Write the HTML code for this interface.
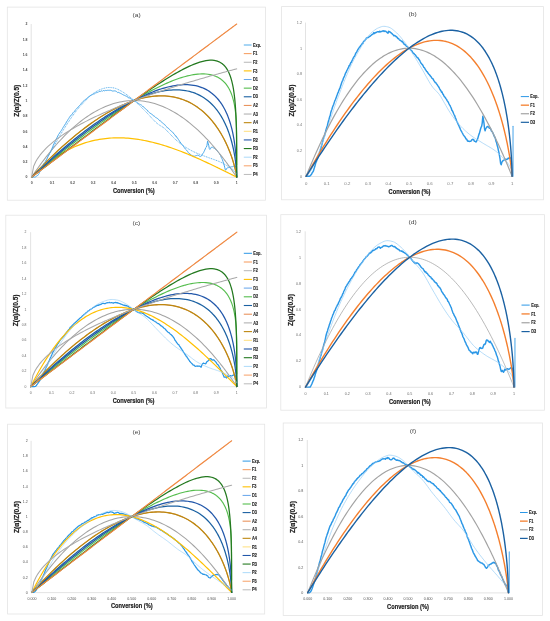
<!DOCTYPE html>
<html lang="en"><head><meta charset="utf-8"><title>Master plots Z(α)/Z(0.5)</title>
<style>html,body{margin:0;padding:0;background:#fff;}svg{display:block;filter:blur(0.3px);font-family:'Liberation Sans', 'DejaVu Sans', sans-serif;}</style>
</head><body>
<svg width="550" height="621" viewBox="0 0 550 621">
<rect width="550" height="621" fill="#fff"/>
<g>
<rect x="7.3" y="7.1" width="258.2" height="193.1" fill="#fff" stroke="#e4e4e4" stroke-width="0.8"/>
<path d="M31.20 24.00V177.30H236.70" fill="none" stroke="#d4d4d4" stroke-width="0.65"/>
<text transform="translate(27.50 178.43) scale(0.950 1)" font-size="3.70" fill="#4d4d4d" text-anchor="end" font-weight="bold">0</text>
<text transform="translate(27.50 163.12) scale(0.950 1)" font-size="3.70" fill="#4d4d4d" text-anchor="end" font-weight="bold">0.2</text>
<text transform="translate(27.50 147.81) scale(0.950 1)" font-size="3.70" fill="#4d4d4d" text-anchor="end" font-weight="bold">0.4</text>
<text transform="translate(27.50 132.50) scale(0.950 1)" font-size="3.70" fill="#4d4d4d" text-anchor="end" font-weight="bold">0.6</text>
<text transform="translate(27.50 117.19) scale(0.950 1)" font-size="3.70" fill="#4d4d4d" text-anchor="end" font-weight="bold">0.8</text>
<text transform="translate(27.50 101.88) scale(0.950 1)" font-size="3.70" fill="#4d4d4d" text-anchor="end" font-weight="bold">1</text>
<text transform="translate(27.50 86.57) scale(0.950 1)" font-size="3.70" fill="#4d4d4d" text-anchor="end" font-weight="bold">1.2</text>
<text transform="translate(27.50 71.26) scale(0.950 1)" font-size="3.70" fill="#4d4d4d" text-anchor="end" font-weight="bold">1.4</text>
<text transform="translate(27.50 55.95) scale(0.950 1)" font-size="3.70" fill="#4d4d4d" text-anchor="end" font-weight="bold">1.6</text>
<text transform="translate(27.50 40.64) scale(0.950 1)" font-size="3.70" fill="#4d4d4d" text-anchor="end" font-weight="bold">1.8</text>
<text transform="translate(27.50 25.33) scale(0.950 1)" font-size="3.70" fill="#4d4d4d" text-anchor="end" font-weight="bold">2</text>
<text transform="translate(31.60 184.23) scale(0.950 1)" font-size="3.70" fill="#4d4d4d" text-anchor="middle" font-weight="bold">0</text>
<text transform="translate(52.11 184.23) scale(0.950 1)" font-size="3.70" fill="#4d4d4d" text-anchor="middle" font-weight="bold">0.1</text>
<text transform="translate(72.62 184.23) scale(0.950 1)" font-size="3.70" fill="#4d4d4d" text-anchor="middle" font-weight="bold">0.2</text>
<text transform="translate(93.13 184.23) scale(0.950 1)" font-size="3.70" fill="#4d4d4d" text-anchor="middle" font-weight="bold">0.3</text>
<text transform="translate(113.64 184.23) scale(0.950 1)" font-size="3.70" fill="#4d4d4d" text-anchor="middle" font-weight="bold">0.4</text>
<text transform="translate(134.15 184.23) scale(0.950 1)" font-size="3.70" fill="#4d4d4d" text-anchor="middle" font-weight="bold">0.5</text>
<text transform="translate(154.66 184.23) scale(0.950 1)" font-size="3.70" fill="#4d4d4d" text-anchor="middle" font-weight="bold">0.6</text>
<text transform="translate(175.17 184.23) scale(0.950 1)" font-size="3.70" fill="#4d4d4d" text-anchor="middle" font-weight="bold">0.7</text>
<text transform="translate(195.68 184.23) scale(0.950 1)" font-size="3.70" fill="#4d4d4d" text-anchor="middle" font-weight="bold">0.8</text>
<text transform="translate(216.19 184.23) scale(0.950 1)" font-size="3.70" fill="#4d4d4d" text-anchor="middle" font-weight="bold">0.9</text>
<text transform="translate(236.70 184.23) scale(0.950 1)" font-size="3.70" fill="#4d4d4d" text-anchor="middle" font-weight="bold">1</text>
<text transform="translate(136.60 16.60) scale(1.080 1)" font-size="6.20" fill="#444444" text-anchor="middle" font-weight="normal">(a)</text>
<text transform="translate(133.80 192.60) scale(0.905 1)" font-size="6.30" fill="#1a1a1a" stroke="#1a1a1a" stroke-width="0.18" text-anchor="middle" font-weight="bold">Conversion (%)</text>
<text transform="translate(19.20 100.70) rotate(-90) scale(1.050 1)" font-size="6.30" fill="#1a1a1a" stroke="#1a1a1a" stroke-width="0.18" text-anchor="middle" font-weight="bold">Z(α)/Z(0.5)</text>
<g fill="none" stroke-linejoin="round" stroke-linecap="round">
<path d="M31.60 177.10L32.17 177.10L32.74 177.10L33.31 177.10L33.89 177.10L34.46 177.10L35.03 177.09L35.60 176.85L36.17 176.44L36.74 176.03L37.31 175.60L37.88 175.44L38.46 174.50L39.03 173.63L39.60 172.32L40.17 171.55L40.74 170.24L41.31 169.29L41.88 168.18L42.45 167.20L43.03 166.61L43.60 165.35L44.17 164.46L44.74 163.52L45.31 162.32L45.88 161.34L46.45 159.95L47.03 158.77L47.60 157.36L48.17 156.01L48.74 155.05L49.31 153.87L49.88 152.80L50.45 151.70L51.02 150.51L51.60 149.20L52.17 148.14L52.74 146.65L53.31 145.13L53.88 144.02L54.45 142.94L55.02 141.84L55.59 140.61L56.17 139.00L56.74 138.12L57.31 137.11L57.88 135.92L58.45 134.60L59.02 133.98L59.59 132.98L60.17 132.13L60.74 131.35L61.31 130.58L61.88 129.55L62.45 128.65L63.02 127.65L63.59 126.73L64.16 125.82L64.74 125.02L65.31 123.97L65.88 123.29L66.45 121.98L67.02 121.14L67.59 120.33L68.16 119.30L68.74 118.53L69.31 117.52L69.88 116.66L70.45 115.78L71.02 115.64L71.59 114.91L72.16 114.04L72.73 113.22L73.31 112.41L73.88 111.81L74.45 111.52L75.02 110.57L75.59 109.72L76.16 109.18L76.73 108.45L77.30 107.99L77.88 107.36L78.45 106.67L79.02 106.01L79.59 105.42L80.16 104.80L80.73 104.28L81.30 103.46L81.88 102.86L82.45 102.06L83.02 101.44L83.59 101.04L84.16 100.61L84.73 100.15L85.30 99.50L85.87 99.11L86.45 98.73L87.02 98.21L87.59 97.86L88.16 97.17L88.73 96.90L89.30 96.17L89.87 95.89L90.44 95.49L91.02 95.44L91.59 94.91L92.16 94.53L92.73 94.54L93.30 94.16L93.87 93.85L94.44 93.83L95.02 93.30L95.59 92.95L96.16 92.98L96.73 92.51L97.30 92.53L97.87 92.08L98.44 92.12L99.01 91.48L99.59 91.45L100.16 91.39L100.73 91.39L101.30 90.93L101.87 90.70L102.44 91.25L103.01 90.65L103.58 90.50L104.16 90.65L104.73 90.84L105.30 90.42L105.87 90.53L106.44 90.54L107.01 90.59L107.58 90.25L108.16 90.17L108.73 90.40L109.30 90.21L109.87 90.53L110.44 90.27L111.01 90.48L111.58 90.63L112.15 90.92L112.73 91.06L113.30 91.02L113.87 90.91L114.44 90.88L115.01 90.96L115.58 91.07L116.15 91.42L116.73 91.66L117.30 92.13L117.87 92.74L118.44 92.38L119.01 92.41L119.58 92.92L120.15 93.23L120.72 93.48L121.30 93.73L121.87 93.97L122.44 94.45L123.01 94.64L123.58 95.02L124.15 95.12L124.72 95.52L125.29 95.70L125.87 96.13L126.44 96.26L127.01 96.72L127.58 96.72L128.15 97.74L128.72 97.86L129.29 97.91L129.87 97.95L130.44 98.71L131.01 98.94L131.58 99.26L132.15 99.28L132.72 99.83L133.29 99.96L133.86 100.44L134.44 100.93L135.01 101.02L135.58 101.36L136.15 101.61L136.72 102.24L137.29 102.73L137.86 102.93L138.43 103.39L139.01 103.78L139.58 104.22L140.15 104.39L140.72 104.89L141.29 105.00L141.86 105.52L142.43 106.01L143.01 106.85L143.58 106.95L144.15 107.48L144.72 107.93L145.29 108.43L145.86 109.21L146.43 109.55L147.00 110.32L147.58 110.43L148.15 111.51L148.72 112.08L149.29 112.55L149.86 112.90L150.43 113.40L151.00 113.35L151.57 114.20L152.15 114.82L152.72 114.86L153.29 115.60L153.86 116.16L154.43 116.26L155.00 116.75L155.57 117.39L156.15 117.53L156.72 118.19L157.29 118.38L157.86 119.01L158.43 119.28L159.00 119.96L159.57 120.63L160.14 120.47L160.72 121.43L161.29 121.84L161.86 122.40L162.43 122.81L163.00 123.24L163.57 123.75L164.14 124.20L164.72 124.53L165.29 125.39L165.86 126.11L166.43 126.65L167.00 127.11L167.57 127.82L168.14 127.95L168.71 128.72L169.29 129.23L169.86 129.72L170.43 130.49L171.00 130.94L171.57 131.23L172.14 131.80L172.71 132.55L173.28 132.77L173.86 133.90L174.43 134.37L175.00 135.02L175.57 136.16L176.14 136.10L176.71 137.13L177.28 138.15L177.86 138.43L178.43 139.49L179.00 140.33L179.57 141.31L180.14 141.99L180.71 143.05L181.28 143.43L181.85 144.39L182.43 145.08L183.00 145.67L183.57 146.59L184.14 147.35L184.71 148.09L185.28 148.98L185.85 149.41L186.42 149.96L187.00 150.76L187.57 151.40L188.14 152.33L188.71 152.94L189.28 153.61L189.85 153.68L190.42 154.41L191.00 154.59L191.57 155.38L192.14 155.67L192.71 155.84L193.28 155.92L193.85 156.23L194.42 156.23L194.99 156.09L195.57 155.83L196.14 155.83L196.71 155.38L197.28 155.22L197.85 155.15L198.42 155.37L198.99 156.00L199.56 156.16L200.14 156.41L200.71 156.35L201.28 155.94L201.85 155.57L202.42 154.55L202.99 153.27L203.56 152.66L204.14 151.40L204.71 150.21L205.28 148.93L205.85 147.51L206.42 146.96L206.99 145.32L207.56 141.19L208.13 143.14L208.71 145.20L209.28 148.53L209.85 149.41L210.42 148.83L210.99 147.52L211.56 147.33L212.13 147.14L212.71 147.38L213.28 147.77L213.85 148.14L214.42 148.36L214.99 148.87L215.56 149.15L216.13 149.86L216.70 150.20L217.28 150.82L217.85 151.83L218.42 152.25L218.99 153.23L219.56 153.78L220.13 154.78L220.70 155.72L221.27 157.34L221.85 158.54L222.42 159.66L222.99 161.48L223.56 163.32L224.13 165.11L224.70 167.20L225.27 169.77L225.85 170.21L226.42 168.65L226.99 168.38L227.56 167.89L228.13 167.72L228.70 167.51L229.27 167.39L229.84 167.26L230.42 167.05L230.99 167.23L231.56 166.75L232.13 166.63L232.70 166.65L233.27 166.33L233.84 166.45L234.41 166.28L234.99 166.04L235.56 166.03L236.13 169.27L236.70 177.10" stroke="#47a7ea" stroke-width="1.00" />
<path d="M237.62 177.10L237.62 177.10" stroke="#4fabea" stroke-width="0.70" />
<path d="M31.60 177.10L33.65 174.90L35.70 172.73L37.75 170.57L39.80 168.44L41.86 166.34L43.91 164.25L45.96 162.19L48.01 160.16L50.06 158.14L52.11 156.16L54.16 154.19L56.21 152.25L58.26 150.34L60.31 148.45L62.36 146.59L64.42 144.75L66.47 142.94L68.52 141.16L70.57 139.40L72.62 137.67L74.67 135.97L76.72 134.29L78.77 132.65L80.82 131.03L82.88 129.44L84.93 127.88L86.98 126.36L89.03 124.86L91.08 123.39L93.13 121.95L95.18 120.55L97.23 119.18L99.28 117.83L101.33 116.53L103.39 115.25L105.44 114.01L107.49 112.81L109.54 111.64L111.59 110.50L113.64 109.40L115.69 108.34L117.74 107.32L119.79 106.33L121.84 105.38L123.90 104.47L125.95 103.61L128.00 102.78L130.05 101.99L132.10 101.25L134.15 100.55L136.20 99.89L138.25 99.28L140.30 98.72L142.35 98.20L144.41 97.73L146.46 97.31L148.51 96.94L150.56 96.62L152.61 96.36L154.66 96.15L156.71 95.99L158.76 95.89L160.81 95.85L162.86 95.86L164.91 95.94L166.97 96.08L169.02 96.29L171.07 96.56L173.12 96.91L175.17 97.32L177.22 97.81L179.27 98.37L181.32 99.02L183.37 99.74L185.42 100.55L187.48 101.45L189.53 102.44L191.58 103.52L193.63 104.71L195.68 106.00L197.73 107.40L199.78 108.92L201.83 110.56L203.88 112.34L205.93 114.25L207.99 116.30L210.04 118.52L212.09 120.90L214.14 123.47L216.19 126.24L216.60 126.82L217.01 127.41L217.42 128.01L217.83 128.62L218.24 129.23L218.65 129.86L219.06 130.50L219.47 131.14L219.88 131.80L220.29 132.47L220.70 133.15L221.11 133.84L221.52 134.54L221.93 135.26L222.34 135.98L222.75 136.72L223.16 137.48L223.57 138.24L223.98 139.02L224.39 139.82L224.80 140.62L225.21 141.45L225.62 142.29L226.03 143.14L226.44 144.02L226.86 144.91L227.27 145.82L227.68 146.74L228.09 147.69L228.50 148.66L228.91 149.65L229.32 150.67L229.73 151.71L230.14 152.77L230.55 153.86L230.96 154.99L231.37 156.14L231.78 157.33L232.19 158.55L232.60 159.82L233.01 161.13L233.42 162.49L233.83 163.90L234.24 165.38L234.65 166.93L234.70 167.13L234.75 167.33L234.80 167.53L234.85 167.74L234.91 167.94L234.96 168.15L235.01 168.36L235.06 168.57L235.11 168.78L235.16 168.99L235.21 169.21L235.26 169.43L235.32 169.65L235.37 169.87L235.42 170.09L235.47 170.32L235.52 170.55L235.57 170.78L235.62 171.01L235.67 171.25L235.73 171.49L235.78 171.73L235.83 171.97L235.88 172.22L235.93 172.47L235.98 172.73L236.03 172.99L236.08 173.25L236.14 173.52L236.19 173.79L236.24 174.07L236.29 174.35L236.34 174.65L236.39 174.95L236.44 175.25L236.49 175.57L236.55 175.91L236.60 176.26L236.65 176.64L236.70 177.10" stroke="#f47f2e" stroke-width="0.33" />
<path d="M31.60 177.10L33.65 174.07L35.70 171.10L37.75 168.19L39.80 165.34L41.86 162.56L43.91 159.83L45.96 157.17L48.01 154.56L50.06 152.02L52.11 149.54L54.16 147.12L56.21 144.77L58.26 142.47L60.31 140.23L62.36 138.06L64.42 135.95L66.47 133.90L68.52 131.90L70.57 129.98L72.62 128.11L74.67 126.30L76.72 124.56L78.77 122.87L80.82 121.25L82.88 119.69L84.93 118.19L86.98 116.75L89.03 115.37L91.08 114.05L93.13 112.80L95.18 111.60L97.23 110.47L99.28 109.40L101.33 108.39L103.39 107.44L105.44 106.55L107.49 105.72L109.54 104.96L111.59 104.26L113.64 103.61L115.69 103.03L117.74 102.51L119.79 102.05L121.84 101.65L123.90 101.32L125.95 101.04L128.00 100.83L130.05 100.67L132.10 100.58L134.15 100.55L136.20 100.58L138.25 100.67L140.30 100.83L142.35 101.04L144.41 101.32L146.46 101.65L148.51 102.05L150.56 102.51L152.61 103.03L154.66 103.61L156.71 104.26L158.76 104.96L160.81 105.72L162.86 106.55L164.91 107.44L166.97 108.39L169.02 109.40L171.07 110.47L173.12 111.60L175.17 112.80L177.22 114.05L179.27 115.37L181.32 116.75L183.37 118.19L185.42 119.69L187.48 121.25L189.53 122.87L191.58 124.56L193.63 126.30L195.68 128.11L197.73 129.98L199.78 131.90L201.83 133.90L203.88 135.95L205.93 138.06L207.99 140.23L210.04 142.47L212.09 144.77L214.14 147.12L216.19 149.54L216.60 150.03L217.01 150.53L217.42 151.02L217.83 151.52L218.24 152.02L218.65 152.53L219.06 153.03L219.47 153.54L219.88 154.05L220.29 154.56L220.70 155.08L221.11 155.60L221.52 156.12L221.93 156.64L222.34 157.17L222.75 157.69L223.16 158.22L223.57 158.76L223.98 159.29L224.39 159.83L224.80 160.37L225.21 160.91L225.62 161.46L226.03 162.01L226.44 162.56L226.86 163.11L227.27 163.66L227.68 164.22L228.09 164.78L228.50 165.34L228.91 165.91L229.32 166.47L229.73 167.04L230.14 167.62L230.55 168.19L230.96 168.77L231.37 169.35L231.78 169.93L232.19 170.51L232.60 171.10L233.01 171.69L233.42 172.28L233.83 172.87L234.24 173.47L234.65 174.07L234.70 174.14L234.75 174.22L234.80 174.29L234.85 174.37L234.91 174.44L234.96 174.52L235.01 174.59L235.06 174.67L235.11 174.75L235.16 174.82L235.21 174.90L235.26 174.97L235.32 175.05L235.37 175.12L235.42 175.20L235.47 175.27L235.52 175.35L235.57 175.43L235.62 175.50L235.67 175.58L235.73 175.65L235.78 175.73L235.83 175.80L235.88 175.88L235.93 175.96L235.98 176.03L236.03 176.11L236.08 176.18L236.14 176.26L236.19 176.34L236.24 176.41L236.29 176.49L236.34 176.57L236.39 176.64L236.44 176.72L236.49 176.79L236.55 176.87L236.60 176.95L236.65 177.02L236.70 177.10" stroke="#a3a3a3" stroke-width="1.05" />
<path d="M31.60 177.10L33.65 175.09L35.70 173.14L37.75 171.25L39.80 169.42L41.86 167.65L43.91 165.93L45.96 164.28L48.01 162.68L50.06 161.13L52.11 159.65L54.16 158.21L56.21 156.84L58.26 155.51L60.31 154.24L62.36 153.03L64.42 151.86L66.47 150.75L68.52 149.68L70.57 148.67L72.62 147.70L74.67 146.79L76.72 145.92L78.77 145.11L80.82 144.33L82.88 143.61L84.93 142.93L86.98 142.30L89.03 141.71L91.08 141.16L93.13 140.66L95.18 140.20L97.23 139.79L99.28 139.41L101.33 139.08L103.39 138.79L105.44 138.53L107.49 138.32L109.54 138.14L111.59 138.01L113.64 137.91L115.69 137.84L117.74 137.82L119.79 137.82L121.84 137.87L123.90 137.94L125.95 138.06L128.00 138.20L130.05 138.38L132.10 138.59L134.15 138.82L136.20 139.10L138.25 139.40L140.30 139.73L142.35 140.08L144.41 140.47L146.46 140.89L148.51 141.33L150.56 141.79L152.61 142.29L154.66 142.81L156.71 143.35L158.76 143.92L160.81 144.51L162.86 145.12L164.91 145.75L166.97 146.41L169.02 147.09L171.07 147.78L173.12 148.50L175.17 149.24L177.22 149.99L179.27 150.76L181.32 151.55L183.37 152.36L185.42 153.18L187.48 154.01L189.53 154.87L191.58 155.73L193.63 156.61L195.68 157.50L197.73 158.41L199.78 159.32L201.83 160.25L203.88 161.19L205.93 162.13L207.99 163.09L210.04 164.06L212.09 165.03L214.14 166.01L216.19 167.00L216.60 167.19L217.01 167.39L217.42 167.59L217.83 167.79L218.24 167.99L218.65 168.19L219.06 168.39L219.47 168.59L219.88 168.79L220.29 168.99L220.70 169.19L221.11 169.39L221.52 169.59L221.93 169.79L222.34 169.99L222.75 170.19L223.16 170.39L223.57 170.59L223.98 170.80L224.39 171.00L224.80 171.20L225.21 171.40L225.62 171.60L226.03 171.81L226.44 172.01L226.86 172.21L227.27 172.41L227.68 172.62L228.09 172.82L228.50 173.02L228.91 173.23L229.32 173.43L229.73 173.63L230.14 173.84L230.55 174.04L230.96 174.24L231.37 174.45L231.78 174.65L232.19 174.86L232.60 175.06L233.01 175.26L233.42 175.47L233.83 175.67L234.24 175.88L234.65 176.08L234.70 176.10L234.75 176.13L234.80 176.16L234.85 176.18L234.91 176.21L234.96 176.23L235.01 176.26L235.06 176.28L235.11 176.31L235.16 176.33L235.21 176.36L235.26 176.39L235.32 176.41L235.37 176.44L235.42 176.46L235.47 176.49L235.52 176.51L235.57 176.54L235.62 176.56L235.67 176.59L235.73 176.62L235.78 176.64L235.83 176.67L235.88 176.69L235.93 176.72L235.98 176.74L236.03 176.77L236.08 176.79L236.14 176.82L236.19 176.84L236.24 176.87L236.29 176.90L236.34 176.92L236.39 176.95L236.44 176.97L236.49 177.00L236.55 177.02L236.60 177.05L236.65 177.07L236.70 177.10" stroke="#ffc000" stroke-width="1.20" />
<path d="M31.60 177.10L33.65 175.57L35.70 174.04L37.75 172.51L39.80 170.98L41.86 169.44L43.91 167.91L45.96 166.38L48.01 164.85L50.06 163.32L52.11 161.79L54.16 160.26L56.21 158.73L58.26 157.20L60.31 155.67L62.36 154.13L64.42 152.60L66.47 151.07L68.52 149.54L70.57 148.01L72.62 146.48L74.67 144.95L76.72 143.42L78.77 141.89L80.82 140.36L82.88 138.82L84.93 137.29L86.98 135.76L89.03 134.23L91.08 132.70L93.13 131.17L95.18 129.64L97.23 128.11L99.28 126.58L101.33 125.05L103.39 123.51L105.44 121.98L107.49 120.45L109.54 118.92L111.59 117.39L113.64 115.86L115.69 114.33L117.74 112.80L119.79 111.27L121.84 109.74L123.90 108.20L125.95 106.67L128.00 105.14L130.05 103.61L132.10 102.08L134.15 100.55L136.20 99.02L138.25 97.49L140.30 95.96L142.35 94.43L144.41 92.89L146.46 91.36L148.51 89.83L150.56 88.30L152.61 86.77L154.66 85.24L156.71 83.71L158.76 82.18L160.81 80.65L162.86 79.12L164.91 77.58L166.97 76.05L169.02 74.52L171.07 72.99L173.12 71.46L175.17 69.93L177.22 68.40L179.27 66.87L181.32 65.34L183.37 63.81L185.42 62.28L187.48 60.74L189.53 59.21L191.58 57.68L193.63 56.15L195.68 54.62L197.73 53.09L199.78 51.56L201.83 50.03L203.88 48.50L205.93 46.97L207.99 45.43L210.04 43.90L212.09 42.37L214.14 40.84L216.19 39.31L216.60 39.00L217.01 38.70L217.42 38.39L217.83 38.09L218.24 37.78L218.65 37.47L219.06 37.17L219.47 36.86L219.88 36.55L220.29 36.25L220.70 35.94L221.11 35.64L221.52 35.33L221.93 35.02L222.34 34.72L222.75 34.41L223.16 34.10L223.57 33.80L223.98 33.49L224.39 33.19L224.80 32.88L225.21 32.57L225.62 32.27L226.03 31.96L226.44 31.66L226.86 31.35L227.27 31.04L227.68 30.74L228.09 30.43L228.50 30.12L228.91 29.82L229.32 29.51L229.73 29.21L230.14 28.90L230.55 28.59L230.96 28.29L231.37 27.98L231.78 27.67L232.19 27.37L232.60 27.06L233.01 26.76L233.42 26.45L233.83 26.14L234.24 25.84L234.65 25.53L234.70 25.49L234.75 25.45L234.80 25.42L234.85 25.38L234.91 25.34L234.96 25.30L235.01 25.26L235.06 25.22L235.11 25.19L235.16 25.15L235.21 25.11L235.26 25.07L235.32 25.03L235.37 25.00L235.42 24.96L235.47 24.92L235.52 24.88L235.57 24.84L235.62 24.80L235.67 24.77L235.73 24.73L235.78 24.69L235.83 24.65L235.88 24.61L235.93 24.57L235.98 24.54L236.03 24.50L236.08 24.46L236.14 24.42L236.19 24.38L236.24 24.34L236.29 24.31L236.34 24.27L236.39 24.23L236.44 24.19L236.49 24.15L236.55 24.11L236.60 24.08L236.65 24.04L236.70 24.00" stroke="#3d8ee6" stroke-width="0.33" />
<path d="M31.60 177.10L33.65 175.37L35.70 173.65L37.75 171.94L39.80 170.23L41.86 168.53L43.91 166.83L45.96 165.14L48.01 163.46L50.06 161.78L52.11 160.11L54.16 158.45L56.21 156.79L58.26 155.14L60.31 153.50L62.36 151.86L64.42 150.24L66.47 148.62L68.52 147.00L70.57 145.40L72.62 143.80L74.67 142.21L76.72 140.63L78.77 139.06L80.82 137.50L82.88 135.94L84.93 134.39L86.98 132.86L89.03 131.33L91.08 129.81L93.13 128.30L95.18 126.80L97.23 125.31L99.28 123.84L101.33 122.37L103.39 120.91L105.44 119.46L107.49 118.03L109.54 116.61L111.59 115.20L113.64 113.80L115.69 112.41L117.74 111.04L119.79 109.68L121.84 108.33L123.90 106.99L125.95 105.68L128.00 104.37L130.05 103.08L132.10 101.81L134.15 100.55L136.20 99.31L138.25 98.09L140.30 96.88L142.35 95.69L144.41 94.52L146.46 93.37L148.51 92.24L150.56 91.13L152.61 90.04L154.66 88.98L156.71 87.93L158.76 86.92L160.81 85.92L162.86 84.96L164.91 84.02L166.97 83.11L169.02 82.23L171.07 81.38L173.12 80.56L175.17 79.78L177.22 79.03L179.27 78.33L181.32 77.66L183.37 77.04L185.42 76.46L187.48 75.93L189.53 75.45L191.58 75.03L193.63 74.66L195.68 74.36L197.73 74.13L199.78 73.98L201.83 73.90L203.88 73.91L205.93 74.03L207.99 74.25L210.04 74.59L212.09 75.06L214.14 75.70L216.19 76.51L216.60 76.70L217.01 76.89L217.42 77.09L217.83 77.31L218.24 77.53L218.65 77.76L219.06 78.00L219.47 78.26L219.88 78.52L220.29 78.80L220.70 79.08L221.11 79.38L221.52 79.70L221.93 80.02L222.34 80.36L222.75 80.72L223.16 81.09L223.57 81.48L223.98 81.88L224.39 82.30L224.80 82.74L225.21 83.20L225.62 83.69L226.03 84.19L226.44 84.72L226.86 85.28L227.27 85.86L227.68 86.47L228.09 87.11L228.50 87.79L228.91 88.51L229.32 89.26L229.73 90.06L230.14 90.91L230.55 91.81L230.96 92.77L231.37 93.80L231.78 94.90L232.19 96.09L232.60 97.38L233.01 98.79L233.42 100.34L233.83 102.06L234.24 104.00L234.65 106.21L234.70 106.51L234.75 106.82L234.80 107.14L234.85 107.46L234.91 107.78L234.96 108.12L235.01 108.46L235.06 108.81L235.11 109.17L235.16 109.54L235.21 109.92L235.26 110.31L235.32 110.71L235.37 111.12L235.42 111.55L235.47 111.98L235.52 112.43L235.57 112.90L235.62 113.38L235.67 113.88L235.73 114.40L235.78 114.94L235.83 115.51L235.88 116.10L235.93 116.72L235.98 117.37L236.03 118.06L236.08 118.78L236.14 119.56L236.19 120.39L236.24 121.28L236.29 122.25L236.34 123.32L236.39 124.51L236.44 125.86L236.49 127.43L236.55 129.33L236.60 131.80L236.65 135.50L236.70 164.58" stroke="#55bd4e" stroke-width="1.15" />
<path d="M31.60 177.10L33.65 175.14L35.70 173.20L37.75 171.27L39.80 169.35L41.86 167.45L43.91 165.56L45.96 163.69L48.01 161.83L50.06 159.98L52.11 158.15L54.16 156.34L56.21 154.54L58.26 152.75L60.31 150.98L62.36 149.23L64.42 147.49L66.47 145.77L68.52 144.07L70.57 142.38L72.62 140.71L74.67 139.06L76.72 137.43L78.77 135.81L80.82 134.22L82.88 132.64L84.93 131.08L86.98 129.54L89.03 128.02L91.08 126.52L93.13 125.05L95.18 123.59L97.23 122.15L99.28 120.74L101.33 119.35L103.39 117.98L105.44 116.63L107.49 115.31L109.54 114.02L111.59 112.74L113.64 111.50L115.69 110.27L117.74 109.08L119.79 107.91L121.84 106.77L123.90 105.66L125.95 104.58L128.00 103.52L130.05 102.50L132.10 101.51L134.15 100.55L136.20 99.62L138.25 98.73L140.30 97.87L142.35 97.05L144.41 96.27L146.46 95.52L148.51 94.81L150.56 94.15L152.61 93.52L154.66 92.94L156.71 92.40L158.76 91.91L160.81 91.46L162.86 91.07L164.91 90.72L166.97 90.43L169.02 90.20L171.07 90.02L173.12 89.90L175.17 89.84L177.22 89.85L179.27 89.93L181.32 90.08L183.37 90.30L185.42 90.60L187.48 90.99L189.53 91.46L191.58 92.03L193.63 92.69L195.68 93.46L197.73 94.34L199.78 95.34L201.83 96.48L203.88 97.75L205.93 99.17L207.99 100.75L210.04 102.52L212.09 104.48L214.14 106.67L216.19 109.10L216.60 109.62L217.01 110.15L217.42 110.69L217.83 111.25L218.24 111.82L218.65 112.40L219.06 112.99L219.47 113.60L219.88 114.22L220.29 114.86L220.70 115.51L221.11 116.18L221.52 116.87L221.93 117.57L222.34 118.29L222.75 119.02L223.16 119.78L223.57 120.55L223.98 121.35L224.39 122.17L224.80 123.01L225.21 123.87L225.62 124.76L226.03 125.67L226.44 126.61L226.86 127.58L227.27 128.57L227.68 129.60L228.09 130.67L228.50 131.77L228.91 132.91L229.32 134.09L229.73 135.31L230.14 136.58L230.55 137.90L230.96 139.28L231.37 140.72L231.78 142.23L232.19 143.81L232.60 145.48L233.01 147.25L233.42 149.12L233.83 151.13L234.24 153.29L234.65 155.65L234.70 155.96L234.75 156.27L234.80 156.59L234.85 156.92L234.91 157.24L234.96 157.57L235.01 157.91L235.06 158.25L235.11 158.60L235.16 158.95L235.21 159.31L235.26 159.67L235.32 160.04L235.37 160.41L235.42 160.80L235.47 161.18L235.52 161.58L235.57 161.99L235.62 162.40L235.67 162.82L235.73 163.25L235.78 163.70L235.83 164.15L235.88 164.61L235.93 165.09L235.98 165.58L236.03 166.09L236.08 166.61L236.14 167.16L236.19 167.72L236.24 168.31L236.29 168.93L236.34 169.58L236.39 170.27L236.44 171.00L236.49 171.80L236.55 172.68L236.60 173.68L236.65 174.91L236.70 177.10" stroke="#1b61a2" stroke-width="1.25" />
<path d="M31.60 177.10L33.65 174.90L35.70 172.73L37.75 170.57L39.80 168.44L41.86 166.34L43.91 164.25L45.96 162.19L48.01 160.16L50.06 158.14L52.11 156.16L54.16 154.19L56.21 152.25L58.26 150.34L60.31 148.45L62.36 146.59L64.42 144.75L66.47 142.94L68.52 141.16L70.57 139.40L72.62 137.67L74.67 135.97L76.72 134.29L78.77 132.65L80.82 131.03L82.88 129.44L84.93 127.88L86.98 126.36L89.03 124.86L91.08 123.39L93.13 121.95L95.18 120.55L97.23 119.18L99.28 117.83L101.33 116.53L103.39 115.25L105.44 114.01L107.49 112.81L109.54 111.64L111.59 110.50L113.64 109.40L115.69 108.34L117.74 107.32L119.79 106.33L121.84 105.38L123.90 104.47L125.95 103.61L128.00 102.78L130.05 101.99L132.10 101.25L134.15 100.55L136.20 99.89L138.25 99.28L140.30 98.72L142.35 98.20L144.41 97.73L146.46 97.31L148.51 96.94L150.56 96.62L152.61 96.36L154.66 96.15L156.71 95.99L158.76 95.89L160.81 95.85L162.86 95.86L164.91 95.94L166.97 96.08L169.02 96.29L171.07 96.56L173.12 96.91L175.17 97.32L177.22 97.81L179.27 98.37L181.32 99.02L183.37 99.74L185.42 100.55L187.48 101.45L189.53 102.44L191.58 103.52L193.63 104.71L195.68 106.00L197.73 107.40L199.78 108.92L201.83 110.56L203.88 112.34L205.93 114.25L207.99 116.30L210.04 118.52L212.09 120.90L214.14 123.47L216.19 126.24L216.60 126.82L217.01 127.41L217.42 128.01L217.83 128.62L218.24 129.23L218.65 129.86L219.06 130.50L219.47 131.14L219.88 131.80L220.29 132.47L220.70 133.15L221.11 133.84L221.52 134.54L221.93 135.26L222.34 135.98L222.75 136.72L223.16 137.48L223.57 138.24L223.98 139.02L224.39 139.82L224.80 140.62L225.21 141.45L225.62 142.29L226.03 143.14L226.44 144.02L226.86 144.91L227.27 145.82L227.68 146.74L228.09 147.69L228.50 148.66L228.91 149.65L229.32 150.67L229.73 151.71L230.14 152.77L230.55 153.86L230.96 154.99L231.37 156.14L231.78 157.33L232.19 158.55L232.60 159.82L233.01 161.13L233.42 162.49L233.83 163.90L234.24 165.38L234.65 166.93L234.70 167.13L234.75 167.33L234.80 167.53L234.85 167.74L234.91 167.94L234.96 168.15L235.01 168.36L235.06 168.57L235.11 168.78L235.16 168.99L235.21 169.21L235.26 169.43L235.32 169.65L235.37 169.87L235.42 170.09L235.47 170.32L235.52 170.55L235.57 170.78L235.62 171.01L235.67 171.25L235.73 171.49L235.78 171.73L235.83 171.97L235.88 172.22L235.93 172.47L235.98 172.73L236.03 172.99L236.08 173.25L236.14 173.52L236.19 173.79L236.24 174.07L236.29 174.35L236.34 174.65L236.39 174.95L236.44 175.25L236.49 175.57L236.55 175.91L236.60 176.26L236.65 176.64L236.70 177.10" stroke="#e47c3a" stroke-width="0.33" />
<path d="M31.60 177.10L33.65 174.90L35.70 172.73L37.75 170.57L39.80 168.44L41.86 166.34L43.91 164.25L45.96 162.19L48.01 160.16L50.06 158.14L52.11 156.16L54.16 154.19L56.21 152.25L58.26 150.34L60.31 148.45L62.36 146.59L64.42 144.75L66.47 142.94L68.52 141.16L70.57 139.40L72.62 137.67L74.67 135.97L76.72 134.29L78.77 132.65L80.82 131.03L82.88 129.44L84.93 127.88L86.98 126.36L89.03 124.86L91.08 123.39L93.13 121.95L95.18 120.55L97.23 119.18L99.28 117.83L101.33 116.53L103.39 115.25L105.44 114.01L107.49 112.81L109.54 111.64L111.59 110.50L113.64 109.40L115.69 108.34L117.74 107.32L119.79 106.33L121.84 105.38L123.90 104.47L125.95 103.61L128.00 102.78L130.05 101.99L132.10 101.25L134.15 100.55L136.20 99.89L138.25 99.28L140.30 98.72L142.35 98.20L144.41 97.73L146.46 97.31L148.51 96.94L150.56 96.62L152.61 96.36L154.66 96.15L156.71 95.99L158.76 95.89L160.81 95.85L162.86 95.86L164.91 95.94L166.97 96.08L169.02 96.29L171.07 96.56L173.12 96.91L175.17 97.32L177.22 97.81L179.27 98.37L181.32 99.02L183.37 99.74L185.42 100.55L187.48 101.45L189.53 102.44L191.58 103.52L193.63 104.71L195.68 106.00L197.73 107.40L199.78 108.92L201.83 110.56L203.88 112.34L205.93 114.25L207.99 116.30L210.04 118.52L212.09 120.90L214.14 123.47L216.19 126.24L216.60 126.82L217.01 127.41L217.42 128.01L217.83 128.62L218.24 129.23L218.65 129.86L219.06 130.50L219.47 131.14L219.88 131.80L220.29 132.47L220.70 133.15L221.11 133.84L221.52 134.54L221.93 135.26L222.34 135.98L222.75 136.72L223.16 137.48L223.57 138.24L223.98 139.02L224.39 139.82L224.80 140.62L225.21 141.45L225.62 142.29L226.03 143.14L226.44 144.02L226.86 144.91L227.27 145.82L227.68 146.74L228.09 147.69L228.50 148.66L228.91 149.65L229.32 150.67L229.73 151.71L230.14 152.77L230.55 153.86L230.96 154.99L231.37 156.14L231.78 157.33L232.19 158.55L232.60 159.82L233.01 161.13L233.42 162.49L233.83 163.90L234.24 165.38L234.65 166.93L234.70 167.13L234.75 167.33L234.80 167.53L234.85 167.74L234.91 167.94L234.96 168.15L235.01 168.36L235.06 168.57L235.11 168.78L235.16 168.99L235.21 169.21L235.26 169.43L235.32 169.65L235.37 169.87L235.42 170.09L235.47 170.32L235.52 170.55L235.57 170.78L235.62 171.01L235.67 171.25L235.73 171.49L235.78 171.73L235.83 171.97L235.88 172.22L235.93 172.47L235.98 172.73L236.03 172.99L236.08 173.25L236.14 173.52L236.19 173.79L236.24 174.07L236.29 174.35L236.34 174.65L236.39 174.95L236.44 175.25L236.49 175.57L236.55 175.91L236.60 176.26L236.65 176.64L236.70 177.10" stroke="#a0a0a0" stroke-width="0.33" />
<path d="M31.60 177.10L33.65 174.90L35.70 172.73L37.75 170.57L39.80 168.44L41.86 166.34L43.91 164.25L45.96 162.19L48.01 160.16L50.06 158.14L52.11 156.16L54.16 154.19L56.21 152.25L58.26 150.34L60.31 148.45L62.36 146.59L64.42 144.75L66.47 142.94L68.52 141.16L70.57 139.40L72.62 137.67L74.67 135.97L76.72 134.29L78.77 132.65L80.82 131.03L82.88 129.44L84.93 127.88L86.98 126.36L89.03 124.86L91.08 123.39L93.13 121.95L95.18 120.55L97.23 119.18L99.28 117.83L101.33 116.53L103.39 115.25L105.44 114.01L107.49 112.81L109.54 111.64L111.59 110.50L113.64 109.40L115.69 108.34L117.74 107.32L119.79 106.33L121.84 105.38L123.90 104.47L125.95 103.61L128.00 102.78L130.05 101.99L132.10 101.25L134.15 100.55L136.20 99.89L138.25 99.28L140.30 98.72L142.35 98.20L144.41 97.73L146.46 97.31L148.51 96.94L150.56 96.62L152.61 96.36L154.66 96.15L156.71 95.99L158.76 95.89L160.81 95.85L162.86 95.86L164.91 95.94L166.97 96.08L169.02 96.29L171.07 96.56L173.12 96.91L175.17 97.32L177.22 97.81L179.27 98.37L181.32 99.02L183.37 99.74L185.42 100.55L187.48 101.45L189.53 102.44L191.58 103.52L193.63 104.71L195.68 106.00L197.73 107.40L199.78 108.92L201.83 110.56L203.88 112.34L205.93 114.25L207.99 116.30L210.04 118.52L212.09 120.90L214.14 123.47L216.19 126.24L216.60 126.82L217.01 127.41L217.42 128.01L217.83 128.62L218.24 129.23L218.65 129.86L219.06 130.50L219.47 131.14L219.88 131.80L220.29 132.47L220.70 133.15L221.11 133.84L221.52 134.54L221.93 135.26L222.34 135.98L222.75 136.72L223.16 137.48L223.57 138.24L223.98 139.02L224.39 139.82L224.80 140.62L225.21 141.45L225.62 142.29L226.03 143.14L226.44 144.02L226.86 144.91L227.27 145.82L227.68 146.74L228.09 147.69L228.50 148.66L228.91 149.65L229.32 150.67L229.73 151.71L230.14 152.77L230.55 153.86L230.96 154.99L231.37 156.14L231.78 157.33L232.19 158.55L232.60 159.82L233.01 161.13L233.42 162.49L233.83 163.90L234.24 165.38L234.65 166.93L234.70 167.13L234.75 167.33L234.80 167.53L234.85 167.74L234.91 167.94L234.96 168.15L235.01 168.36L235.06 168.57L235.11 168.78L235.16 168.99L235.21 169.21L235.26 169.43L235.32 169.65L235.37 169.87L235.42 170.09L235.47 170.32L235.52 170.55L235.57 170.78L235.62 171.01L235.67 171.25L235.73 171.49L235.78 171.73L235.83 171.97L235.88 172.22L235.93 172.47L235.98 172.73L236.03 172.99L236.08 173.25L236.14 173.52L236.19 173.79L236.24 174.07L236.29 174.35L236.34 174.65L236.39 174.95L236.44 175.25L236.49 175.57L236.55 175.91L236.60 176.26L236.65 176.64L236.70 177.10" stroke="#be870f" stroke-width="1.30" />
<path d="M31.60 177.10L33.65 175.57L35.70 174.04L37.75 172.51L39.80 170.98L41.86 169.44L43.91 167.91L45.96 166.38L48.01 164.85L50.06 163.32L52.11 161.79L54.16 160.26L56.21 158.73L58.26 157.20L60.31 155.67L62.36 154.13L64.42 152.60L66.47 151.07L68.52 149.54L70.57 148.01L72.62 146.48L74.67 144.95L76.72 143.42L78.77 141.89L80.82 140.36L82.88 138.82L84.93 137.29L86.98 135.76L89.03 134.23L91.08 132.70L93.13 131.17L95.18 129.64L97.23 128.11L99.28 126.58L101.33 125.05L103.39 123.51L105.44 121.98L107.49 120.45L109.54 118.92L111.59 117.39L113.64 115.86L115.69 114.33L117.74 112.80L119.79 111.27L121.84 109.74L123.90 108.20L125.95 106.67L128.00 105.14L130.05 103.61L132.10 102.08L134.15 100.55L136.20 99.02L138.25 97.49L140.30 95.96L142.35 94.43L144.41 92.89L146.46 91.36L148.51 89.83L150.56 88.30L152.61 86.77L154.66 85.24L156.71 83.71L158.76 82.18L160.81 80.65L162.86 79.12L164.91 77.58L166.97 76.05L169.02 74.52L171.07 72.99L173.12 71.46L175.17 69.93L177.22 68.40L179.27 66.87L181.32 65.34L183.37 63.81L185.42 62.28L187.48 60.74L189.53 59.21L191.58 57.68L193.63 56.15L195.68 54.62L197.73 53.09L199.78 51.56L201.83 50.03L203.88 48.50L205.93 46.97L207.99 45.43L210.04 43.90L212.09 42.37L214.14 40.84L216.19 39.31L216.60 39.00L217.01 38.70L217.42 38.39L217.83 38.09L218.24 37.78L218.65 37.47L219.06 37.17L219.47 36.86L219.88 36.55L220.29 36.25L220.70 35.94L221.11 35.64L221.52 35.33L221.93 35.02L222.34 34.72L222.75 34.41L223.16 34.10L223.57 33.80L223.98 33.49L224.39 33.19L224.80 32.88L225.21 32.57L225.62 32.27L226.03 31.96L226.44 31.66L226.86 31.35L227.27 31.04L227.68 30.74L228.09 30.43L228.50 30.12L228.91 29.82L229.32 29.51L229.73 29.21L230.14 28.90L230.55 28.59L230.96 28.29L231.37 27.98L231.78 27.67L232.19 27.37L232.60 27.06L233.01 26.76L233.42 26.45L233.83 26.14L234.24 25.84L234.65 25.53L234.70 25.49L234.75 25.45L234.80 25.42L234.85 25.38L234.91 25.34L234.96 25.30L235.01 25.26L235.06 25.22L235.11 25.19L235.16 25.15L235.21 25.11L235.26 25.07L235.32 25.03L235.37 25.00L235.42 24.96L235.47 24.92L235.52 24.88L235.57 24.84L235.62 24.80L235.67 24.77L235.73 24.73L235.78 24.69L235.83 24.65L235.88 24.61L235.93 24.57L235.98 24.54L236.03 24.50L236.08 24.46L236.14 24.42L236.19 24.38L236.24 24.34L236.29 24.31L236.34 24.27L236.39 24.23L236.44 24.19L236.49 24.15L236.55 24.11L236.60 24.08L236.65 24.04L236.70 24.00" stroke="#ffd75a" stroke-width="0.33" />
<path d="M31.60 177.10L33.65 175.26L35.70 173.42L37.75 171.60L39.80 169.78L41.86 167.98L43.91 166.18L45.96 164.40L48.01 162.62L50.06 160.86L52.11 159.11L54.16 157.36L56.21 155.63L58.26 153.91L60.31 152.20L62.36 150.50L64.42 148.82L66.47 147.15L68.52 145.48L70.57 143.83L72.62 142.20L74.67 140.57L76.72 138.96L78.77 137.37L80.82 135.78L82.88 134.22L84.93 132.66L86.98 131.12L89.03 129.59L91.08 128.08L93.13 126.59L95.18 125.11L97.23 123.65L99.28 122.20L101.33 120.77L103.39 119.36L105.44 117.96L107.49 116.58L109.54 115.23L111.59 113.89L113.64 112.57L115.69 111.27L117.74 109.99L119.79 108.73L121.84 107.49L123.90 106.27L125.95 105.08L128.00 103.91L130.05 102.77L132.10 101.65L134.15 100.55L136.20 99.48L138.25 98.44L140.30 97.42L142.35 96.44L144.41 95.48L146.46 94.56L148.51 93.66L150.56 92.80L152.61 91.97L154.66 91.18L156.71 90.43L158.76 89.71L160.81 89.03L162.86 88.39L164.91 87.80L166.97 87.25L169.02 86.75L171.07 86.29L173.12 85.89L175.17 85.54L177.22 85.24L179.27 85.01L181.32 84.84L183.37 84.73L185.42 84.70L187.48 84.73L189.53 84.85L191.58 85.05L193.63 85.34L195.68 85.73L197.73 86.22L199.78 86.82L201.83 87.54L203.88 88.39L205.93 89.39L207.99 90.55L210.04 91.88L212.09 93.42L214.14 95.17L216.19 97.18L216.60 97.61L217.01 98.06L217.42 98.52L217.83 98.99L218.24 99.48L218.65 99.98L219.06 100.49L219.47 101.02L219.88 101.57L220.29 102.13L220.70 102.70L221.11 103.29L221.52 103.91L221.93 104.53L222.34 105.18L222.75 105.85L223.16 106.54L223.57 107.25L223.98 107.98L224.39 108.74L224.80 109.52L225.21 110.33L225.62 111.17L226.03 112.03L226.44 112.93L226.86 113.86L227.27 114.83L227.68 115.83L228.09 116.88L228.50 117.96L228.91 119.09L229.32 120.28L229.73 121.51L230.14 122.81L230.55 124.17L230.96 125.60L231.37 127.11L231.78 128.71L232.19 130.41L232.60 132.22L233.01 134.16L233.42 136.26L233.83 138.54L234.24 141.05L234.65 143.83L234.70 144.21L234.75 144.59L234.80 144.97L234.85 145.36L234.91 145.76L234.96 146.16L235.01 146.58L235.06 147.00L235.11 147.43L235.16 147.86L235.21 148.31L235.26 148.76L235.32 149.23L235.37 149.70L235.42 150.19L235.47 150.69L235.52 151.20L235.57 151.72L235.62 152.26L235.67 152.81L235.73 153.38L235.78 153.97L235.83 154.57L235.88 155.20L235.93 155.85L235.98 156.53L236.03 157.23L236.08 157.96L236.14 158.73L236.19 159.54L236.24 160.40L236.29 161.31L236.34 162.28L236.39 163.34L236.44 164.49L236.49 165.78L236.55 167.25L236.60 169.02L236.65 171.35L236.70 177.10" stroke="#2257aa" stroke-width="1.25" />
<path d="M31.60 177.10L33.65 175.54L35.70 173.98L37.75 172.43L39.80 170.87L41.86 169.31L43.91 167.75L45.96 166.19L48.01 164.64L50.06 163.08L52.11 161.52L54.16 159.97L56.21 158.41L58.26 156.86L60.31 155.30L62.36 153.75L64.42 152.19L66.47 150.64L68.52 149.09L70.57 147.54L72.62 145.99L74.67 144.44L76.72 142.89L78.77 141.35L80.82 139.80L82.88 138.26L84.93 136.72L86.98 135.18L89.03 133.64L91.08 132.10L93.13 130.57L95.18 129.04L97.23 127.51L99.28 125.98L101.33 124.45L103.39 122.93L105.44 121.41L107.49 119.89L109.54 118.38L111.59 116.87L113.64 115.36L115.69 113.86L117.74 112.36L119.79 110.87L121.84 109.38L123.90 107.89L125.95 106.41L128.00 104.94L130.05 103.47L132.10 102.01L134.15 100.55L136.20 99.10L138.25 97.66L140.30 96.22L142.35 94.80L144.41 93.38L146.46 91.97L148.51 90.57L150.56 89.18L152.61 87.80L154.66 86.44L156.71 85.09L158.76 83.75L160.81 82.42L162.86 81.11L164.91 79.82L166.97 78.54L169.02 77.29L171.07 76.05L173.12 74.83L175.17 73.64L177.22 72.48L179.27 71.34L181.32 70.23L183.37 69.16L185.42 68.12L187.48 67.12L189.53 66.16L191.58 65.25L193.63 64.39L195.68 63.58L197.73 62.84L199.78 62.17L201.83 61.58L203.88 61.08L205.93 60.68L207.99 60.40L210.04 60.24L212.09 60.24L214.14 60.43L216.19 60.82L216.60 60.93L217.01 61.05L217.42 61.18L217.83 61.33L218.24 61.48L218.65 61.65L219.06 61.83L219.47 62.02L219.88 62.23L220.29 62.46L220.70 62.70L221.11 62.95L221.52 63.23L221.93 63.52L222.34 63.83L222.75 64.17L223.16 64.52L223.57 64.90L223.98 65.30L224.39 65.73L224.80 66.18L225.21 66.67L225.62 67.18L226.03 67.73L226.44 68.32L226.86 68.94L227.27 69.61L227.68 70.32L228.09 71.08L228.50 71.89L228.91 72.77L229.32 73.70L229.73 74.71L230.14 75.80L230.55 76.97L230.96 78.25L231.37 79.63L231.78 81.15L232.19 82.81L232.60 84.64L233.01 86.69L233.42 88.98L233.83 91.58L234.24 94.57L234.65 98.08L234.70 98.56L234.75 99.06L234.80 99.56L234.85 100.08L234.91 100.61L234.96 101.16L235.01 101.72L235.06 102.30L235.11 102.89L235.16 103.50L235.21 104.13L235.26 104.78L235.32 105.44L235.37 106.13L235.42 106.85L235.47 107.58L235.52 108.35L235.57 109.14L235.62 109.97L235.67 110.83L235.73 111.72L235.78 112.66L235.83 113.64L235.88 114.67L235.93 115.75L235.98 116.90L236.03 118.11L236.08 119.40L236.14 120.78L236.19 122.26L236.24 123.87L236.29 125.62L236.34 127.55L236.39 129.71L236.44 132.16L236.49 135.02L236.55 138.48L236.60 142.94L236.65 149.50L236.70 177.10" stroke="#23791f" stroke-width="1.25" />
<path d="M31.60 177.10L32.89 176.48L34.18 175.63L35.47 174.62L36.76 173.38L38.05 171.80L39.34 170.07L40.63 168.30L41.92 166.39L43.21 164.40L44.50 162.41L45.79 160.40L47.08 158.34L48.37 156.20L49.66 153.95L50.95 151.62L52.24 149.31L53.53 147.03L54.82 144.74L56.11 142.45L57.40 140.15L58.69 137.83L59.98 135.57L61.27 133.39L62.56 131.26L63.85 129.17L65.14 127.12L66.43 125.11L67.72 123.11L69.01 121.14L70.30 119.20L71.59 117.32L72.88 115.50L74.17 113.72L75.46 111.98L76.75 110.30L78.04 108.70L79.33 107.18L80.62 105.76L81.91 104.40L83.20 103.08L84.49 101.76L85.78 100.43L87.07 99.07L88.36 97.72L89.65 96.45L90.94 95.31L92.23 94.28L93.52 93.31L94.81 92.41L96.10 91.61L97.39 90.90L98.68 90.26L99.97 89.66L101.26 89.13L102.55 88.69L103.84 88.34L105.13 88.02L106.42 87.73L107.71 87.53L109.00 87.46L110.29 87.51L111.58 87.63L112.87 87.80L114.16 88.01L115.45 88.36L116.74 88.85L118.03 89.44L119.32 90.09L120.61 90.77L121.90 91.45L123.19 92.23L124.48 93.08L125.77 93.98L127.06 94.93L128.35 95.90L129.64 96.87L130.93 97.87L132.22 98.91L133.51 99.99L134.79 101.12L136.08 102.28L137.37 103.48L138.66 104.71L139.95 105.96L141.24 107.21L142.53 108.48L143.82 109.78L145.11 111.08L146.40 112.39L147.69 113.71L148.98 115.09L150.27 116.49L151.56 117.90L152.85 119.29L154.14 120.63L155.43 121.90L156.72 123.07L158.01 124.12L159.30 125.01L160.59 125.81L161.88 126.59L163.17 127.42L164.46 128.37L165.75 129.53L167.04 130.88L168.33 132.25L169.62 133.58L170.91 134.95L172.20 136.30L173.49 137.62L174.78 138.86L176.07 140.01L177.36 141.12L178.65 142.20L179.94 143.24L181.23 144.24L182.52 145.18L183.81 146.07L185.10 146.91L186.39 147.72L187.68 148.50L188.97 149.25L190.26 149.97L191.55 150.66L192.84 151.32L194.13 151.96L195.42 152.56L196.71 153.14L198.00 153.68L199.29 154.20L200.58 154.69L201.87 155.17L203.16 155.65L204.45 156.12L205.74 156.59L207.03 157.07L208.32 157.55L209.61 158.01L210.90 158.47L212.19 158.91L213.48 159.36L214.77 159.82L216.06 160.29L217.35 160.78L218.64 161.30L219.93 161.86L221.22 162.45L222.51 163.10L223.80 163.79L225.09 164.52L226.38 165.29L227.67 166.07L228.96 166.87L230.25 167.68L231.54 168.54L232.83 169.52L234.12 170.70L235.41 172.25L236.70 174.04" stroke="#47a7ea" stroke-width="0.90" stroke-dasharray="1 0.8" stroke-linecap="butt"/>
<path d="M31.60 177.10L33.65 175.57L35.70 174.04L37.75 172.51L39.80 170.98L41.86 169.44L43.91 167.91L45.96 166.38L48.01 164.85L50.06 163.32L52.11 161.79L54.16 160.26L56.21 158.73L58.26 157.20L60.31 155.67L62.36 154.13L64.42 152.60L66.47 151.07L68.52 149.54L70.57 148.01L72.62 146.48L74.67 144.95L76.72 143.42L78.77 141.89L80.82 140.36L82.88 138.82L84.93 137.29L86.98 135.76L89.03 134.23L91.08 132.70L93.13 131.17L95.18 129.64L97.23 128.11L99.28 126.58L101.33 125.05L103.39 123.51L105.44 121.98L107.49 120.45L109.54 118.92L111.59 117.39L113.64 115.86L115.69 114.33L117.74 112.80L119.79 111.27L121.84 109.74L123.90 108.20L125.95 106.67L128.00 105.14L130.05 103.61L132.10 102.08L134.15 100.55L136.20 99.02L138.25 97.49L140.30 95.96L142.35 94.43L144.41 92.89L146.46 91.36L148.51 89.83L150.56 88.30L152.61 86.77L154.66 85.24L156.71 83.71L158.76 82.18L160.81 80.65L162.86 79.12L164.91 77.58L166.97 76.05L169.02 74.52L171.07 72.99L173.12 71.46L175.17 69.93L177.22 68.40L179.27 66.87L181.32 65.34L183.37 63.81L185.42 62.28L187.48 60.74L189.53 59.21L191.58 57.68L193.63 56.15L195.68 54.62L197.73 53.09L199.78 51.56L201.83 50.03L203.88 48.50L205.93 46.97L207.99 45.43L210.04 43.90L212.09 42.37L214.14 40.84L216.19 39.31L216.60 39.00L217.01 38.70L217.42 38.39L217.83 38.09L218.24 37.78L218.65 37.47L219.06 37.17L219.47 36.86L219.88 36.55L220.29 36.25L220.70 35.94L221.11 35.64L221.52 35.33L221.93 35.02L222.34 34.72L222.75 34.41L223.16 34.10L223.57 33.80L223.98 33.49L224.39 33.19L224.80 32.88L225.21 32.57L225.62 32.27L226.03 31.96L226.44 31.66L226.86 31.35L227.27 31.04L227.68 30.74L228.09 30.43L228.50 30.12L228.91 29.82L229.32 29.51L229.73 29.21L230.14 28.90L230.55 28.59L230.96 28.29L231.37 27.98L231.78 27.67L232.19 27.37L232.60 27.06L233.01 26.76L233.42 26.45L233.83 26.14L234.24 25.84L234.65 25.53L234.70 25.49L234.75 25.45L234.80 25.42L234.85 25.38L234.91 25.34L234.96 25.30L235.01 25.26L235.06 25.22L235.11 25.19L235.16 25.15L235.21 25.11L235.26 25.07L235.32 25.03L235.37 25.00L235.42 24.96L235.47 24.92L235.52 24.88L235.57 24.84L235.62 24.80L235.67 24.77L235.73 24.73L235.78 24.69L235.83 24.65L235.88 24.61L235.93 24.57L235.98 24.54L236.03 24.50L236.08 24.46L236.14 24.42L236.19 24.38L236.24 24.34L236.29 24.31L236.34 24.27L236.39 24.23L236.44 24.19L236.49 24.15L236.55 24.11L236.60 24.08L236.65 24.04L236.70 24.00" stroke="#f58840" stroke-width="1.15" />
<path d="M31.60 177.10L33.65 166.27L35.70 161.79L37.75 158.35L39.80 155.45L41.86 152.89L43.91 150.58L45.96 148.46L48.01 146.48L50.06 144.62L52.11 142.87L54.16 141.19L56.21 139.60L58.26 138.07L60.31 136.59L62.36 135.17L64.42 133.80L66.47 132.46L68.52 131.17L70.57 129.91L72.62 128.69L74.67 127.49L76.72 126.32L78.77 125.18L80.82 124.06L82.88 122.97L84.93 121.90L86.98 120.85L89.03 119.82L91.08 118.80L93.13 117.80L95.18 116.82L97.23 115.86L99.28 114.91L101.33 113.98L103.39 113.05L105.44 112.15L107.49 111.25L109.54 110.37L111.59 109.49L113.64 108.63L115.69 107.78L117.74 106.94L119.79 106.11L121.84 105.29L123.90 104.48L125.95 103.68L128.00 102.88L130.05 102.10L132.10 101.32L134.15 100.55L136.20 99.79L138.25 99.03L140.30 98.29L142.35 97.55L144.41 96.81L146.46 96.09L148.51 95.37L150.56 94.65L152.61 93.95L154.66 93.24L156.71 92.55L158.76 91.86L160.81 91.17L162.86 90.49L164.91 89.82L166.97 89.15L169.02 88.49L171.07 87.83L173.12 87.17L175.17 86.52L177.22 85.88L179.27 85.24L181.32 84.60L183.37 83.97L185.42 83.35L187.48 82.72L189.53 82.10L191.58 81.49L193.63 80.88L195.68 80.27L197.73 79.67L199.78 79.07L201.83 78.47L203.88 77.88L205.93 77.29L207.99 76.71L210.04 76.12L212.09 75.54L214.14 74.97L216.19 74.40L216.60 74.28L217.01 74.17L217.42 74.06L217.83 73.94L218.24 73.83L218.65 73.71L219.06 73.60L219.47 73.49L219.88 73.38L220.29 73.26L220.70 73.15L221.11 73.04L221.52 72.92L221.93 72.81L222.34 72.70L222.75 72.59L223.16 72.48L223.57 72.36L223.98 72.25L224.39 72.14L224.80 72.03L225.21 71.92L225.62 71.81L226.03 71.69L226.44 71.58L226.86 71.47L227.27 71.36L227.68 71.25L228.09 71.14L228.50 71.03L228.91 70.92L229.32 70.81L229.73 70.70L230.14 70.59L230.55 70.48L230.96 70.37L231.37 70.26L231.78 70.15L232.19 70.04L232.60 69.93L233.01 69.82L233.42 69.71L233.83 69.60L234.24 69.49L234.65 69.38L234.70 69.37L234.75 69.36L234.80 69.34L234.85 69.33L234.91 69.32L234.96 69.30L235.01 69.29L235.06 69.28L235.11 69.26L235.16 69.25L235.21 69.24L235.26 69.22L235.32 69.21L235.37 69.19L235.42 69.18L235.47 69.17L235.52 69.15L235.57 69.14L235.62 69.13L235.67 69.11L235.73 69.10L235.78 69.09L235.83 69.07L235.88 69.06L235.93 69.05L235.98 69.03L236.03 69.02L236.08 69.00L236.14 68.99L236.19 68.98L236.24 68.96L236.29 68.95L236.34 68.94L236.39 68.92L236.44 68.91L236.49 68.90L236.55 68.88L236.60 68.87L236.65 68.86L236.70 68.84" stroke="#aaaaaa" stroke-width="1.05" />
</g>
<path d="M243.80 45.00H251.60" stroke="#4fabea" stroke-width="1.00" fill="none"/>
<text transform="translate(253.00 46.62) scale(0.860 1)" font-size="4.50" fill="#1f1f1f" stroke="#1f1f1f" stroke-width="0.12" text-anchor="start" font-weight="bold">Exp.</text>
<path d="M243.80 53.63H251.60" stroke="#f47f2e" stroke-width="0.80" fill="none"/>
<text transform="translate(253.00 55.25) scale(0.860 1)" font-size="4.50" fill="#1f1f1f" stroke="#1f1f1f" stroke-width="0.12" text-anchor="start" font-weight="bold">F1</text>
<path d="M243.80 62.26H251.60" stroke="#a3a3a3" stroke-width="0.80" fill="none"/>
<text transform="translate(253.00 63.88) scale(0.860 1)" font-size="4.50" fill="#1f1f1f" stroke="#1f1f1f" stroke-width="0.12" text-anchor="start" font-weight="bold">F2</text>
<path d="M243.80 70.89H251.60" stroke="#ffc000" stroke-width="1.10" fill="none"/>
<text transform="translate(253.00 72.51) scale(0.860 1)" font-size="4.50" fill="#1f1f1f" stroke="#1f1f1f" stroke-width="0.12" text-anchor="start" font-weight="bold">F3</text>
<path d="M243.80 79.52H251.60" stroke="#3d8ee6" stroke-width="0.80" fill="none"/>
<text transform="translate(253.00 81.14) scale(0.860 1)" font-size="4.50" fill="#1f1f1f" stroke="#1f1f1f" stroke-width="0.12" text-anchor="start" font-weight="bold">D1</text>
<path d="M243.80 88.15H251.60" stroke="#55bd4e" stroke-width="1.10" fill="none"/>
<text transform="translate(253.00 89.77) scale(0.860 1)" font-size="4.50" fill="#1f1f1f" stroke="#1f1f1f" stroke-width="0.12" text-anchor="start" font-weight="bold">D2</text>
<path d="M243.80 96.78H251.60" stroke="#1b61a2" stroke-width="1.10" fill="none"/>
<text transform="translate(253.00 98.40) scale(0.860 1)" font-size="4.50" fill="#1f1f1f" stroke="#1f1f1f" stroke-width="0.12" text-anchor="start" font-weight="bold">D3</text>
<path d="M243.80 105.41H251.60" stroke="#e47c3a" stroke-width="0.90" fill="none"/>
<text transform="translate(253.00 107.03) scale(0.860 1)" font-size="4.50" fill="#1f1f1f" stroke="#1f1f1f" stroke-width="0.12" text-anchor="start" font-weight="bold">A2</text>
<path d="M243.80 114.04H251.60" stroke="#a0a0a0" stroke-width="0.90" fill="none"/>
<text transform="translate(253.00 115.66) scale(0.860 1)" font-size="4.50" fill="#1f1f1f" stroke="#1f1f1f" stroke-width="0.12" text-anchor="start" font-weight="bold">A3</text>
<path d="M243.80 122.67H251.60" stroke="#be870f" stroke-width="1.10" fill="none"/>
<text transform="translate(253.00 124.29) scale(0.860 1)" font-size="4.50" fill="#1f1f1f" stroke="#1f1f1f" stroke-width="0.12" text-anchor="start" font-weight="bold">A4</text>
<path d="M243.80 131.30H251.60" stroke="#ffd75a" stroke-width="0.80" fill="none"/>
<text transform="translate(253.00 132.92) scale(0.860 1)" font-size="4.50" fill="#1f1f1f" stroke="#1f1f1f" stroke-width="0.12" text-anchor="start" font-weight="bold">R1</text>
<path d="M243.80 139.93H251.60" stroke="#2257aa" stroke-width="1.10" fill="none"/>
<text transform="translate(253.00 141.55) scale(0.860 1)" font-size="4.50" fill="#1f1f1f" stroke="#1f1f1f" stroke-width="0.12" text-anchor="start" font-weight="bold">R2</text>
<path d="M243.80 148.56H251.60" stroke="#23791f" stroke-width="1.10" fill="none"/>
<text transform="translate(253.00 150.18) scale(0.860 1)" font-size="4.50" fill="#1f1f1f" stroke="#1f1f1f" stroke-width="0.12" text-anchor="start" font-weight="bold">R3</text>
<path d="M243.80 157.19H251.60" stroke="#97d0f7" stroke-width="0.80" fill="none"/>
<text transform="translate(253.00 158.81) scale(0.860 1)" font-size="4.50" fill="#1f1f1f" stroke="#1f1f1f" stroke-width="0.12" text-anchor="start" font-weight="bold">P2</text>
<path d="M243.80 165.82H251.60" stroke="#f58840" stroke-width="0.80" fill="none"/>
<text transform="translate(253.00 167.44) scale(0.860 1)" font-size="4.50" fill="#1f1f1f" stroke="#1f1f1f" stroke-width="0.12" text-anchor="start" font-weight="bold">P3</text>
<path d="M243.80 174.45H251.60" stroke="#aaaaaa" stroke-width="0.80" fill="none"/>
<text transform="translate(253.00 176.07) scale(0.860 1)" font-size="4.50" fill="#1f1f1f" stroke="#1f1f1f" stroke-width="0.12" text-anchor="start" font-weight="bold">P4</text>
</g>
<g>
<rect x="281.6" y="6.6" width="262.0" height="193.2" fill="#fff" stroke="#e4e4e4" stroke-width="0.8"/>
<path d="M305.50 22.60V176.50H512.10" fill="none" stroke="#d4d4d4" stroke-width="0.65"/>
<text transform="translate(302.10 177.67) scale(1.000 1)" font-size="3.80" fill="#777777" text-anchor="end" font-weight="normal">0</text>
<text transform="translate(302.10 152.05) scale(1.000 1)" font-size="3.80" fill="#777777" text-anchor="end" font-weight="normal">0.2</text>
<text transform="translate(302.10 126.43) scale(1.000 1)" font-size="3.80" fill="#777777" text-anchor="end" font-weight="normal">0.4</text>
<text transform="translate(302.10 100.82) scale(1.000 1)" font-size="3.80" fill="#777777" text-anchor="end" font-weight="normal">0.6</text>
<text transform="translate(302.10 75.20) scale(1.000 1)" font-size="3.80" fill="#777777" text-anchor="end" font-weight="normal">0.8</text>
<text transform="translate(302.10 49.58) scale(1.000 1)" font-size="3.80" fill="#777777" text-anchor="end" font-weight="normal">1</text>
<text transform="translate(302.10 23.97) scale(1.000 1)" font-size="3.80" fill="#777777" text-anchor="end" font-weight="normal">1.2</text>
<text transform="translate(306.10 184.75) scale(1.000 1)" font-size="4.30" fill="#777777" text-anchor="middle" font-weight="normal">0</text>
<text transform="translate(326.70 184.75) scale(1.000 1)" font-size="4.30" fill="#777777" text-anchor="middle" font-weight="normal">0.1</text>
<text transform="translate(347.30 184.75) scale(1.000 1)" font-size="4.30" fill="#777777" text-anchor="middle" font-weight="normal">0.2</text>
<text transform="translate(367.90 184.75) scale(1.000 1)" font-size="4.30" fill="#777777" text-anchor="middle" font-weight="normal">0.3</text>
<text transform="translate(388.50 184.75) scale(1.000 1)" font-size="4.30" fill="#777777" text-anchor="middle" font-weight="normal">0.4</text>
<text transform="translate(409.10 184.75) scale(1.000 1)" font-size="4.30" fill="#777777" text-anchor="middle" font-weight="normal">0.5</text>
<text transform="translate(429.70 184.75) scale(1.000 1)" font-size="4.30" fill="#777777" text-anchor="middle" font-weight="normal">0.6</text>
<text transform="translate(450.30 184.75) scale(1.000 1)" font-size="4.30" fill="#777777" text-anchor="middle" font-weight="normal">0.7</text>
<text transform="translate(470.90 184.75) scale(1.000 1)" font-size="4.30" fill="#777777" text-anchor="middle" font-weight="normal">0.8</text>
<text transform="translate(491.50 184.75) scale(1.000 1)" font-size="4.30" fill="#777777" text-anchor="middle" font-weight="normal">0.9</text>
<text transform="translate(512.10 184.75) scale(1.000 1)" font-size="4.30" fill="#777777" text-anchor="middle" font-weight="normal">1</text>
<text transform="translate(412.60 15.60) scale(1.080 1)" font-size="6.20" fill="#444444" text-anchor="middle" font-weight="normal">(b)</text>
<text transform="translate(409.50 194.10) scale(0.905 1)" font-size="6.30" fill="#1a1a1a" stroke="#1a1a1a" stroke-width="0.18" text-anchor="middle" font-weight="bold">Conversion (%)</text>
<text transform="translate(294.20 100.50) rotate(-90) scale(1.050 1)" font-size="6.30" fill="#1a1a1a" stroke="#1a1a1a" stroke-width="0.18" text-anchor="middle" font-weight="bold">Z(α)/Z(0.5)</text>
<g fill="none" stroke-linejoin="round" stroke-linecap="round">
<path d="M306.10 176.30L306.67 176.30L307.25 176.30L307.82 176.30L308.40 176.30L308.97 176.30L309.54 176.28L310.12 175.87L310.69 175.19L311.26 174.51L311.84 173.80L312.41 172.30L312.99 171.85L313.56 170.69L314.13 168.46L314.71 166.87L315.28 164.78L315.85 162.65L316.43 161.60L317.00 159.89L317.58 158.68L318.15 157.00L318.72 155.33L319.30 153.99L319.87 151.91L320.45 149.81L321.02 147.75L321.59 145.69L322.17 143.60L322.74 141.20L323.31 139.29L323.89 136.69L324.46 136.13L325.04 133.52L325.61 131.52L326.18 129.23L326.76 127.39L327.33 125.65L327.91 123.27L328.48 121.00L329.05 119.17L329.63 116.84L330.20 115.56L330.77 112.55L331.35 110.67L331.92 109.31L332.50 107.27L333.07 105.77L333.64 104.42L334.22 102.63L334.79 100.86L335.36 99.75L335.94 98.24L336.51 96.67L337.09 95.06L337.66 93.36L338.23 92.43L338.81 90.62L339.38 89.18L339.96 88.18L340.53 86.16L341.10 84.46L341.68 82.82L342.25 81.14L342.82 80.29L343.40 78.27L343.97 77.12L344.55 76.01L345.12 74.17L345.69 72.86L346.27 72.03L346.84 70.41L347.41 69.57L347.99 68.28L348.56 67.46L349.14 65.56L349.71 65.64L350.28 63.82L350.86 62.52L351.43 62.23L352.01 60.66L352.58 59.58L353.15 58.28L353.73 57.12L354.30 56.53L354.87 55.74L355.45 53.89L356.02 52.84L356.60 52.24L357.17 50.96L357.74 49.94L358.32 48.94L358.89 48.15L359.46 46.98L360.04 47.07L360.61 45.53L361.19 44.97L361.76 44.38L362.33 43.21L362.91 43.42L363.48 41.65L364.06 41.12L364.63 40.85L365.20 39.79L365.78 39.44L366.35 38.11L366.92 37.83L367.50 37.76L368.07 37.65L368.65 37.18L369.22 36.68L369.79 36.33L370.37 36.00L370.94 35.47L371.52 34.94L372.09 34.58L372.66 34.22L373.24 33.93L373.81 32.64L374.38 33.52L374.96 33.16L375.53 32.54L376.11 32.56L376.68 32.18L377.25 31.91L377.83 31.64L378.40 31.65L378.97 32.03L379.55 31.32L380.12 32.01L380.70 31.43L381.27 31.43L381.84 31.50L382.42 30.96L382.99 31.13L383.57 30.77L384.14 31.48L384.71 30.89L385.29 31.10L385.86 31.35L386.43 31.96L387.01 32.14L387.58 33.01L388.16 33.07L388.73 31.31L389.30 31.80L389.88 31.69L390.45 32.65L391.02 32.80L391.60 33.33L392.17 33.87L392.75 34.47L393.32 34.91L393.89 35.79L394.47 35.40L395.04 35.83L395.62 36.03L396.19 36.84L396.76 36.73L397.34 37.82L397.91 38.54L398.48 38.43L399.06 39.34L399.63 40.08L400.21 40.21L400.78 40.56L401.35 41.24L401.93 41.72L402.50 41.26L403.07 42.75L403.65 43.09L404.22 44.62L404.80 44.47L405.37 44.85L405.94 45.64L406.52 46.25L407.09 46.35L407.67 47.03L408.24 47.60L408.81 47.62L409.39 48.12L409.96 49.00L410.53 49.84L411.11 50.21L411.68 50.78L412.26 51.51L412.83 52.77L413.40 53.13L413.98 53.59L414.55 54.17L415.13 54.69L415.70 55.36L416.27 56.52L416.85 57.04L417.42 57.88L417.99 57.78L418.57 59.04L419.14 59.77L419.72 60.51L420.29 61.78L420.86 62.92L421.44 63.62L422.01 64.45L422.58 64.88L423.16 65.93L423.73 67.32L424.31 67.64L424.88 68.42L425.45 69.71L426.03 70.22L426.60 71.48L427.18 71.63L427.75 72.57L428.32 73.61L428.90 74.19L429.47 74.68L430.04 75.66L430.62 76.18L431.19 76.86L431.77 78.00L432.34 78.60L432.91 78.64L433.49 79.95L434.06 80.97L434.63 81.46L435.21 82.61L435.78 82.68L436.36 83.68L436.93 84.28L437.50 85.15L438.08 86.13L438.65 86.82L439.23 87.91L439.80 89.03L440.37 90.03L440.95 90.77L441.52 92.25L442.09 91.95L442.67 93.86L443.24 94.32L443.82 95.58L444.39 96.69L444.96 97.04L445.54 98.01L446.11 98.87L446.68 99.59L447.26 100.86L447.83 101.54L448.41 102.49L448.98 103.75L449.55 104.79L450.13 105.68L450.70 106.99L451.28 108.20L451.85 110.19L452.42 110.82L453.00 112.07L453.57 113.57L454.14 114.80L454.72 115.71L455.29 117.56L455.87 118.71L456.44 120.42L457.01 121.71L457.59 122.89L458.16 124.34L458.74 125.34L459.31 126.86L459.88 127.89L460.46 129.45L461.03 130.67L461.60 131.52L462.18 132.75L462.75 133.73L463.33 134.79L463.90 135.73L464.47 136.29L465.05 137.08L465.62 138.06L466.19 139.13L466.77 139.31L467.34 140.76L467.92 141.33L468.49 141.05L469.06 141.40L469.64 141.48L470.21 141.14L470.79 141.22L471.36 140.72L471.93 139.63L472.51 139.35L473.08 139.77L473.65 139.54L474.23 141.10L474.80 141.40L475.38 141.52L475.95 142.04L476.52 141.25L477.10 140.05L477.67 138.85L478.24 136.77L478.82 134.83L479.39 133.37L479.97 131.26L480.54 129.03L481.11 127.26L481.69 126.09L482.26 122.82L482.84 116.16L483.41 119.49L483.98 123.02L484.56 129.04L485.13 130.82L485.70 128.67L486.28 127.90L486.85 127.00L487.43 126.42L488.00 126.75L488.57 126.93L489.15 128.01L489.72 128.27L490.29 127.95L490.87 129.59L491.44 131.02L492.02 131.30L492.59 132.44L493.16 133.43L493.74 135.01L494.31 136.48L494.89 137.21L495.46 138.89L496.03 141.36L496.61 142.74L497.18 145.28L497.75 147.21L498.33 150.09L498.90 152.44L499.48 155.64L500.05 158.87L500.62 163.45L501.20 164.77L501.77 162.51L502.35 161.40L502.92 160.87L503.49 160.13L504.07 160.14L504.64 159.83L505.21 159.19L505.79 159.59L506.36 159.30L506.94 159.44L507.51 159.02L508.08 158.31L508.66 158.42L509.23 157.88L509.80 158.35L510.38 158.23L510.95 157.64L511.53 163.45L512.10 176.30" stroke="#2b97e6" stroke-width="1.45" />
<path d="M513.03 126.35L513.03 176.30" stroke="#6ab6ee" stroke-width="1.25" />
<path d="M306.10 176.30L307.40 175.27L308.69 173.84L309.99 172.14L311.28 170.07L312.58 167.43L313.87 164.54L315.17 161.58L316.46 158.38L317.76 155.05L319.06 151.72L320.35 148.36L321.65 144.92L322.94 141.34L324.24 137.56L325.53 133.67L326.83 129.81L328.13 125.98L329.42 122.15L330.72 118.33L332.01 114.47L333.31 110.60L334.60 106.81L335.90 103.17L337.19 99.60L338.49 96.11L339.79 92.68L341.08 89.30L342.38 85.96L343.67 82.67L344.97 79.43L346.26 76.28L347.56 73.23L348.85 70.26L350.15 67.35L351.45 64.54L352.74 61.85L354.04 59.32L355.33 56.93L356.63 54.66L357.92 52.44L359.22 50.25L360.52 48.02L361.81 45.74L363.11 43.49L364.40 41.36L365.70 39.45L366.99 37.73L368.29 36.10L369.58 34.61L370.88 33.25L372.18 32.07L373.47 31.00L374.77 30.00L376.06 29.11L377.36 28.37L378.65 27.79L379.95 27.25L381.24 26.77L382.54 26.43L383.84 26.31L385.13 26.40L386.43 26.61L387.72 26.89L389.02 27.24L390.31 27.83L391.61 28.65L392.91 29.63L394.20 30.72L395.50 31.85L396.79 32.99L398.09 34.29L399.38 35.71L400.68 37.23L401.97 38.82L403.27 40.44L404.57 42.07L405.86 43.73L407.16 45.47L408.45 47.29L409.75 49.16L411.04 51.11L412.34 53.13L413.63 55.18L414.93 57.26L416.23 59.36L417.52 61.49L418.82 63.66L420.11 65.84L421.41 68.02L422.70 70.24L424.00 72.54L425.29 74.89L426.59 77.25L427.89 79.58L429.18 81.82L430.48 83.94L431.77 85.90L433.07 87.65L434.36 89.15L435.66 90.49L436.96 91.79L438.25 93.18L439.55 94.76L440.84 96.70L442.14 98.96L443.43 101.25L444.73 103.49L446.02 105.77L447.32 108.04L448.62 110.24L449.91 112.31L451.21 114.24L452.50 116.11L453.80 117.91L455.09 119.65L456.39 121.32L457.68 122.90L458.98 124.39L460.28 125.79L461.57 127.15L462.87 128.45L464.16 129.70L465.46 130.90L466.75 132.06L468.05 133.17L469.35 134.23L470.64 135.24L471.94 136.21L473.23 137.12L474.53 137.98L475.82 138.81L477.12 139.61L478.41 140.40L479.71 141.19L481.01 141.98L482.30 142.79L483.60 143.59L484.89 144.37L486.19 145.12L487.48 145.87L488.78 146.62L490.07 147.39L491.37 148.17L492.67 149.00L493.96 149.87L495.26 150.80L496.55 151.80L497.85 152.88L499.14 154.04L500.44 155.26L501.74 156.53L503.03 157.85L504.33 159.19L505.62 160.53L506.92 161.97L508.21 163.62L509.51 165.60L510.80 168.18L512.10 171.18" stroke="#93ccf5" stroke-width="0.68" />
<path d="M306.10 176.30L308.16 172.62L310.22 168.98L312.28 165.38L314.34 161.82L316.40 158.29L318.46 154.80L320.52 151.36L322.58 147.95L324.64 144.58L326.70 141.26L328.76 137.97L330.82 134.73L332.88 131.52L334.94 128.36L337.00 125.25L339.06 122.17L341.12 119.14L343.18 116.16L345.24 113.22L347.30 110.33L349.36 107.48L351.42 104.68L353.48 101.92L355.54 99.22L357.60 96.56L359.66 93.95L361.72 91.40L363.78 88.89L365.84 86.43L367.90 84.03L369.96 81.68L372.02 79.38L374.08 77.14L376.14 74.95L378.20 72.82L380.26 70.74L382.32 68.72L384.38 66.77L386.44 64.87L388.50 63.03L390.56 61.25L392.62 59.54L394.68 57.89L396.74 56.30L398.80 54.78L400.86 53.33L402.92 51.94L404.98 50.63L407.04 49.39L409.10 48.22L411.16 47.12L413.22 46.10L415.28 45.15L417.34 44.29L419.40 43.50L421.46 42.80L423.52 42.18L425.58 41.65L427.64 41.20L429.70 40.85L431.76 40.58L433.82 40.42L435.88 40.34L437.94 40.37L440.00 40.51L442.06 40.74L444.12 41.09L446.18 41.55L448.24 42.12L450.30 42.81L452.36 43.63L454.42 44.57L456.48 45.65L458.54 46.86L460.60 48.22L462.66 49.72L464.72 51.38L466.78 53.19L468.84 55.18L470.90 57.34L472.96 59.69L475.02 62.23L477.08 64.97L479.14 67.94L481.20 71.13L483.26 74.57L485.32 78.28L487.38 82.27L489.44 86.57L491.50 91.20L491.91 92.17L492.32 93.16L492.74 94.16L493.15 95.18L493.56 96.21L493.97 97.26L494.38 98.32L494.80 99.41L495.21 100.51L495.62 101.63L496.03 102.76L496.44 103.92L496.86 105.09L497.27 106.29L497.68 107.51L498.09 108.74L498.50 110.00L498.92 111.28L499.33 112.59L499.74 113.91L500.15 115.27L500.56 116.65L500.98 118.05L501.39 119.48L501.80 120.94L502.21 122.43L502.62 123.95L503.04 125.51L503.45 127.09L503.86 128.72L504.27 130.37L504.68 132.07L505.10 133.81L505.51 135.59L505.92 137.42L506.33 139.30L506.74 141.23L507.16 143.22L507.57 145.27L507.98 147.38L508.39 149.58L508.80 151.85L509.22 154.21L509.63 156.69L510.04 159.28L510.09 159.61L510.14 159.95L510.19 160.29L510.25 160.63L510.30 160.98L510.35 161.32L510.40 161.67L510.45 162.02L510.50 162.38L510.56 162.74L510.61 163.10L510.66 163.46L510.71 163.83L510.76 164.20L510.81 164.58L510.86 164.96L510.92 165.34L510.97 165.72L511.02 166.11L511.07 166.51L511.12 166.91L511.17 167.31L511.22 167.72L511.28 168.14L511.33 168.56L511.38 168.99L511.43 169.42L511.48 169.86L511.53 170.31L511.59 170.76L511.64 171.23L511.69 171.71L511.74 172.19L511.79 172.70L511.84 173.21L511.89 173.75L511.95 174.31L512.00 174.90L512.05 175.53L512.10 176.30" stroke="#f47f2e" stroke-width="1.40" />
<path d="M306.10 176.30L308.16 171.23L310.22 166.26L312.28 161.39L314.34 156.63L316.40 151.96L318.46 147.40L320.52 142.95L322.58 138.59L324.64 134.34L326.70 130.19L328.76 126.14L330.82 122.20L332.88 118.36L334.94 114.62L337.00 110.98L339.06 107.44L341.12 104.01L343.18 100.68L345.24 97.45L347.30 94.33L349.36 91.30L351.42 88.38L353.48 85.57L355.54 82.85L357.60 80.24L359.66 77.73L361.72 75.32L363.78 73.01L365.84 70.81L367.90 68.71L369.96 66.71L372.02 64.82L374.08 63.02L376.14 61.33L378.20 59.74L380.26 58.26L382.32 56.88L384.38 55.59L386.44 54.42L388.50 53.34L390.56 52.37L392.62 51.50L394.68 50.73L396.74 50.06L398.80 49.50L400.86 49.04L402.92 48.68L404.98 48.42L407.04 48.27L409.10 48.22L411.16 48.27L413.22 48.42L415.28 48.68L417.34 49.04L419.40 49.50L421.46 50.06L423.52 50.73L425.58 51.50L427.64 52.37L429.70 53.34L431.76 54.42L433.82 55.59L435.88 56.88L437.94 58.26L440.00 59.74L442.06 61.33L444.12 63.02L446.18 64.82L448.24 66.71L450.30 68.71L452.36 70.81L454.42 73.01L456.48 75.32L458.54 77.73L460.60 80.24L462.66 82.85L464.72 85.57L466.78 88.38L468.84 91.30L470.90 94.33L472.96 97.45L475.02 100.68L477.08 104.01L479.14 107.44L481.20 110.98L483.26 114.62L485.32 118.36L487.38 122.20L489.44 126.14L491.50 130.19L491.91 131.01L492.32 131.84L492.74 132.67L493.15 133.50L493.56 134.34L493.97 135.18L494.38 136.03L494.80 136.88L495.21 137.73L495.62 138.59L496.03 139.46L496.44 140.32L496.86 141.19L497.27 142.07L497.68 142.95L498.09 143.83L498.50 144.72L498.92 145.61L499.33 146.50L499.74 147.40L500.15 148.31L500.56 149.22L500.98 150.13L501.39 151.04L501.80 151.96L502.21 152.89L502.62 153.82L503.04 154.75L503.45 155.69L503.86 156.63L504.27 157.57L504.68 158.52L505.10 159.47L505.51 160.43L505.92 161.39L506.33 162.36L506.74 163.33L507.16 164.30L507.57 165.28L507.98 166.26L508.39 167.24L508.80 168.23L509.22 169.23L509.63 170.23L510.04 171.23L510.09 171.35L510.14 171.48L510.19 171.60L510.25 171.73L510.30 171.86L510.35 171.98L510.40 172.11L510.45 172.23L510.50 172.36L510.56 172.49L510.61 172.61L510.66 172.74L510.71 172.87L510.76 172.99L510.81 173.12L510.86 173.24L510.92 173.37L510.97 173.50L511.02 173.62L511.07 173.75L511.12 173.88L511.17 174.00L511.22 174.13L511.28 174.26L511.33 174.39L511.38 174.51L511.43 174.64L511.48 174.77L511.53 174.89L511.59 175.02L511.64 175.15L511.69 175.28L511.74 175.40L511.79 175.53L511.84 175.66L511.89 175.79L511.95 175.92L512.00 176.04L512.05 176.17L512.10 176.30" stroke="#a3a3a3" stroke-width="1.20" />
<path d="M306.10 176.30L308.16 173.03L310.22 169.77L312.28 166.54L314.34 163.34L316.40 160.15L318.46 156.99L320.52 153.86L322.58 150.75L324.64 147.66L326.70 144.59L328.76 141.56L330.82 138.55L332.88 135.56L334.94 132.60L337.00 129.67L339.06 126.76L341.12 123.88L343.18 121.03L345.24 118.21L347.30 115.42L349.36 112.66L351.42 109.92L353.48 107.22L355.54 104.55L357.60 101.91L359.66 99.30L361.72 96.73L363.78 94.18L365.84 91.68L367.90 89.20L369.96 86.77L372.02 84.36L374.08 82.00L376.14 79.67L378.20 77.38L380.26 75.13L382.32 72.92L384.38 70.75L386.44 68.62L388.50 66.53L390.56 64.49L392.62 62.49L394.68 60.53L396.74 58.62L398.80 56.76L400.86 54.95L402.92 53.19L404.98 51.48L407.04 49.82L409.10 48.22L411.16 46.67L413.22 45.17L415.28 43.74L417.34 42.37L419.40 41.05L421.46 39.80L423.52 38.62L425.58 37.50L427.64 36.46L429.70 35.48L431.76 34.58L433.82 33.76L435.88 33.01L437.94 32.35L440.00 31.77L442.06 31.29L444.12 30.89L446.18 30.59L448.24 30.39L450.30 30.30L452.36 30.31L454.42 30.44L456.48 30.69L458.54 31.06L460.60 31.57L462.66 32.22L464.72 33.01L466.78 33.96L468.84 35.07L470.90 36.36L472.96 37.83L475.02 39.51L477.08 41.40L479.14 43.52L481.20 45.90L483.26 48.55L485.32 51.51L487.38 54.79L489.44 58.45L491.50 62.52L491.91 63.39L492.32 64.28L492.74 65.19L493.15 66.12L493.56 67.07L493.97 68.04L494.38 69.04L494.80 70.06L495.21 71.10L495.62 72.16L496.03 73.25L496.44 74.37L496.86 75.52L497.27 76.69L497.68 77.89L498.09 79.13L498.50 80.39L498.92 81.69L499.33 83.02L499.74 84.39L500.15 85.79L500.56 87.23L500.98 88.72L501.39 90.24L501.80 91.82L502.21 93.44L502.62 95.11L503.04 96.83L503.45 98.61L503.86 100.45L504.27 102.35L504.68 104.33L505.10 106.37L505.51 108.50L505.92 110.71L506.33 113.02L506.74 115.43L507.16 117.95L507.57 120.60L507.98 123.39L508.39 126.35L508.80 129.49L509.22 132.85L509.63 136.47L510.04 140.41L510.09 140.93L510.14 141.46L510.19 141.99L510.25 142.53L510.30 143.07L510.35 143.63L510.40 144.19L510.45 144.76L510.50 145.34L510.56 145.93L510.61 146.53L510.66 147.13L510.71 147.75L510.76 148.38L510.81 149.02L510.86 149.67L510.92 150.33L510.97 151.01L511.02 151.70L511.07 152.41L511.12 153.13L511.17 153.87L511.22 154.63L511.28 155.41L511.33 156.21L511.38 157.03L511.43 157.88L511.48 158.76L511.53 159.67L511.59 160.61L511.64 161.59L511.69 162.63L511.74 163.71L511.79 164.86L511.84 166.10L511.89 167.43L511.95 168.90L512.00 170.58L512.05 172.64L512.10 176.30" stroke="#1b61a2" stroke-width="1.40" />
</g>
<path d="M520.80 96.60H529.00" stroke="#2b97e6" stroke-width="1.00" fill="none"/>
<text transform="translate(530.30 98.22) scale(0.860 1)" font-size="4.50" fill="#1f1f1f" stroke="#1f1f1f" stroke-width="0.12" text-anchor="start" font-weight="bold">Exp.</text>
<path d="M520.80 105.17H529.00" stroke="#f47f2e" stroke-width="1.30" fill="none"/>
<text transform="translate(530.30 106.79) scale(0.860 1)" font-size="4.50" fill="#1f1f1f" stroke="#1f1f1f" stroke-width="0.12" text-anchor="start" font-weight="bold">F1</text>
<path d="M520.80 113.74H529.00" stroke="#a3a3a3" stroke-width="1.20" fill="none"/>
<text transform="translate(530.30 115.36) scale(0.860 1)" font-size="4.50" fill="#1f1f1f" stroke="#1f1f1f" stroke-width="0.12" text-anchor="start" font-weight="bold">F2</text>
<path d="M520.80 122.31H529.00" stroke="#1b61a2" stroke-width="1.20" fill="none"/>
<text transform="translate(530.30 123.93) scale(0.860 1)" font-size="4.50" fill="#1f1f1f" stroke="#1f1f1f" stroke-width="0.12" text-anchor="start" font-weight="bold">D3</text>
</g>
<g>
<rect x="5.8" y="215.2" width="260.7" height="192.8" fill="#fff" stroke="#e4e4e4" stroke-width="0.8"/>
<path d="M30.60 232.20V386.70H236.80" fill="none" stroke="#d4d4d4" stroke-width="0.65"/>
<text transform="translate(26.50 387.72) scale(1.000 1)" font-size="3.40" fill="#6a6a6a" text-anchor="end" font-weight="normal">0</text>
<text transform="translate(26.50 372.29) scale(1.000 1)" font-size="3.40" fill="#6a6a6a" text-anchor="end" font-weight="normal">0.2</text>
<text transform="translate(26.50 356.86) scale(1.000 1)" font-size="3.40" fill="#6a6a6a" text-anchor="end" font-weight="normal">0.4</text>
<text transform="translate(26.50 341.43) scale(1.000 1)" font-size="3.40" fill="#6a6a6a" text-anchor="end" font-weight="normal">0.6</text>
<text transform="translate(26.50 326.00) scale(1.000 1)" font-size="3.40" fill="#6a6a6a" text-anchor="end" font-weight="normal">0.8</text>
<text transform="translate(26.50 310.57) scale(1.000 1)" font-size="3.40" fill="#6a6a6a" text-anchor="end" font-weight="normal">1</text>
<text transform="translate(26.50 295.14) scale(1.000 1)" font-size="3.40" fill="#6a6a6a" text-anchor="end" font-weight="normal">1.2</text>
<text transform="translate(26.50 279.71) scale(1.000 1)" font-size="3.40" fill="#6a6a6a" text-anchor="end" font-weight="normal">1.4</text>
<text transform="translate(26.50 264.28) scale(1.000 1)" font-size="3.40" fill="#6a6a6a" text-anchor="end" font-weight="normal">1.6</text>
<text transform="translate(26.50 248.85) scale(1.000 1)" font-size="3.40" fill="#6a6a6a" text-anchor="end" font-weight="normal">1.8</text>
<text transform="translate(26.50 233.42) scale(1.000 1)" font-size="3.40" fill="#6a6a6a" text-anchor="end" font-weight="normal">2</text>
<text transform="translate(30.80 393.66) scale(1.000 1)" font-size="3.50" fill="#6a6a6a" text-anchor="middle" font-weight="normal">0</text>
<text transform="translate(51.40 393.66) scale(1.000 1)" font-size="3.50" fill="#6a6a6a" text-anchor="middle" font-weight="normal">0.1</text>
<text transform="translate(72.00 393.66) scale(1.000 1)" font-size="3.50" fill="#6a6a6a" text-anchor="middle" font-weight="normal">0.2</text>
<text transform="translate(92.60 393.66) scale(1.000 1)" font-size="3.50" fill="#6a6a6a" text-anchor="middle" font-weight="normal">0.3</text>
<text transform="translate(113.20 393.66) scale(1.000 1)" font-size="3.50" fill="#6a6a6a" text-anchor="middle" font-weight="normal">0.4</text>
<text transform="translate(133.80 393.66) scale(1.000 1)" font-size="3.50" fill="#6a6a6a" text-anchor="middle" font-weight="normal">0.5</text>
<text transform="translate(154.40 393.66) scale(1.000 1)" font-size="3.50" fill="#6a6a6a" text-anchor="middle" font-weight="normal">0.6</text>
<text transform="translate(175.00 393.66) scale(1.000 1)" font-size="3.50" fill="#6a6a6a" text-anchor="middle" font-weight="normal">0.7</text>
<text transform="translate(195.60 393.66) scale(1.000 1)" font-size="3.50" fill="#6a6a6a" text-anchor="middle" font-weight="normal">0.8</text>
<text transform="translate(216.20 393.66) scale(1.000 1)" font-size="3.50" fill="#6a6a6a" text-anchor="middle" font-weight="normal">0.9</text>
<text transform="translate(236.80 393.66) scale(1.000 1)" font-size="3.50" fill="#6a6a6a" text-anchor="middle" font-weight="normal">1</text>
<text transform="translate(136.40 225.30) scale(1.080 1)" font-size="6.20" fill="#444444" text-anchor="middle" font-weight="normal">(c)</text>
<text transform="translate(133.60 402.60) scale(0.905 1)" font-size="6.30" fill="#1a1a1a" stroke="#1a1a1a" stroke-width="0.18" text-anchor="middle" font-weight="bold">Conversion (%)</text>
<text transform="translate(17.50 310.40) rotate(-90) scale(1.050 1)" font-size="6.30" fill="#1a1a1a" stroke="#1a1a1a" stroke-width="0.18" text-anchor="middle" font-weight="bold">Z(α)/Z(0.5)</text>
<g fill="none" stroke-linejoin="round" stroke-linecap="round">
<path d="M30.80 386.50L31.37 386.50L31.95 386.50L32.52 386.50L33.10 386.50L33.67 386.50L34.24 386.50L34.82 386.50L35.39 386.43L35.96 385.94L36.54 385.24L37.11 384.40L37.69 383.61L38.26 382.60L38.83 381.98L39.41 381.10L39.98 380.12L40.55 379.24L41.13 377.74L41.70 377.00L42.28 375.88L42.85 374.52L43.42 373.02L44.00 372.00L44.57 370.98L45.15 369.70L45.72 368.26L46.29 367.18L46.87 366.05L47.44 364.71L48.01 363.28L48.59 361.75L49.16 360.91L49.74 359.41L50.31 358.04L50.88 356.97L51.46 355.44L52.03 354.25L52.61 352.72L53.18 351.79L53.75 350.95L54.33 349.49L54.90 348.62L55.47 347.84L56.05 346.66L56.62 345.70L57.20 344.82L57.77 343.78L58.34 343.31L58.92 342.15L59.49 341.13L60.06 340.38L60.64 339.59L61.21 338.85L61.79 338.09L62.36 337.87L62.93 336.89L63.51 336.69L64.08 335.81L64.66 335.33L65.23 334.10L65.80 333.30L66.38 332.79L66.95 331.68L67.52 331.32L68.10 330.40L68.67 329.64L69.25 329.10L69.82 328.13L70.39 327.19L70.97 327.04L71.54 326.09L72.11 325.67L72.69 324.76L73.26 324.41L73.84 323.82L74.41 323.27L74.98 322.80L75.56 322.54L76.13 321.53L76.71 321.46L77.28 320.65L77.85 320.04L78.43 319.74L79.00 319.03L79.57 318.31L80.15 317.98L80.72 317.59L81.30 317.41L81.87 316.56L82.44 315.98L83.02 315.46L83.59 315.04L84.16 314.33L84.74 314.01L85.31 313.45L85.89 312.85L86.46 312.64L87.03 312.08L87.61 311.22L88.18 310.99L88.76 310.93L89.33 310.30L89.90 309.78L90.48 309.27L91.05 309.07L91.62 308.79L92.20 308.43L92.77 307.81L93.35 307.50L93.92 307.28L94.49 306.88L95.07 306.59L95.64 306.09L96.22 306.06L96.79 305.61L97.36 305.34L97.94 305.22L98.51 305.27L99.08 304.73L99.66 304.89L100.23 304.48L100.81 304.39L101.38 304.25L101.95 303.65L102.53 303.44L103.10 303.42L103.67 303.40L104.25 303.64L104.82 303.73L105.40 303.67L105.97 303.11L106.54 302.93L107.12 302.94L107.69 302.66L108.27 302.75L108.84 302.67L109.41 302.39L109.99 302.59L110.56 302.77L111.13 302.68L111.71 302.66L112.28 302.83L112.86 302.78L113.43 303.13L114.00 302.74L114.58 302.61L115.15 302.59L115.72 302.44L116.30 302.56L116.87 302.90L117.45 302.70L118.02 303.23L118.59 303.15L119.17 303.35L119.74 303.49L120.32 303.92L120.89 304.05L121.46 304.29L122.04 304.33L122.61 304.88L123.18 304.97L123.76 305.25L124.33 305.61L124.91 305.07L125.48 305.62L126.05 305.93L126.63 305.53L127.20 306.12L127.77 306.18L128.35 306.46L128.92 307.07L129.50 307.33L130.07 307.63L130.64 307.84L131.22 308.36L131.79 308.57L132.37 308.65L132.94 308.73L133.51 309.09L134.09 309.22L134.66 309.76L135.23 310.38L135.81 310.75L136.38 311.52L136.96 311.77L137.53 312.17L138.10 312.29L138.68 312.49L139.25 312.86L139.83 312.92L140.40 313.08L140.97 312.84L141.55 312.78L142.12 312.88L142.69 313.47L143.27 313.48L143.84 314.03L144.42 314.65L144.99 315.14L145.56 315.52L146.14 315.87L146.71 316.32L147.28 316.65L147.86 317.00L148.43 317.28L149.01 317.69L149.58 318.26L150.15 318.53L150.73 319.01L151.30 319.39L151.88 319.31L152.45 320.05L153.02 319.98L153.60 320.73L154.17 320.99L154.74 321.21L155.32 321.76L155.89 322.07L156.47 322.54L157.04 322.95L157.61 323.27L158.19 323.73L158.76 323.73L159.33 324.44L159.91 324.52L160.48 325.69L161.06 325.67L161.63 326.03L162.20 326.66L162.78 326.92L163.35 327.51L163.93 328.20L164.50 328.62L165.07 328.76L165.65 329.75L166.22 330.29L166.79 330.97L167.37 331.42L167.94 332.20L168.52 332.54L169.09 332.60L169.66 333.35L170.24 333.94L170.81 334.39L171.38 334.82L171.96 335.62L172.53 335.99L173.11 336.84L173.68 337.76L174.25 338.36L174.83 339.97L175.40 340.61L175.98 341.39L176.55 342.47L177.12 343.14L177.70 343.90L178.27 344.53L178.84 344.69L179.42 345.82L179.99 346.75L180.57 347.35L181.14 348.48L181.71 349.17L182.29 350.15L182.86 350.83L183.44 352.23L184.01 352.74L184.58 353.71L185.16 354.76L185.73 355.24L186.30 356.43L186.88 356.87L187.45 357.91L188.03 358.71L188.60 359.62L189.17 360.24L189.75 361.43L190.32 361.81L190.89 362.63L191.47 363.16L192.04 363.86L192.62 364.33L193.19 365.09L193.76 365.06L194.34 365.37L194.91 366.14L195.49 366.28L196.06 366.23L196.63 366.03L197.21 365.87L197.78 366.35L198.35 366.16L198.93 366.11L199.50 366.02L200.08 366.38L200.65 366.94L201.22 367.16L201.80 365.21L202.37 364.05L202.94 363.43L203.52 363.08L204.09 363.47L204.67 363.50L205.24 363.79L205.81 363.65L206.39 362.68L206.96 361.53L207.54 361.37L208.11 360.82L208.68 360.47L209.26 359.09L209.83 358.82L210.40 358.60L210.98 358.64L211.55 359.76L212.13 359.83L212.70 360.07L213.27 359.66L213.85 360.18L214.42 360.24L214.99 361.15L215.57 361.70L216.14 362.36L216.72 363.40L217.29 364.22L217.86 364.62L218.44 365.25L219.01 366.35L219.59 367.26L220.16 368.26L220.73 369.74L221.31 370.55L221.88 371.43L222.45 373.08L223.03 374.57L223.60 375.83L224.18 377.20L224.75 377.18L225.32 377.10L225.90 376.98L226.47 378.00L227.05 376.82L227.62 375.78L228.19 375.93L228.77 376.69L229.34 376.22L229.91 376.18L230.49 375.52L231.06 375.72L231.64 376.01L232.21 375.70L232.78 375.37L233.36 374.94L233.93 375.06L234.50 375.04L235.08 375.50L235.65 377.38L236.23 380.70L236.80 386.50" stroke="#2b97e6" stroke-width="1.25" />
<path d="M237.73 386.50L237.73 386.50" stroke="#4fabea" stroke-width="0.90" />
<path d="M30.80 386.50L32.86 384.29L34.92 382.09L36.98 379.92L39.04 377.78L41.10 375.65L43.16 373.55L45.22 371.48L47.28 369.42L49.34 367.40L51.40 365.39L53.46 363.41L55.52 361.46L57.58 359.53L59.64 357.63L61.70 355.75L63.76 353.90L65.82 352.07L67.88 350.28L69.94 348.50L72.00 346.76L74.06 345.05L76.12 343.36L78.18 341.70L80.24 340.07L82.30 338.47L84.36 336.90L86.42 335.36L88.48 333.85L90.54 332.37L92.60 330.92L94.66 329.50L96.72 328.12L98.78 326.77L100.84 325.45L102.90 324.17L104.96 322.92L107.02 321.70L109.08 320.52L111.14 319.38L113.20 318.27L115.26 317.20L117.32 316.17L119.38 315.17L121.44 314.22L123.50 313.30L125.56 312.43L127.62 311.60L129.68 310.80L131.74 310.06L133.80 309.35L135.86 308.69L137.92 308.07L139.98 307.51L142.04 306.98L144.10 306.51L146.16 306.09L148.22 305.71L150.28 305.39L152.34 305.12L154.40 304.91L156.46 304.75L158.52 304.65L160.58 304.61L162.64 304.63L164.70 304.71L166.76 304.85L168.82 305.06L170.88 305.33L172.94 305.68L175.00 306.10L177.06 306.59L179.12 307.16L181.18 307.80L183.24 308.53L185.30 309.35L187.36 310.26L189.42 311.25L191.48 312.35L193.54 313.54L195.60 314.85L197.66 316.26L199.72 317.79L201.78 319.44L203.84 321.23L205.90 323.15L207.96 325.23L210.02 327.46L212.08 329.86L214.14 332.45L216.20 335.24L216.61 335.83L217.02 336.42L217.44 337.02L217.85 337.64L218.26 338.26L218.67 338.89L219.08 339.53L219.50 340.18L219.91 340.85L220.32 341.52L220.73 342.21L221.14 342.90L221.56 343.61L221.97 344.33L222.38 345.06L222.79 345.81L223.20 346.57L223.62 347.34L224.03 348.12L224.44 348.92L224.85 349.74L225.26 350.57L225.68 351.41L226.09 352.28L226.50 353.16L226.91 354.05L227.32 354.97L227.74 355.91L228.15 356.86L228.56 357.84L228.97 358.84L229.38 359.86L229.80 360.91L230.21 361.98L230.62 363.08L231.03 364.21L231.44 365.38L231.86 366.57L232.27 367.81L232.68 369.08L233.09 370.40L233.50 371.77L233.92 373.20L234.33 374.69L234.74 376.25L234.79 376.45L234.84 376.65L234.89 376.86L234.95 377.06L235.00 377.27L235.05 377.48L235.10 377.69L235.15 377.90L235.20 378.12L235.25 378.33L235.31 378.55L235.36 378.77L235.41 378.99L235.46 379.21L235.51 379.44L235.56 379.67L235.62 379.90L235.67 380.13L235.72 380.36L235.77 380.60L235.82 380.84L235.87 381.09L235.92 381.33L235.98 381.58L236.03 381.84L236.08 382.09L236.13 382.36L236.18 382.62L236.23 382.89L236.29 383.17L236.34 383.45L236.39 383.73L236.44 384.03L236.49 384.33L236.54 384.64L236.59 384.96L236.65 385.30L236.70 385.65L236.75 386.04L236.80 386.50" stroke="#f47f2e" stroke-width="0.33" />
<path d="M30.80 386.50L32.86 383.44L34.92 380.45L36.98 377.52L39.04 374.65L41.10 371.84L43.16 369.09L45.22 366.41L47.28 363.79L49.34 361.23L51.40 358.73L53.46 356.29L55.52 353.91L57.58 351.60L59.64 349.34L61.70 347.15L63.76 345.02L65.82 342.96L67.88 340.95L69.94 339.01L72.00 337.12L74.06 335.30L76.12 333.54L78.18 331.85L80.24 330.21L82.30 328.64L84.36 327.13L86.42 325.67L88.48 324.29L90.54 322.96L92.60 321.69L94.66 320.49L96.72 319.35L98.78 318.27L100.84 317.25L102.90 316.29L104.96 315.40L107.02 314.57L109.08 313.79L111.14 313.08L113.20 312.44L115.26 311.85L117.32 311.33L119.38 310.86L121.44 310.46L123.50 310.12L125.56 309.84L127.62 309.63L129.68 309.47L131.74 309.38L133.80 309.35L135.86 309.38L137.92 309.47L139.98 309.63L142.04 309.84L144.10 310.12L146.16 310.46L148.22 310.86L150.28 311.33L152.34 311.85L154.40 312.44L156.46 313.08L158.52 313.79L160.58 314.57L162.64 315.40L164.70 316.29L166.76 317.25L168.82 318.27L170.88 319.35L172.94 320.49L175.00 321.69L177.06 322.96L179.12 324.29L181.18 325.67L183.24 327.13L185.30 328.64L187.36 330.21L189.42 331.85L191.48 333.54L193.54 335.30L195.60 337.12L197.66 339.01L199.72 340.95L201.78 342.96L203.84 345.02L205.90 347.15L207.96 349.34L210.02 351.60L212.08 353.91L214.14 356.29L216.20 358.73L216.61 359.22L217.02 359.72L217.44 360.22L217.85 360.72L218.26 361.23L218.67 361.73L219.08 362.24L219.50 362.76L219.91 363.27L220.32 363.79L220.73 364.31L221.14 364.83L221.56 365.35L221.97 365.88L222.38 366.41L222.79 366.94L223.20 367.48L223.62 368.01L224.03 368.55L224.44 369.09L224.85 369.64L225.26 370.19L225.68 370.74L226.09 371.29L226.50 371.84L226.91 372.40L227.32 372.96L227.74 373.52L228.15 374.08L228.56 374.65L228.97 375.22L229.38 375.79L229.80 376.36L230.21 376.94L230.62 377.52L231.03 378.10L231.44 378.69L231.86 379.27L232.27 379.86L232.68 380.45L233.09 381.05L233.50 381.64L233.92 382.24L234.33 382.84L234.74 383.44L234.79 383.52L234.84 383.60L234.89 383.67L234.95 383.75L235.00 383.82L235.05 383.90L235.10 383.98L235.15 384.05L235.20 384.13L235.25 384.20L235.31 384.28L235.36 384.35L235.41 384.43L235.46 384.51L235.51 384.58L235.56 384.66L235.62 384.74L235.67 384.81L235.72 384.89L235.77 384.96L235.82 385.04L235.87 385.12L235.92 385.19L235.98 385.27L236.03 385.35L236.08 385.42L236.13 385.50L236.18 385.58L236.23 385.65L236.29 385.73L236.34 385.81L236.39 385.88L236.44 385.96L236.49 386.04L236.54 386.11L236.59 386.19L236.65 386.27L236.70 386.35L236.75 386.42L236.80 386.50" stroke="#a3a3a3" stroke-width="1.05" />
<path d="M30.80 386.50L32.86 382.45L34.92 378.52L36.98 374.71L39.04 371.02L41.10 367.44L43.16 363.99L45.22 360.65L47.28 357.43L49.34 354.32L51.40 351.32L53.46 348.43L55.52 345.66L57.58 342.99L59.64 340.43L61.70 337.97L63.76 335.62L65.82 333.38L67.88 331.23L69.94 329.19L72.00 327.25L74.06 325.41L76.12 323.66L78.18 322.01L80.24 320.45L82.30 318.99L84.36 317.63L86.42 316.35L88.48 315.16L90.54 314.06L92.60 313.05L94.66 312.13L96.72 311.29L98.78 310.54L100.84 309.86L102.90 309.27L104.96 308.76L107.02 308.33L109.08 307.98L111.14 307.70L113.20 307.50L115.26 307.37L117.32 307.32L119.38 307.33L121.44 307.42L123.50 307.58L125.56 307.80L127.62 308.09L129.68 308.45L131.74 308.87L133.80 309.35L135.86 309.89L137.92 310.50L139.98 311.17L142.04 311.89L144.10 312.67L146.16 313.50L148.22 314.39L150.28 315.33L152.34 316.33L154.40 317.37L156.46 318.47L158.52 319.61L160.58 320.80L162.64 322.03L164.70 323.31L166.76 324.64L168.82 326.00L170.88 327.41L172.94 328.85L175.00 330.33L177.06 331.85L179.12 333.41L181.18 335.00L183.24 336.63L185.30 338.28L187.36 339.97L189.42 341.68L191.48 343.43L193.54 345.20L195.60 347.00L197.66 348.82L199.72 350.67L201.78 352.54L203.84 354.43L205.90 356.33L207.96 358.26L210.02 360.21L212.08 362.17L214.14 364.14L216.20 366.13L216.61 366.53L217.02 366.93L217.44 367.33L217.85 367.73L218.26 368.13L218.67 368.54L219.08 368.94L219.50 369.34L219.91 369.74L220.32 370.15L220.73 370.55L221.14 370.95L221.56 371.36L221.97 371.76L222.38 372.17L222.79 372.57L223.20 372.98L223.62 373.39L224.03 373.79L224.44 374.20L224.85 374.61L225.26 375.02L225.68 375.42L226.09 375.83L226.50 376.24L226.91 376.65L227.32 377.06L227.74 377.47L228.15 377.87L228.56 378.28L228.97 378.69L229.38 379.10L229.80 379.51L230.21 379.92L230.62 380.33L231.03 380.74L231.44 381.15L231.86 381.57L232.27 381.98L232.68 382.39L233.09 382.80L233.50 383.21L233.92 383.62L234.33 384.03L234.74 384.44L234.79 384.49L234.84 384.55L234.89 384.60L234.95 384.65L235.00 384.70L235.05 384.75L235.10 384.80L235.15 384.85L235.20 384.91L235.25 384.96L235.31 385.01L235.36 385.06L235.41 385.11L235.46 385.16L235.51 385.21L235.56 385.27L235.62 385.32L235.67 385.37L235.72 385.42L235.77 385.47L235.82 385.52L235.87 385.57L235.92 385.63L235.98 385.68L236.03 385.73L236.08 385.78L236.13 385.83L236.18 385.88L236.23 385.93L236.29 385.99L236.34 386.04L236.39 386.09L236.44 386.14L236.49 386.19L236.54 386.24L236.59 386.29L236.65 386.35L236.70 386.40L236.75 386.45L236.80 386.50" stroke="#ffc000" stroke-width="1.20" />
<path d="M30.80 386.50L32.86 384.96L34.92 383.41L36.98 381.87L39.04 380.33L41.10 378.79L43.16 377.24L45.22 375.70L47.28 374.16L49.34 372.61L51.40 371.07L53.46 369.53L55.52 367.98L57.58 366.44L59.64 364.90L61.70 363.36L63.76 361.81L65.82 360.27L67.88 358.73L69.94 357.18L72.00 355.64L74.06 354.10L76.12 352.55L78.18 351.01L80.24 349.47L82.30 347.93L84.36 346.38L86.42 344.84L88.48 343.30L90.54 341.75L92.60 340.21L94.66 338.67L96.72 337.12L98.78 335.58L100.84 334.04L102.90 332.50L104.96 330.95L107.02 329.41L109.08 327.87L111.14 326.32L113.20 324.78L115.26 323.24L117.32 321.69L119.38 320.15L121.44 318.61L123.50 317.06L125.56 315.52L127.62 313.98L129.68 312.44L131.74 310.89L133.80 309.35L135.86 307.81L137.92 306.26L139.98 304.72L142.04 303.18L144.10 301.63L146.16 300.09L148.22 298.55L150.28 297.01L152.34 295.46L154.40 293.92L156.46 292.38L158.52 290.83L160.58 289.29L162.64 287.75L164.70 286.20L166.76 284.66L168.82 283.12L170.88 281.58L172.94 280.03L175.00 278.49L177.06 276.95L179.12 275.40L181.18 273.86L183.24 272.32L185.30 270.77L187.36 269.23L189.42 267.69L191.48 266.15L193.54 264.60L195.60 263.06L197.66 261.52L199.72 259.97L201.78 258.43L203.84 256.89L205.90 255.34L207.96 253.80L210.02 252.26L212.08 250.72L214.14 249.17L216.20 247.63L216.61 247.32L217.02 247.01L217.44 246.70L217.85 246.40L218.26 246.09L218.67 245.78L219.08 245.47L219.50 245.16L219.91 244.85L220.32 244.54L220.73 244.24L221.14 243.93L221.56 243.62L221.97 243.31L222.38 243.00L222.79 242.69L223.20 242.38L223.62 242.08L224.03 241.77L224.44 241.46L224.85 241.15L225.26 240.84L225.68 240.53L226.09 240.22L226.50 239.91L226.91 239.61L227.32 239.30L227.74 238.99L228.15 238.68L228.56 238.37L228.97 238.06L229.38 237.75L229.80 237.45L230.21 237.14L230.62 236.83L231.03 236.52L231.44 236.21L231.86 235.90L232.27 235.59L232.68 235.29L233.09 234.98L233.50 234.67L233.92 234.36L234.33 234.05L234.74 233.74L234.79 233.70L234.84 233.67L234.89 233.63L234.95 233.59L235.00 233.55L235.05 233.51L235.10 233.47L235.15 233.43L235.20 233.40L235.25 233.36L235.31 233.32L235.36 233.28L235.41 233.24L235.46 233.20L235.51 233.16L235.56 233.13L235.62 233.09L235.67 233.05L235.72 233.01L235.77 232.97L235.82 232.93L235.87 232.89L235.92 232.86L235.98 232.82L236.03 232.78L236.08 232.74L236.13 232.70L236.18 232.66L236.23 232.62L236.29 232.59L236.34 232.55L236.39 232.51L236.44 232.47L236.49 232.43L236.54 232.39L236.59 232.35L236.65 232.32L236.70 232.28L236.75 232.24L236.80 232.20" stroke="#3d8ee6" stroke-width="0.33" />
<path d="M30.80 386.50L32.86 384.76L34.92 383.03L36.98 381.30L39.04 379.58L41.10 377.86L43.16 376.15L45.22 374.45L47.28 372.75L49.34 371.06L51.40 369.38L53.46 367.70L55.52 366.03L57.58 364.37L59.64 362.71L61.70 361.07L63.76 359.43L65.82 357.79L67.88 356.17L69.94 354.55L72.00 352.94L74.06 351.34L76.12 349.75L78.18 348.16L80.24 346.59L82.30 345.02L84.36 343.46L86.42 341.91L88.48 340.37L90.54 338.84L92.60 337.32L94.66 335.81L96.72 334.31L98.78 332.82L100.84 331.34L102.90 329.87L104.96 328.41L107.02 326.97L109.08 325.53L111.14 324.11L113.20 322.70L115.26 321.30L117.32 319.92L119.38 318.55L121.44 317.19L123.50 315.85L125.56 314.52L127.62 313.20L129.68 311.90L131.74 310.62L133.80 309.35L135.86 308.10L137.92 306.87L139.98 305.65L142.04 304.45L144.10 303.27L146.16 302.11L148.22 300.97L150.28 299.86L152.34 298.76L154.40 297.69L156.46 296.64L158.52 295.61L160.58 294.61L162.64 293.63L164.70 292.69L166.76 291.77L168.82 290.88L170.88 290.03L172.94 289.20L175.00 288.42L177.06 287.67L179.12 286.95L181.18 286.28L183.24 285.65L185.30 285.07L187.36 284.54L189.42 284.05L191.48 283.63L193.54 283.26L195.60 282.96L197.66 282.73L199.72 282.57L201.78 282.49L203.84 282.50L205.90 282.62L207.96 282.84L210.02 283.18L212.08 283.66L214.14 284.30L216.20 285.12L216.61 285.31L217.02 285.50L217.44 285.71L217.85 285.92L218.26 286.15L218.67 286.38L219.08 286.63L219.50 286.88L219.91 287.15L220.32 287.43L220.73 287.72L221.14 288.02L221.56 288.33L221.97 288.66L222.38 289.00L222.79 289.36L223.20 289.74L223.62 290.13L224.03 290.53L224.44 290.96L224.85 291.40L225.26 291.87L225.68 292.35L226.09 292.86L226.50 293.40L226.91 293.96L227.32 294.54L227.74 295.16L228.15 295.81L228.56 296.49L228.97 297.21L229.38 297.97L229.80 298.78L230.21 299.63L230.62 300.54L231.03 301.51L231.44 302.54L231.86 303.66L232.27 304.86L232.68 306.16L233.09 307.58L233.50 309.14L233.92 310.87L234.33 312.82L234.74 315.06L234.79 315.36L234.84 315.67L234.89 315.99L234.95 316.31L235.00 316.64L235.05 316.98L235.10 317.32L235.15 317.68L235.20 318.04L235.25 318.41L235.31 318.79L235.36 319.19L235.41 319.59L235.46 320.00L235.51 320.43L235.56 320.87L235.62 321.33L235.67 321.80L235.72 322.28L235.77 322.79L235.82 323.31L235.87 323.86L235.92 324.43L235.98 325.02L236.03 325.64L236.08 326.30L236.13 326.99L236.18 327.73L236.23 328.51L236.29 329.34L236.34 330.24L236.39 331.22L236.44 332.30L236.49 333.50L236.54 334.86L236.59 336.44L236.65 338.36L236.70 340.84L236.75 344.57L236.80 373.89" stroke="#55bd4e" stroke-width="1.15" />
<path d="M30.80 386.50L32.86 384.53L34.92 382.57L36.98 380.62L39.04 378.69L41.10 376.77L43.16 374.87L45.22 372.98L47.28 371.11L49.34 369.25L51.40 367.40L53.46 365.57L55.52 363.76L57.58 361.96L59.64 360.18L61.70 358.41L63.76 356.66L65.82 354.93L67.88 353.21L69.94 351.51L72.00 349.83L74.06 348.16L76.12 346.52L78.18 344.89L80.24 343.28L82.30 341.69L84.36 340.12L86.42 338.57L88.48 337.04L90.54 335.53L92.60 334.04L94.66 332.57L96.72 331.12L98.78 329.70L100.84 328.30L102.90 326.92L104.96 325.56L107.02 324.23L109.08 322.92L111.14 321.64L113.20 320.38L115.26 319.15L117.32 317.95L119.38 316.77L121.44 315.62L123.50 314.50L125.56 313.41L127.62 312.35L129.68 311.32L131.74 310.32L133.80 309.35L135.86 308.42L137.92 307.52L139.98 306.65L142.04 305.83L144.10 305.03L146.16 304.28L148.22 303.57L150.28 302.90L152.34 302.27L154.40 301.68L156.46 301.14L158.52 300.64L160.58 300.19L162.64 299.79L164.70 299.45L166.76 299.15L168.82 298.91L170.88 298.73L172.94 298.61L175.00 298.56L177.06 298.57L179.12 298.64L181.18 298.79L183.24 299.02L185.30 299.32L187.36 299.71L189.42 300.19L191.48 300.76L193.54 301.43L195.60 302.21L197.66 303.09L199.72 304.10L201.78 305.24L203.84 306.52L205.90 307.95L207.96 309.55L210.02 311.33L212.08 313.31L214.14 315.51L216.20 317.97L216.61 318.49L217.02 319.03L217.44 319.57L217.85 320.13L218.26 320.71L218.67 321.29L219.08 321.89L219.50 322.50L219.91 323.13L220.32 323.77L220.73 324.43L221.14 325.10L221.56 325.79L221.97 326.50L222.38 327.22L222.79 327.97L223.20 328.73L223.62 329.51L224.03 330.31L224.44 331.14L224.85 331.98L225.26 332.85L225.68 333.75L226.09 334.67L226.50 335.61L226.91 336.59L227.32 337.59L227.74 338.63L228.15 339.70L228.56 340.81L228.97 341.96L229.38 343.15L229.80 344.38L230.21 345.66L230.62 346.99L231.03 348.38L231.44 349.83L231.86 351.35L232.27 352.95L232.68 354.63L233.09 356.41L233.50 358.30L233.92 360.33L234.33 362.51L234.74 364.88L234.79 365.19L234.84 365.51L234.89 365.83L234.95 366.16L235.00 366.49L235.05 366.82L235.10 367.16L235.15 367.50L235.20 367.85L235.25 368.21L235.31 368.57L235.36 368.93L235.41 369.30L235.46 369.68L235.51 370.07L235.56 370.46L235.62 370.86L235.67 371.27L235.72 371.68L235.77 372.11L235.82 372.55L235.87 372.99L235.92 373.45L235.98 373.92L236.03 374.40L236.08 374.89L236.13 375.40L236.18 375.93L236.23 376.48L236.29 377.05L236.34 377.64L236.39 378.26L236.44 378.92L236.49 379.61L236.54 380.35L236.59 381.16L236.65 382.04L236.70 383.06L236.75 384.29L236.80 386.50" stroke="#1b61a2" stroke-width="1.25" />
<path d="M30.80 386.50L32.86 384.29L34.92 382.09L36.98 379.92L39.04 377.78L41.10 375.65L43.16 373.55L45.22 371.48L47.28 369.42L49.34 367.40L51.40 365.39L53.46 363.41L55.52 361.46L57.58 359.53L59.64 357.63L61.70 355.75L63.76 353.90L65.82 352.07L67.88 350.28L69.94 348.50L72.00 346.76L74.06 345.05L76.12 343.36L78.18 341.70L80.24 340.07L82.30 338.47L84.36 336.90L86.42 335.36L88.48 333.85L90.54 332.37L92.60 330.92L94.66 329.50L96.72 328.12L98.78 326.77L100.84 325.45L102.90 324.17L104.96 322.92L107.02 321.70L109.08 320.52L111.14 319.38L113.20 318.27L115.26 317.20L117.32 316.17L119.38 315.17L121.44 314.22L123.50 313.30L125.56 312.43L127.62 311.60L129.68 310.80L131.74 310.06L133.80 309.35L135.86 308.69L137.92 308.07L139.98 307.51L142.04 306.98L144.10 306.51L146.16 306.09L148.22 305.71L150.28 305.39L152.34 305.12L154.40 304.91L156.46 304.75L158.52 304.65L160.58 304.61L162.64 304.63L164.70 304.71L166.76 304.85L168.82 305.06L170.88 305.33L172.94 305.68L175.00 306.10L177.06 306.59L179.12 307.16L181.18 307.80L183.24 308.53L185.30 309.35L187.36 310.26L189.42 311.25L191.48 312.35L193.54 313.54L195.60 314.85L197.66 316.26L199.72 317.79L201.78 319.44L203.84 321.23L205.90 323.15L207.96 325.23L210.02 327.46L212.08 329.86L214.14 332.45L216.20 335.24L216.61 335.83L217.02 336.42L217.44 337.02L217.85 337.64L218.26 338.26L218.67 338.89L219.08 339.53L219.50 340.18L219.91 340.85L220.32 341.52L220.73 342.21L221.14 342.90L221.56 343.61L221.97 344.33L222.38 345.06L222.79 345.81L223.20 346.57L223.62 347.34L224.03 348.12L224.44 348.92L224.85 349.74L225.26 350.57L225.68 351.41L226.09 352.28L226.50 353.16L226.91 354.05L227.32 354.97L227.74 355.91L228.15 356.86L228.56 357.84L228.97 358.84L229.38 359.86L229.80 360.91L230.21 361.98L230.62 363.08L231.03 364.21L231.44 365.38L231.86 366.57L232.27 367.81L232.68 369.08L233.09 370.40L233.50 371.77L233.92 373.20L234.33 374.69L234.74 376.25L234.79 376.45L234.84 376.65L234.89 376.86L234.95 377.06L235.00 377.27L235.05 377.48L235.10 377.69L235.15 377.90L235.20 378.12L235.25 378.33L235.31 378.55L235.36 378.77L235.41 378.99L235.46 379.21L235.51 379.44L235.56 379.67L235.62 379.90L235.67 380.13L235.72 380.36L235.77 380.60L235.82 380.84L235.87 381.09L235.92 381.33L235.98 381.58L236.03 381.84L236.08 382.09L236.13 382.36L236.18 382.62L236.23 382.89L236.29 383.17L236.34 383.45L236.39 383.73L236.44 384.03L236.49 384.33L236.54 384.64L236.59 384.96L236.65 385.30L236.70 385.65L236.75 386.04L236.80 386.50" stroke="#e47c3a" stroke-width="0.33" />
<path d="M30.80 386.50L32.86 384.29L34.92 382.09L36.98 379.92L39.04 377.78L41.10 375.65L43.16 373.55L45.22 371.48L47.28 369.42L49.34 367.40L51.40 365.39L53.46 363.41L55.52 361.46L57.58 359.53L59.64 357.63L61.70 355.75L63.76 353.90L65.82 352.07L67.88 350.28L69.94 348.50L72.00 346.76L74.06 345.05L76.12 343.36L78.18 341.70L80.24 340.07L82.30 338.47L84.36 336.90L86.42 335.36L88.48 333.85L90.54 332.37L92.60 330.92L94.66 329.50L96.72 328.12L98.78 326.77L100.84 325.45L102.90 324.17L104.96 322.92L107.02 321.70L109.08 320.52L111.14 319.38L113.20 318.27L115.26 317.20L117.32 316.17L119.38 315.17L121.44 314.22L123.50 313.30L125.56 312.43L127.62 311.60L129.68 310.80L131.74 310.06L133.80 309.35L135.86 308.69L137.92 308.07L139.98 307.51L142.04 306.98L144.10 306.51L146.16 306.09L148.22 305.71L150.28 305.39L152.34 305.12L154.40 304.91L156.46 304.75L158.52 304.65L160.58 304.61L162.64 304.63L164.70 304.71L166.76 304.85L168.82 305.06L170.88 305.33L172.94 305.68L175.00 306.10L177.06 306.59L179.12 307.16L181.18 307.80L183.24 308.53L185.30 309.35L187.36 310.26L189.42 311.25L191.48 312.35L193.54 313.54L195.60 314.85L197.66 316.26L199.72 317.79L201.78 319.44L203.84 321.23L205.90 323.15L207.96 325.23L210.02 327.46L212.08 329.86L214.14 332.45L216.20 335.24L216.61 335.83L217.02 336.42L217.44 337.02L217.85 337.64L218.26 338.26L218.67 338.89L219.08 339.53L219.50 340.18L219.91 340.85L220.32 341.52L220.73 342.21L221.14 342.90L221.56 343.61L221.97 344.33L222.38 345.06L222.79 345.81L223.20 346.57L223.62 347.34L224.03 348.12L224.44 348.92L224.85 349.74L225.26 350.57L225.68 351.41L226.09 352.28L226.50 353.16L226.91 354.05L227.32 354.97L227.74 355.91L228.15 356.86L228.56 357.84L228.97 358.84L229.38 359.86L229.80 360.91L230.21 361.98L230.62 363.08L231.03 364.21L231.44 365.38L231.86 366.57L232.27 367.81L232.68 369.08L233.09 370.40L233.50 371.77L233.92 373.20L234.33 374.69L234.74 376.25L234.79 376.45L234.84 376.65L234.89 376.86L234.95 377.06L235.00 377.27L235.05 377.48L235.10 377.69L235.15 377.90L235.20 378.12L235.25 378.33L235.31 378.55L235.36 378.77L235.41 378.99L235.46 379.21L235.51 379.44L235.56 379.67L235.62 379.90L235.67 380.13L235.72 380.36L235.77 380.60L235.82 380.84L235.87 381.09L235.92 381.33L235.98 381.58L236.03 381.84L236.08 382.09L236.13 382.36L236.18 382.62L236.23 382.89L236.29 383.17L236.34 383.45L236.39 383.73L236.44 384.03L236.49 384.33L236.54 384.64L236.59 384.96L236.65 385.30L236.70 385.65L236.75 386.04L236.80 386.50" stroke="#a0a0a0" stroke-width="0.33" />
<path d="M30.80 386.50L32.86 384.29L34.92 382.09L36.98 379.92L39.04 377.78L41.10 375.65L43.16 373.55L45.22 371.48L47.28 369.42L49.34 367.40L51.40 365.39L53.46 363.41L55.52 361.46L57.58 359.53L59.64 357.63L61.70 355.75L63.76 353.90L65.82 352.07L67.88 350.28L69.94 348.50L72.00 346.76L74.06 345.05L76.12 343.36L78.18 341.70L80.24 340.07L82.30 338.47L84.36 336.90L86.42 335.36L88.48 333.85L90.54 332.37L92.60 330.92L94.66 329.50L96.72 328.12L98.78 326.77L100.84 325.45L102.90 324.17L104.96 322.92L107.02 321.70L109.08 320.52L111.14 319.38L113.20 318.27L115.26 317.20L117.32 316.17L119.38 315.17L121.44 314.22L123.50 313.30L125.56 312.43L127.62 311.60L129.68 310.80L131.74 310.06L133.80 309.35L135.86 308.69L137.92 308.07L139.98 307.51L142.04 306.98L144.10 306.51L146.16 306.09L148.22 305.71L150.28 305.39L152.34 305.12L154.40 304.91L156.46 304.75L158.52 304.65L160.58 304.61L162.64 304.63L164.70 304.71L166.76 304.85L168.82 305.06L170.88 305.33L172.94 305.68L175.00 306.10L177.06 306.59L179.12 307.16L181.18 307.80L183.24 308.53L185.30 309.35L187.36 310.26L189.42 311.25L191.48 312.35L193.54 313.54L195.60 314.85L197.66 316.26L199.72 317.79L201.78 319.44L203.84 321.23L205.90 323.15L207.96 325.23L210.02 327.46L212.08 329.86L214.14 332.45L216.20 335.24L216.61 335.83L217.02 336.42L217.44 337.02L217.85 337.64L218.26 338.26L218.67 338.89L219.08 339.53L219.50 340.18L219.91 340.85L220.32 341.52L220.73 342.21L221.14 342.90L221.56 343.61L221.97 344.33L222.38 345.06L222.79 345.81L223.20 346.57L223.62 347.34L224.03 348.12L224.44 348.92L224.85 349.74L225.26 350.57L225.68 351.41L226.09 352.28L226.50 353.16L226.91 354.05L227.32 354.97L227.74 355.91L228.15 356.86L228.56 357.84L228.97 358.84L229.38 359.86L229.80 360.91L230.21 361.98L230.62 363.08L231.03 364.21L231.44 365.38L231.86 366.57L232.27 367.81L232.68 369.08L233.09 370.40L233.50 371.77L233.92 373.20L234.33 374.69L234.74 376.25L234.79 376.45L234.84 376.65L234.89 376.86L234.95 377.06L235.00 377.27L235.05 377.48L235.10 377.69L235.15 377.90L235.20 378.12L235.25 378.33L235.31 378.55L235.36 378.77L235.41 378.99L235.46 379.21L235.51 379.44L235.56 379.67L235.62 379.90L235.67 380.13L235.72 380.36L235.77 380.60L235.82 380.84L235.87 381.09L235.92 381.33L235.98 381.58L236.03 381.84L236.08 382.09L236.13 382.36L236.18 382.62L236.23 382.89L236.29 383.17L236.34 383.45L236.39 383.73L236.44 384.03L236.49 384.33L236.54 384.64L236.59 384.96L236.65 385.30L236.70 385.65L236.75 386.04L236.80 386.50" stroke="#be870f" stroke-width="1.30" />
<path d="M30.80 386.50L32.86 384.96L34.92 383.41L36.98 381.87L39.04 380.33L41.10 378.79L43.16 377.24L45.22 375.70L47.28 374.16L49.34 372.61L51.40 371.07L53.46 369.53L55.52 367.98L57.58 366.44L59.64 364.90L61.70 363.36L63.76 361.81L65.82 360.27L67.88 358.73L69.94 357.18L72.00 355.64L74.06 354.10L76.12 352.55L78.18 351.01L80.24 349.47L82.30 347.93L84.36 346.38L86.42 344.84L88.48 343.30L90.54 341.75L92.60 340.21L94.66 338.67L96.72 337.12L98.78 335.58L100.84 334.04L102.90 332.50L104.96 330.95L107.02 329.41L109.08 327.87L111.14 326.32L113.20 324.78L115.26 323.24L117.32 321.69L119.38 320.15L121.44 318.61L123.50 317.06L125.56 315.52L127.62 313.98L129.68 312.44L131.74 310.89L133.80 309.35L135.86 307.81L137.92 306.26L139.98 304.72L142.04 303.18L144.10 301.63L146.16 300.09L148.22 298.55L150.28 297.01L152.34 295.46L154.40 293.92L156.46 292.38L158.52 290.83L160.58 289.29L162.64 287.75L164.70 286.20L166.76 284.66L168.82 283.12L170.88 281.58L172.94 280.03L175.00 278.49L177.06 276.95L179.12 275.40L181.18 273.86L183.24 272.32L185.30 270.77L187.36 269.23L189.42 267.69L191.48 266.15L193.54 264.60L195.60 263.06L197.66 261.52L199.72 259.97L201.78 258.43L203.84 256.89L205.90 255.34L207.96 253.80L210.02 252.26L212.08 250.72L214.14 249.17L216.20 247.63L216.61 247.32L217.02 247.01L217.44 246.70L217.85 246.40L218.26 246.09L218.67 245.78L219.08 245.47L219.50 245.16L219.91 244.85L220.32 244.54L220.73 244.24L221.14 243.93L221.56 243.62L221.97 243.31L222.38 243.00L222.79 242.69L223.20 242.38L223.62 242.08L224.03 241.77L224.44 241.46L224.85 241.15L225.26 240.84L225.68 240.53L226.09 240.22L226.50 239.91L226.91 239.61L227.32 239.30L227.74 238.99L228.15 238.68L228.56 238.37L228.97 238.06L229.38 237.75L229.80 237.45L230.21 237.14L230.62 236.83L231.03 236.52L231.44 236.21L231.86 235.90L232.27 235.59L232.68 235.29L233.09 234.98L233.50 234.67L233.92 234.36L234.33 234.05L234.74 233.74L234.79 233.70L234.84 233.67L234.89 233.63L234.95 233.59L235.00 233.55L235.05 233.51L235.10 233.47L235.15 233.43L235.20 233.40L235.25 233.36L235.31 233.32L235.36 233.28L235.41 233.24L235.46 233.20L235.51 233.16L235.56 233.13L235.62 233.09L235.67 233.05L235.72 233.01L235.77 232.97L235.82 232.93L235.87 232.89L235.92 232.86L235.98 232.82L236.03 232.78L236.08 232.74L236.13 232.70L236.18 232.66L236.23 232.62L236.29 232.59L236.34 232.55L236.39 232.51L236.44 232.47L236.49 232.43L236.54 232.39L236.59 232.35L236.65 232.32L236.70 232.28L236.75 232.24L236.80 232.20" stroke="#ffd75a" stroke-width="0.33" />
<path d="M30.80 386.50L32.86 384.64L34.92 382.79L36.98 380.95L39.04 379.13L41.10 377.31L43.16 375.50L45.22 373.70L47.28 371.91L49.34 370.13L51.40 368.36L53.46 366.61L55.52 364.86L57.58 363.13L59.64 361.41L61.70 359.70L63.76 358.00L65.82 356.31L67.88 354.64L69.94 352.97L72.00 351.32L74.06 349.69L76.12 348.07L78.18 346.46L80.24 344.86L82.30 343.28L84.36 341.71L86.42 340.16L88.48 338.62L90.54 337.10L92.60 335.59L94.66 334.10L96.72 332.63L98.78 331.17L100.84 329.73L102.90 328.30L104.96 326.90L107.02 325.51L109.08 324.14L111.14 322.79L113.20 321.46L115.26 320.15L117.32 318.86L119.38 317.59L121.44 316.34L123.50 315.12L125.56 313.92L127.62 312.74L129.68 311.58L131.74 310.45L133.80 309.35L135.86 308.27L137.92 307.22L139.98 306.20L142.04 305.21L144.10 304.24L146.16 303.31L148.22 302.41L150.28 301.54L152.34 300.71L154.40 299.91L156.46 299.15L158.52 298.42L160.58 297.74L162.64 297.10L164.70 296.50L166.76 295.94L168.82 295.44L170.88 294.98L172.94 294.57L175.00 294.22L177.06 293.92L179.12 293.69L181.18 293.52L183.24 293.41L185.30 293.37L187.36 293.41L189.42 293.53L191.48 293.73L193.54 294.02L195.60 294.41L197.66 294.90L199.72 295.51L201.78 296.24L203.84 297.10L205.90 298.10L207.96 299.27L210.02 300.62L212.08 302.16L214.14 303.93L216.20 305.95L216.61 306.39L217.02 306.84L217.44 307.31L217.85 307.78L218.26 308.27L218.67 308.78L219.08 309.29L219.50 309.83L219.91 310.37L220.32 310.94L220.73 311.52L221.14 312.12L221.56 312.73L221.97 313.37L222.38 314.02L222.79 314.69L223.20 315.39L223.62 316.10L224.03 316.84L224.44 317.60L224.85 318.39L225.26 319.21L225.68 320.05L226.09 320.92L226.50 321.83L226.91 322.77L227.32 323.74L227.74 324.75L228.15 325.80L228.56 326.90L228.97 328.04L229.38 329.23L229.80 330.48L230.21 331.78L230.62 333.15L231.03 334.60L231.44 336.12L231.86 337.73L232.27 339.44L232.68 341.27L233.09 343.23L233.50 345.34L233.92 347.64L234.33 350.16L234.74 352.97L234.79 353.35L234.84 353.73L234.89 354.12L234.95 354.51L235.00 354.91L235.05 355.32L235.10 355.74L235.15 356.16L235.20 356.59L235.25 357.03L235.31 357.48L235.36 357.94L235.41 358.41L235.46 358.89L235.51 359.38L235.56 359.88L235.62 360.39L235.67 360.92L235.72 361.46L235.77 362.02L235.82 362.60L235.87 363.19L235.92 363.80L235.98 364.43L236.03 365.09L236.08 365.77L236.13 366.47L236.18 367.21L236.23 367.99L236.29 368.81L236.34 369.67L236.39 370.59L236.44 371.57L236.49 372.63L236.54 373.80L236.59 375.09L236.65 376.58L236.70 378.36L236.75 380.70L236.80 386.50" stroke="#2257aa" stroke-width="1.25" />
<path d="M30.80 386.50L32.86 384.93L34.92 383.36L36.98 381.79L39.04 380.22L41.10 378.65L43.16 377.08L45.22 375.51L47.28 373.94L49.34 372.37L51.40 370.80L53.46 369.23L55.52 367.66L57.58 366.10L59.64 364.53L61.70 362.96L63.76 361.40L65.82 359.83L67.88 358.27L69.94 356.71L72.00 355.15L74.06 353.59L76.12 352.03L78.18 350.47L80.24 348.91L82.30 347.36L84.36 345.80L86.42 344.25L88.48 342.70L90.54 341.15L92.60 339.60L94.66 338.06L96.72 336.52L98.78 334.98L100.84 333.44L102.90 331.91L104.96 330.37L107.02 328.85L109.08 327.32L111.14 325.80L113.20 324.28L115.26 322.77L117.32 321.25L119.38 319.75L121.44 318.25L123.50 316.75L125.56 315.26L127.62 313.77L129.68 312.29L131.74 310.82L133.80 309.35L135.86 307.89L137.92 306.44L139.98 304.99L142.04 303.55L144.10 302.12L146.16 300.70L148.22 299.29L150.28 297.89L152.34 296.51L154.40 295.13L156.46 293.76L158.52 292.41L160.58 291.08L162.64 289.76L164.70 288.46L166.76 287.17L168.82 285.90L170.88 284.66L172.94 283.43L175.00 282.23L177.06 281.06L179.12 279.91L181.18 278.80L183.24 277.71L185.30 276.66L187.36 275.66L189.42 274.69L191.48 273.77L193.54 272.90L195.60 272.10L197.66 271.35L199.72 270.67L201.78 270.08L203.84 269.57L205.90 269.17L207.96 268.88L210.02 268.73L212.08 268.73L214.14 268.91L216.20 269.31L216.61 269.42L217.02 269.54L217.44 269.67L217.85 269.82L218.26 269.97L218.67 270.14L219.08 270.32L219.50 270.52L219.91 270.73L220.32 270.96L220.73 271.20L221.14 271.46L221.56 271.73L221.97 272.03L222.38 272.34L222.79 272.68L223.20 273.04L223.62 273.42L224.03 273.82L224.44 274.25L224.85 274.71L225.26 275.20L225.68 275.72L226.09 276.28L226.50 276.87L226.91 277.50L227.32 278.17L227.74 278.88L228.15 279.65L228.56 280.47L228.97 281.35L229.38 282.29L229.80 283.31L230.21 284.40L230.62 285.59L231.03 286.87L231.44 288.27L231.86 289.79L232.27 291.47L232.68 293.32L233.09 295.38L233.50 297.69L233.92 300.31L234.33 303.32L234.74 306.86L234.79 307.35L234.84 307.84L234.89 308.35L234.95 308.88L235.00 309.42L235.05 309.97L235.10 310.53L235.15 311.11L235.20 311.71L235.25 312.32L235.31 312.96L235.36 313.61L235.41 314.28L235.46 314.98L235.51 315.70L235.56 316.44L235.62 317.21L235.67 318.01L235.72 318.84L235.77 319.71L235.82 320.61L235.87 321.55L235.92 322.54L235.98 323.58L236.03 324.67L236.08 325.82L236.13 327.05L236.18 328.35L236.23 329.74L236.29 331.23L236.34 332.85L236.39 334.62L236.44 336.56L236.49 338.74L236.54 341.21L236.59 344.09L236.65 347.58L236.70 352.07L236.75 358.69L236.80 386.50" stroke="#23791f" stroke-width="1.25" />
<path d="M30.80 386.50L32.10 385.72L33.39 384.75L34.69 383.63L35.98 382.32L37.28 380.74L38.57 379.03L39.87 377.25L41.16 375.34L42.46 373.33L43.76 371.27L45.05 369.12L46.35 366.90L47.64 364.65L48.94 362.34L50.23 360.01L51.53 357.73L52.83 355.51L54.12 353.33L55.42 351.18L56.71 349.07L58.01 346.99L59.30 344.97L60.60 343.01L61.89 341.09L63.19 339.22L64.49 337.40L65.78 335.63L67.08 333.93L68.37 332.28L69.67 330.67L70.96 329.10L72.26 327.56L73.55 326.05L74.85 324.57L76.15 323.12L77.44 321.71L78.74 320.34L80.03 318.99L81.33 317.68L82.62 316.40L83.92 315.16L85.22 313.96L86.51 312.79L87.81 311.64L89.10 310.53L90.40 309.47L91.69 308.42L92.99 307.38L94.28 306.38L95.58 305.45L96.88 304.63L98.17 303.87L99.47 303.15L100.76 302.50L102.06 301.94L103.35 301.48L104.65 301.04L105.94 300.61L107.24 300.21L108.54 299.87L109.83 299.63L111.13 299.49L112.42 299.49L113.72 299.57L115.01 299.73L116.31 299.92L117.61 300.14L118.90 300.49L120.20 300.96L121.49 301.54L122.79 302.18L124.08 302.84L125.38 303.52L126.67 304.28L127.97 305.11L129.27 305.98L130.56 306.89L131.86 307.88L133.15 308.87L134.45 309.81L135.74 310.70L137.04 311.58L138.33 312.45L139.63 313.35L140.93 314.26L142.22 315.16L143.52 316.09L144.81 317.06L146.11 318.12L147.40 319.29L148.70 320.54L149.99 321.87L151.29 323.25L152.59 324.66L153.88 326.07L155.18 327.47L156.47 328.83L157.77 330.16L159.06 331.50L160.36 332.85L161.66 334.19L162.95 335.52L164.25 336.84L165.54 338.12L166.84 339.36L168.13 340.56L169.43 341.73L170.72 342.88L172.02 343.99L173.32 345.06L174.61 346.08L175.91 347.06L177.20 347.98L178.50 348.87L179.79 349.73L181.09 350.57L182.38 351.41L183.68 352.25L184.98 353.11L186.27 353.99L187.57 354.92L188.86 355.89L190.16 356.89L191.45 357.90L192.75 358.91L194.05 359.89L195.34 360.82L196.64 361.68L197.93 362.47L199.23 363.19L200.52 363.87L201.82 364.52L203.11 365.14L204.41 365.73L205.71 366.31L207.00 366.86L208.30 367.39L209.59 367.91L210.89 368.39L212.18 368.85L213.48 369.28L214.77 369.70L216.07 370.12L217.37 370.54L218.66 370.99L219.96 371.47L221.25 371.98L222.55 372.51L223.84 373.07L225.14 373.66L226.44 374.30L227.73 374.97L229.03 375.65L230.32 376.37L231.62 377.19L232.91 378.13L234.21 379.26L235.50 380.82L236.80 382.64" stroke="#93ccf5" stroke-width="0.62" />
<path d="M30.80 386.50L32.86 384.96L34.92 383.41L36.98 381.87L39.04 380.33L41.10 378.79L43.16 377.24L45.22 375.70L47.28 374.16L49.34 372.61L51.40 371.07L53.46 369.53L55.52 367.98L57.58 366.44L59.64 364.90L61.70 363.36L63.76 361.81L65.82 360.27L67.88 358.73L69.94 357.18L72.00 355.64L74.06 354.10L76.12 352.55L78.18 351.01L80.24 349.47L82.30 347.93L84.36 346.38L86.42 344.84L88.48 343.30L90.54 341.75L92.60 340.21L94.66 338.67L96.72 337.12L98.78 335.58L100.84 334.04L102.90 332.50L104.96 330.95L107.02 329.41L109.08 327.87L111.14 326.32L113.20 324.78L115.26 323.24L117.32 321.69L119.38 320.15L121.44 318.61L123.50 317.06L125.56 315.52L127.62 313.98L129.68 312.44L131.74 310.89L133.80 309.35L135.86 307.81L137.92 306.26L139.98 304.72L142.04 303.18L144.10 301.63L146.16 300.09L148.22 298.55L150.28 297.01L152.34 295.46L154.40 293.92L156.46 292.38L158.52 290.83L160.58 289.29L162.64 287.75L164.70 286.20L166.76 284.66L168.82 283.12L170.88 281.58L172.94 280.03L175.00 278.49L177.06 276.95L179.12 275.40L181.18 273.86L183.24 272.32L185.30 270.77L187.36 269.23L189.42 267.69L191.48 266.15L193.54 264.60L195.60 263.06L197.66 261.52L199.72 259.97L201.78 258.43L203.84 256.89L205.90 255.34L207.96 253.80L210.02 252.26L212.08 250.72L214.14 249.17L216.20 247.63L216.61 247.32L217.02 247.01L217.44 246.70L217.85 246.40L218.26 246.09L218.67 245.78L219.08 245.47L219.50 245.16L219.91 244.85L220.32 244.54L220.73 244.24L221.14 243.93L221.56 243.62L221.97 243.31L222.38 243.00L222.79 242.69L223.20 242.38L223.62 242.08L224.03 241.77L224.44 241.46L224.85 241.15L225.26 240.84L225.68 240.53L226.09 240.22L226.50 239.91L226.91 239.61L227.32 239.30L227.74 238.99L228.15 238.68L228.56 238.37L228.97 238.06L229.38 237.75L229.80 237.45L230.21 237.14L230.62 236.83L231.03 236.52L231.44 236.21L231.86 235.90L232.27 235.59L232.68 235.29L233.09 234.98L233.50 234.67L233.92 234.36L234.33 234.05L234.74 233.74L234.79 233.70L234.84 233.67L234.89 233.63L234.95 233.59L235.00 233.55L235.05 233.51L235.10 233.47L235.15 233.43L235.20 233.40L235.25 233.36L235.31 233.32L235.36 233.28L235.41 233.24L235.46 233.20L235.51 233.16L235.56 233.13L235.62 233.09L235.67 233.05L235.72 233.01L235.77 232.97L235.82 232.93L235.87 232.89L235.92 232.86L235.98 232.82L236.03 232.78L236.08 232.74L236.13 232.70L236.18 232.66L236.23 232.62L236.29 232.59L236.34 232.55L236.39 232.51L236.44 232.47L236.49 232.43L236.54 232.39L236.59 232.35L236.65 232.32L236.70 232.28L236.75 232.24L236.80 232.20" stroke="#f58840" stroke-width="1.15" />
<path d="M30.80 386.50L32.86 375.59L34.92 371.07L36.98 367.60L39.04 364.68L41.10 362.10L43.16 359.77L45.22 357.63L47.28 355.64L49.34 353.77L51.40 352.00L53.46 350.31L55.52 348.70L57.58 347.16L59.64 345.68L61.70 344.24L63.76 342.86L65.82 341.51L67.88 340.21L69.94 338.94L72.00 337.71L74.06 336.50L76.12 335.32L78.18 334.17L80.24 333.05L82.30 331.95L84.36 330.87L86.42 329.81L88.48 328.77L90.54 327.74L92.60 326.74L94.66 325.75L96.72 324.78L98.78 323.82L100.84 322.88L102.90 321.95L104.96 321.04L107.02 320.13L109.08 319.24L111.14 318.36L113.20 317.49L115.26 316.64L117.32 315.79L119.38 314.95L121.44 314.13L123.50 313.31L125.56 312.50L127.62 311.70L129.68 310.91L131.74 310.13L133.80 309.35L135.86 308.58L137.92 307.82L139.98 307.07L142.04 306.32L144.10 305.58L146.16 304.85L148.22 304.13L150.28 303.41L152.34 302.69L154.40 301.99L156.46 301.29L158.52 300.59L160.58 299.90L162.64 299.21L164.70 298.54L166.76 297.86L168.82 297.19L170.88 296.53L172.94 295.87L175.00 295.21L177.06 294.57L179.12 293.92L181.18 293.28L183.24 292.64L185.30 292.01L187.36 291.38L189.42 290.76L191.48 290.14L193.54 289.52L195.60 288.91L197.66 288.30L199.72 287.70L201.78 287.10L203.84 286.50L205.90 285.91L207.96 285.32L210.02 284.73L212.08 284.15L214.14 283.57L216.20 282.99L216.61 282.88L217.02 282.76L217.44 282.65L217.85 282.53L218.26 282.42L218.67 282.30L219.08 282.19L219.50 282.08L219.91 281.96L220.32 281.85L220.73 281.73L221.14 281.62L221.56 281.51L221.97 281.39L222.38 281.28L222.79 281.17L223.20 281.06L223.62 280.94L224.03 280.83L224.44 280.72L224.85 280.60L225.26 280.49L225.68 280.38L226.09 280.27L226.50 280.16L226.91 280.04L227.32 279.93L227.74 279.82L228.15 279.71L228.56 279.60L228.97 279.49L229.38 279.38L229.80 279.26L230.21 279.15L230.62 279.04L231.03 278.93L231.44 278.82L231.86 278.71L232.27 278.60L232.68 278.49L233.09 278.38L233.50 278.27L233.92 278.16L234.33 278.05L234.74 277.94L234.79 277.93L234.84 277.91L234.89 277.90L234.95 277.89L235.00 277.87L235.05 277.86L235.10 277.84L235.15 277.83L235.20 277.82L235.25 277.80L235.31 277.79L235.36 277.78L235.41 277.76L235.46 277.75L235.51 277.73L235.56 277.72L235.62 277.71L235.67 277.69L235.72 277.68L235.77 277.67L235.82 277.65L235.87 277.64L235.92 277.63L235.98 277.61L236.03 277.60L236.08 277.58L236.13 277.57L236.18 277.56L236.23 277.54L236.29 277.53L236.34 277.52L236.39 277.50L236.44 277.49L236.49 277.48L236.54 277.46L236.59 277.45L236.65 277.43L236.70 277.42L236.75 277.41L236.80 277.39" stroke="#aaaaaa" stroke-width="1.05" />
</g>
<path d="M243.80 253.30H252.00" stroke="#2b97e6" stroke-width="1.00" fill="none"/>
<text transform="translate(253.30 254.92) scale(0.860 1)" font-size="4.50" fill="#1f1f1f" stroke="#1f1f1f" stroke-width="0.12" text-anchor="start" font-weight="bold">Exp.</text>
<path d="M243.80 262.00H252.00" stroke="#f47f2e" stroke-width="0.80" fill="none"/>
<text transform="translate(253.30 263.62) scale(0.860 1)" font-size="4.50" fill="#1f1f1f" stroke="#1f1f1f" stroke-width="0.12" text-anchor="start" font-weight="bold">F1</text>
<path d="M243.80 270.70H252.00" stroke="#a3a3a3" stroke-width="0.80" fill="none"/>
<text transform="translate(253.30 272.32) scale(0.860 1)" font-size="4.50" fill="#1f1f1f" stroke="#1f1f1f" stroke-width="0.12" text-anchor="start" font-weight="bold">F2</text>
<path d="M243.80 279.40H252.00" stroke="#ffc000" stroke-width="1.10" fill="none"/>
<text transform="translate(253.30 281.02) scale(0.860 1)" font-size="4.50" fill="#1f1f1f" stroke="#1f1f1f" stroke-width="0.12" text-anchor="start" font-weight="bold">F3</text>
<path d="M243.80 288.10H252.00" stroke="#3d8ee6" stroke-width="0.80" fill="none"/>
<text transform="translate(253.30 289.72) scale(0.860 1)" font-size="4.50" fill="#1f1f1f" stroke="#1f1f1f" stroke-width="0.12" text-anchor="start" font-weight="bold">D1</text>
<path d="M243.80 296.80H252.00" stroke="#55bd4e" stroke-width="1.10" fill="none"/>
<text transform="translate(253.30 298.42) scale(0.860 1)" font-size="4.50" fill="#1f1f1f" stroke="#1f1f1f" stroke-width="0.12" text-anchor="start" font-weight="bold">D2</text>
<path d="M243.80 305.50H252.00" stroke="#1b61a2" stroke-width="1.10" fill="none"/>
<text transform="translate(253.30 307.12) scale(0.860 1)" font-size="4.50" fill="#1f1f1f" stroke="#1f1f1f" stroke-width="0.12" text-anchor="start" font-weight="bold">D3</text>
<path d="M243.80 314.20H252.00" stroke="#e47c3a" stroke-width="0.90" fill="none"/>
<text transform="translate(253.30 315.82) scale(0.860 1)" font-size="4.50" fill="#1f1f1f" stroke="#1f1f1f" stroke-width="0.12" text-anchor="start" font-weight="bold">A2</text>
<path d="M243.80 322.90H252.00" stroke="#a0a0a0" stroke-width="0.90" fill="none"/>
<text transform="translate(253.30 324.52) scale(0.860 1)" font-size="4.50" fill="#1f1f1f" stroke="#1f1f1f" stroke-width="0.12" text-anchor="start" font-weight="bold">A3</text>
<path d="M243.80 331.60H252.00" stroke="#be870f" stroke-width="1.10" fill="none"/>
<text transform="translate(253.30 333.22) scale(0.860 1)" font-size="4.50" fill="#1f1f1f" stroke="#1f1f1f" stroke-width="0.12" text-anchor="start" font-weight="bold">A4</text>
<path d="M243.80 340.30H252.00" stroke="#ffd75a" stroke-width="0.80" fill="none"/>
<text transform="translate(253.30 341.92) scale(0.860 1)" font-size="4.50" fill="#1f1f1f" stroke="#1f1f1f" stroke-width="0.12" text-anchor="start" font-weight="bold">R1</text>
<path d="M243.80 349.00H252.00" stroke="#2257aa" stroke-width="1.10" fill="none"/>
<text transform="translate(253.30 350.62) scale(0.860 1)" font-size="4.50" fill="#1f1f1f" stroke="#1f1f1f" stroke-width="0.12" text-anchor="start" font-weight="bold">R2</text>
<path d="M243.80 357.70H252.00" stroke="#23791f" stroke-width="1.10" fill="none"/>
<text transform="translate(253.30 359.32) scale(0.860 1)" font-size="4.50" fill="#1f1f1f" stroke="#1f1f1f" stroke-width="0.12" text-anchor="start" font-weight="bold">R3</text>
<path d="M243.80 366.40H252.00" stroke="#97d0f7" stroke-width="0.80" fill="none"/>
<text transform="translate(253.30 368.02) scale(0.860 1)" font-size="4.50" fill="#1f1f1f" stroke="#1f1f1f" stroke-width="0.12" text-anchor="start" font-weight="bold">P2</text>
<path d="M243.80 375.10H252.00" stroke="#f58840" stroke-width="0.80" fill="none"/>
<text transform="translate(253.30 376.72) scale(0.860 1)" font-size="4.50" fill="#1f1f1f" stroke="#1f1f1f" stroke-width="0.12" text-anchor="start" font-weight="bold">P3</text>
<path d="M243.80 383.80H252.00" stroke="#aaaaaa" stroke-width="0.80" fill="none"/>
<text transform="translate(253.30 385.42) scale(0.860 1)" font-size="4.50" fill="#1f1f1f" stroke="#1f1f1f" stroke-width="0.12" text-anchor="start" font-weight="bold">P4</text>
</g>
<g>
<rect x="280.8" y="214.7" width="263.6" height="195.5" fill="#fff" stroke="#e4e4e4" stroke-width="0.8"/>
<path d="M305.20 231.30V387.30H514.00" fill="none" stroke="#d4d4d4" stroke-width="0.65"/>
<text transform="translate(300.90 388.40) scale(1.000 1)" font-size="3.60" fill="#6a6a6a" text-anchor="end" font-weight="normal">0</text>
<text transform="translate(300.90 362.43) scale(1.000 1)" font-size="3.60" fill="#6a6a6a" text-anchor="end" font-weight="normal">0.2</text>
<text transform="translate(300.90 336.46) scale(1.000 1)" font-size="3.60" fill="#6a6a6a" text-anchor="end" font-weight="normal">0.4</text>
<text transform="translate(300.90 310.50) scale(1.000 1)" font-size="3.60" fill="#6a6a6a" text-anchor="end" font-weight="normal">0.6</text>
<text transform="translate(300.90 284.53) scale(1.000 1)" font-size="3.60" fill="#6a6a6a" text-anchor="end" font-weight="normal">0.8</text>
<text transform="translate(300.90 258.56) scale(1.000 1)" font-size="3.60" fill="#6a6a6a" text-anchor="end" font-weight="normal">1</text>
<text transform="translate(300.90 232.60) scale(1.000 1)" font-size="3.60" fill="#6a6a6a" text-anchor="end" font-weight="normal">1.2</text>
<text transform="translate(305.50 394.93) scale(1.000 1)" font-size="3.70" fill="#6a6a6a" text-anchor="middle" font-weight="normal">0</text>
<text transform="translate(326.35 394.93) scale(1.000 1)" font-size="3.70" fill="#6a6a6a" text-anchor="middle" font-weight="normal">0.1</text>
<text transform="translate(347.20 394.93) scale(1.000 1)" font-size="3.70" fill="#6a6a6a" text-anchor="middle" font-weight="normal">0.2</text>
<text transform="translate(368.05 394.93) scale(1.000 1)" font-size="3.70" fill="#6a6a6a" text-anchor="middle" font-weight="normal">0.3</text>
<text transform="translate(388.90 394.93) scale(1.000 1)" font-size="3.70" fill="#6a6a6a" text-anchor="middle" font-weight="normal">0.4</text>
<text transform="translate(409.75 394.93) scale(1.000 1)" font-size="3.70" fill="#6a6a6a" text-anchor="middle" font-weight="normal">0.5</text>
<text transform="translate(430.60 394.93) scale(1.000 1)" font-size="3.70" fill="#6a6a6a" text-anchor="middle" font-weight="normal">0.6</text>
<text transform="translate(451.45 394.93) scale(1.000 1)" font-size="3.70" fill="#6a6a6a" text-anchor="middle" font-weight="normal">0.7</text>
<text transform="translate(472.30 394.93) scale(1.000 1)" font-size="3.70" fill="#6a6a6a" text-anchor="middle" font-weight="normal">0.8</text>
<text transform="translate(493.15 394.93) scale(1.000 1)" font-size="3.70" fill="#6a6a6a" text-anchor="middle" font-weight="normal">0.9</text>
<text transform="translate(514.00 394.93) scale(1.000 1)" font-size="3.70" fill="#6a6a6a" text-anchor="middle" font-weight="normal">1</text>
<text transform="translate(412.60 223.60) scale(1.080 1)" font-size="6.20" fill="#444444" text-anchor="middle" font-weight="normal">(d)</text>
<text transform="translate(409.80 403.60) scale(0.905 1)" font-size="6.30" fill="#1a1a1a" stroke="#1a1a1a" stroke-width="0.18" text-anchor="middle" font-weight="bold">Conversion (%)</text>
<text transform="translate(292.60 310.10) rotate(-90) scale(1.050 1)" font-size="6.30" fill="#1a1a1a" stroke="#1a1a1a" stroke-width="0.18" text-anchor="middle" font-weight="bold">Z(α)/Z(0.5)</text>
<g fill="none" stroke-linejoin="round" stroke-linecap="round">
<path d="M305.50 387.10L306.08 387.10L306.66 387.10L307.24 387.10L307.82 387.10L308.40 387.10L308.98 387.10L309.57 387.10L310.15 386.99L310.73 386.16L311.31 384.98L311.89 383.84L312.47 382.37L313.05 380.94L313.63 379.84L314.21 377.80L314.79 376.38L315.37 374.00L315.95 372.43L316.53 370.78L317.12 369.16L317.70 366.87L318.28 364.79L318.86 363.11L319.44 360.05L320.02 358.52L320.60 356.10L321.18 354.85L321.76 352.00L322.34 350.76L322.92 348.42L323.50 345.85L324.08 343.67L324.67 342.00L325.25 339.30L325.83 336.47L326.41 333.97L326.99 332.28L327.57 330.65L328.15 328.43L328.73 327.13L329.31 324.86L329.89 323.64L330.47 321.55L331.05 319.92L331.64 318.04L332.22 316.80L332.80 314.87L333.38 313.83L333.96 312.15L334.54 310.81L335.12 310.26L335.70 308.46L336.28 307.23L336.86 306.29L337.44 304.89L338.02 304.26L338.60 302.59L339.19 301.48L339.77 300.36L340.35 298.51L340.93 297.85L341.51 296.64L342.09 295.56L342.67 293.96L343.25 293.01L343.83 291.09L344.41 290.39L344.99 288.95L345.57 287.27L346.15 286.42L346.74 285.63L347.32 284.29L347.90 283.72L348.48 282.52L349.06 281.80L349.64 281.14L350.22 279.85L350.80 278.80L351.38 278.26L351.96 277.57L352.54 276.50L353.12 276.11L353.70 274.68L354.29 273.90L354.87 272.11L355.45 271.94L356.03 271.32L356.61 269.74L357.19 269.16L357.77 268.24L358.35 267.35L358.93 266.51L359.51 265.86L360.09 264.67L360.67 263.99L361.25 263.48L361.84 262.61L362.42 262.05L363.00 260.94L363.58 260.07L364.16 259.37L364.74 258.67L365.32 258.19L365.90 257.04L366.48 256.89L367.06 256.16L367.64 255.61L368.22 254.84L368.81 254.31L369.39 253.05L369.97 252.93L370.55 252.98L371.13 252.12L371.71 251.94L372.29 250.87L372.87 250.37L373.45 250.58L374.03 249.99L374.61 249.94L375.19 249.45L375.77 248.69L376.36 248.80L376.94 248.55L377.52 247.53L378.10 247.25L378.68 247.08L379.26 247.04L379.84 247.66L380.42 248.16L381.00 247.36L381.58 247.43L382.16 247.04L382.74 246.66L383.32 245.84L383.91 245.97L384.49 245.81L385.07 245.56L385.65 245.94L386.23 246.03L386.81 246.02L387.39 246.34L387.97 246.42L388.55 246.83L389.13 246.58L389.71 246.49L390.29 246.06L390.87 245.66L391.46 245.47L392.04 245.54L392.62 246.13L393.20 246.32L393.78 246.76L394.36 246.57L394.94 246.73L395.52 247.70L396.10 247.71L396.68 248.43L397.26 248.76L397.84 249.05L398.42 249.63L399.01 249.66L399.59 250.72L400.17 250.81L400.75 250.86L401.33 251.27L401.91 250.98L402.49 251.67L403.07 251.51L403.65 252.45L404.23 252.69L404.81 253.10L405.39 253.11L405.97 253.91L406.56 254.22L407.14 255.12L407.72 254.99L408.30 256.12L408.88 256.60L409.46 257.38L410.04 257.47L410.62 257.86L411.20 259.03L411.78 259.70L412.36 260.47L412.94 261.16L413.53 261.89L414.11 262.68L414.69 262.34L415.27 263.58L415.85 263.37L416.43 263.01L417.01 262.82L417.59 263.17L418.17 263.41L418.75 263.96L419.33 264.85L419.91 265.24L420.49 266.30L421.08 267.13L421.66 267.70L422.24 268.25L422.82 268.63L423.40 269.22L423.98 270.47L424.56 271.42L425.14 272.02L425.72 271.63L426.30 272.95L426.88 273.28L427.46 273.45L428.04 274.76L428.63 275.20L429.21 275.89L429.79 276.63L430.37 276.69L430.95 277.24L431.53 278.70L432.11 278.50L432.69 279.46L433.27 279.97L433.85 280.59L434.43 281.66L435.01 282.03L435.59 282.89L436.18 282.75L436.76 283.38L437.34 284.71L437.92 285.84L438.50 285.98L439.08 287.20L439.66 287.51L440.24 288.34L440.82 289.33L441.40 290.85L441.98 291.95L442.56 292.79L443.14 293.55L443.73 294.71L444.31 295.01L444.89 296.04L445.47 297.10L446.05 298.07L446.63 298.64L447.21 299.33L447.79 301.21L448.37 301.58L448.95 302.78L449.53 304.04L450.11 305.23L450.69 306.54L451.28 307.59L451.86 309.69L452.44 311.39L453.02 313.09L453.60 313.87L454.18 315.43L454.76 316.32L455.34 317.31L455.92 318.81L456.50 320.30L457.08 321.65L457.66 322.80L458.25 324.54L458.83 325.96L459.41 327.41L459.99 329.12L460.57 330.41L461.15 332.03L461.73 333.04L462.31 334.65L462.89 336.74L463.47 337.75L464.05 338.81L464.63 340.59L465.21 342.00L465.80 342.88L466.38 344.68L466.96 345.55L467.54 346.58L468.12 347.65L468.70 349.28L469.28 350.33L469.86 350.41L470.44 351.77L471.02 352.23L471.60 352.08L472.18 353.21L472.76 353.70L473.35 352.22L473.93 352.64L474.51 352.74L475.09 351.90L475.67 352.50L476.25 351.91L476.83 352.77L477.41 354.36L477.99 354.04L478.57 351.44L479.15 349.22L479.73 347.64L480.31 347.54L480.90 348.19L481.48 348.25L482.06 348.46L482.64 348.20L483.22 346.61L483.80 344.79L484.38 344.25L484.96 344.50L485.54 343.48L486.12 340.88L486.70 339.94L487.28 340.48L487.86 340.30L488.45 341.51L489.03 342.02L489.61 342.42L490.19 341.15L490.77 342.36L491.35 343.31L491.93 343.90L492.51 345.43L493.09 346.52L493.67 347.89L494.25 348.83L494.83 350.48L495.42 351.61L496.00 353.21L496.58 355.22L497.16 356.39L497.74 358.34L498.32 360.87L498.90 362.08L499.48 364.62L500.06 366.27L500.64 369.31L501.22 371.42L501.80 371.41L502.38 370.47L502.97 371.53L503.55 372.26L504.13 371.14L504.71 369.20L505.29 369.75L505.87 370.04L506.45 369.51L507.03 368.66L507.61 368.82L508.19 369.06L508.77 369.23L509.35 368.98L509.93 368.65L510.52 367.93L511.10 367.72L511.68 368.02L512.26 368.17L512.84 371.34L513.42 376.97L514.00 387.10" stroke="#2b97e6" stroke-width="1.45" />
<path d="M514.94 338.41L514.94 387.10" stroke="#6ab6ee" stroke-width="1.25" />
<path d="M305.50 387.10L306.81 385.79L308.12 384.16L309.43 382.27L310.75 380.06L312.06 377.41L313.37 374.52L314.68 371.53L315.99 368.32L317.30 364.94L318.61 361.47L319.92 357.84L321.24 354.11L322.55 350.33L323.86 346.45L325.17 342.52L326.48 338.68L327.79 334.95L329.10 331.27L330.42 327.66L331.73 324.11L333.04 320.61L334.35 317.20L335.66 313.91L336.97 310.69L338.28 307.53L339.59 304.47L340.91 301.50L342.22 298.63L343.53 295.85L344.84 293.15L346.15 290.50L347.46 287.91L348.77 285.37L350.08 282.88L351.40 280.44L352.71 278.07L354.02 275.75L355.33 273.49L356.64 271.29L357.95 269.14L359.26 267.05L360.58 265.02L361.89 263.05L363.20 261.12L364.51 259.26L365.82 257.46L367.13 255.70L368.44 253.95L369.75 252.27L371.07 250.71L372.38 249.32L373.69 248.04L375.00 246.84L376.31 245.74L377.62 244.80L378.93 244.03L380.25 243.28L381.56 242.55L382.87 241.88L384.18 241.32L385.49 240.90L386.80 240.68L388.11 240.67L389.42 240.82L390.74 241.07L392.05 241.40L393.36 241.78L394.67 242.35L395.98 243.15L397.29 244.12L398.60 245.20L399.92 246.32L401.23 247.45L402.54 248.73L403.85 250.13L405.16 251.60L406.47 253.13L407.78 254.79L409.09 256.46L410.41 258.04L411.72 259.54L413.03 261.02L414.34 262.49L415.65 263.99L416.96 265.53L418.27 267.05L419.58 268.61L420.90 270.25L422.21 272.03L423.52 273.99L424.83 276.10L426.14 278.34L427.45 280.66L428.76 283.03L430.08 285.41L431.39 287.76L432.70 290.04L434.01 292.28L435.32 294.54L436.63 296.81L437.94 299.07L439.25 301.31L440.57 303.52L441.88 305.68L443.19 307.77L444.50 309.79L445.81 311.76L447.12 313.69L448.43 315.56L449.75 317.36L451.06 319.09L452.37 320.72L453.68 322.28L454.99 323.77L456.30 325.22L457.61 326.64L458.92 328.04L460.24 329.46L461.55 330.90L462.86 332.39L464.17 333.95L465.48 335.59L466.79 337.27L468.10 338.98L469.42 340.67L470.73 342.31L472.04 343.88L473.35 345.34L474.66 346.66L475.97 347.87L477.28 349.02L478.59 350.11L479.91 351.15L481.22 352.16L482.53 353.12L483.84 354.04L485.15 354.94L486.46 355.81L487.77 356.63L489.08 357.39L490.40 358.12L491.71 358.82L493.02 359.53L494.33 360.25L495.64 361.00L496.95 361.80L498.26 362.66L499.58 363.56L500.89 364.50L502.20 365.50L503.51 366.56L504.82 367.69L506.13 368.83L507.44 370.06L508.75 371.43L510.07 373.01L511.38 374.92L512.69 377.54L514.00 380.61" stroke="#93ccf5" stroke-width="0.68" />
<path d="M305.50 387.10L307.58 383.37L309.67 379.68L311.75 376.03L313.84 372.42L315.93 368.85L318.01 365.31L320.10 361.82L322.18 358.36L324.26 354.95L326.35 351.58L328.44 348.25L330.52 344.96L332.61 341.71L334.69 338.51L336.77 335.35L338.86 332.23L340.94 329.16L343.03 326.14L345.12 323.16L347.20 320.22L349.28 317.34L351.37 314.50L353.45 311.71L355.54 308.96L357.62 306.27L359.71 303.63L361.80 301.04L363.88 298.49L365.96 296.00L368.05 293.57L370.13 291.18L372.22 288.86L374.31 286.58L376.39 284.36L378.48 282.20L380.56 280.10L382.64 278.05L384.73 276.07L386.81 274.14L388.90 272.28L390.99 270.48L393.07 268.74L395.15 267.07L397.24 265.46L399.32 263.92L401.41 262.45L403.50 261.05L405.58 259.71L407.66 258.45L409.75 257.27L411.84 256.15L413.92 255.12L416.00 254.16L418.09 253.28L420.18 252.49L422.26 251.78L424.35 251.15L426.43 250.61L428.51 250.16L430.60 249.80L432.69 249.53L434.77 249.36L436.86 249.29L438.94 249.32L441.02 249.45L443.11 249.69L445.20 250.04L447.28 250.51L449.37 251.09L451.45 251.79L453.53 252.62L455.62 253.57L457.70 254.66L459.79 255.89L461.88 257.27L463.96 258.79L466.05 260.47L468.13 262.31L470.22 264.32L472.30 266.51L474.38 268.89L476.47 271.47L478.56 274.25L480.64 277.26L482.73 280.50L484.81 283.98L486.89 287.74L488.98 291.78L491.06 296.14L493.15 300.84L493.57 301.82L493.98 302.82L494.40 303.84L494.82 304.87L495.24 305.91L495.65 306.98L496.07 308.06L496.49 309.16L496.90 310.27L497.32 311.40L497.74 312.56L498.15 313.73L498.57 314.92L498.99 316.13L499.40 317.37L499.82 318.62L500.24 319.90L500.66 321.19L501.07 322.52L501.49 323.86L501.91 325.23L502.32 326.63L502.74 328.05L503.16 329.51L503.57 330.99L503.99 332.50L504.41 334.04L504.83 335.61L505.24 337.22L505.66 338.87L506.08 340.55L506.49 342.27L506.91 344.03L507.33 345.84L507.75 347.69L508.16 349.59L508.58 351.55L509.00 353.57L509.41 355.64L509.83 357.79L510.25 360.01L510.66 362.31L511.08 364.71L511.50 367.22L511.91 369.85L511.97 370.19L512.02 370.53L512.07 370.87L512.12 371.22L512.18 371.57L512.23 371.92L512.28 372.27L512.33 372.63L512.38 372.99L512.44 373.35L512.49 373.72L512.54 374.09L512.59 374.46L512.64 374.84L512.70 375.22L512.75 375.60L512.80 375.99L512.85 376.38L512.91 376.78L512.96 377.18L513.01 377.58L513.06 377.99L513.11 378.41L513.17 378.83L513.22 379.25L513.27 379.69L513.32 380.12L513.37 380.57L513.43 381.03L513.48 381.49L513.53 381.96L513.58 382.44L513.64 382.94L513.69 383.45L513.74 383.97L513.79 384.51L513.84 385.08L513.90 385.68L513.95 386.32L514.00 387.10" stroke="#f47f2e" stroke-width="1.40" />
<path d="M305.50 387.10L307.58 381.96L309.67 376.92L311.75 371.99L313.84 367.16L315.93 362.43L318.01 357.81L320.10 353.29L322.18 348.88L324.26 344.57L326.35 340.36L328.44 336.26L330.52 332.26L332.61 328.36L334.69 324.57L336.77 320.88L338.86 317.30L340.94 313.82L343.03 310.45L345.12 307.17L347.20 304.01L349.28 300.94L351.37 297.98L353.45 295.13L355.54 292.37L357.62 289.73L359.71 287.18L361.80 284.74L363.88 282.40L365.96 280.17L368.05 278.04L370.13 276.01L372.22 274.09L374.31 272.28L376.39 270.56L378.48 268.95L380.56 267.45L382.64 266.04L384.73 264.75L386.81 263.55L388.90 262.46L390.99 261.47L393.07 260.59L395.15 259.81L397.24 259.14L399.32 258.56L401.41 258.10L403.50 257.73L405.58 257.47L407.66 257.32L409.75 257.27L411.84 257.32L413.92 257.47L416.00 257.73L418.09 258.10L420.18 258.56L422.26 259.14L424.35 259.81L426.43 260.59L428.51 261.47L430.60 262.46L432.69 263.55L434.77 264.75L436.86 266.04L438.94 267.45L441.02 268.95L443.11 270.56L445.20 272.28L447.28 274.09L449.37 276.01L451.45 278.04L453.53 280.17L455.62 282.40L457.70 284.74L459.79 287.18L461.88 289.73L463.96 292.37L466.05 295.13L468.13 297.98L470.22 300.94L472.30 304.01L474.38 307.17L476.47 310.45L478.56 313.82L480.64 317.30L482.73 320.88L484.81 324.57L486.89 328.36L488.98 332.26L491.06 336.26L493.15 340.36L493.57 341.19L493.98 342.03L494.40 342.87L494.82 343.72L495.24 344.57L495.65 345.42L496.07 346.28L496.49 347.14L496.90 348.01L497.32 348.88L497.74 349.75L498.15 350.63L498.57 351.51L498.99 352.40L499.40 353.29L499.82 354.19L500.24 355.09L500.66 355.99L501.07 356.90L501.49 357.81L501.91 358.73L502.32 359.65L502.74 360.57L503.16 361.50L503.57 362.43L503.99 363.37L504.41 364.31L504.83 365.25L505.24 366.20L505.66 367.16L506.08 368.12L506.49 369.08L506.91 370.04L507.33 371.01L507.75 371.99L508.16 372.97L508.58 373.95L509.00 374.94L509.41 375.93L509.83 376.92L510.25 377.92L510.66 378.92L511.08 379.93L511.50 380.94L511.91 381.96L511.97 382.09L512.02 382.21L512.07 382.34L512.12 382.47L512.18 382.60L512.23 382.72L512.28 382.85L512.33 382.98L512.38 383.11L512.44 383.23L512.49 383.36L512.54 383.49L512.59 383.62L512.64 383.75L512.70 383.87L512.75 384.00L512.80 384.13L512.85 384.26L512.91 384.39L512.96 384.52L513.01 384.64L513.06 384.77L513.11 384.90L513.17 385.03L513.22 385.16L513.27 385.29L513.32 385.42L513.37 385.55L513.43 385.68L513.48 385.80L513.53 385.93L513.58 386.06L513.64 386.19L513.69 386.32L513.74 386.45L513.79 386.58L513.84 386.71L513.90 386.84L513.95 386.97L514.00 387.10" stroke="#a3a3a3" stroke-width="0.75" />
<path d="M305.50 387.10L307.58 383.78L309.67 380.48L311.75 377.21L313.84 373.96L315.93 370.73L318.01 367.53L320.10 364.35L322.18 361.20L324.26 358.07L326.35 354.96L328.44 351.88L330.52 348.83L332.61 345.80L334.69 342.80L336.77 339.83L338.86 336.88L340.94 333.97L343.03 331.08L345.12 328.22L347.20 325.39L349.28 322.59L351.37 319.82L353.45 317.08L355.54 314.37L357.62 311.69L359.71 309.05L361.80 306.44L363.88 303.86L365.96 301.32L368.05 298.81L370.13 296.34L372.22 293.91L374.31 291.51L376.39 289.15L378.48 286.83L380.56 284.55L382.64 282.30L384.73 280.10L386.81 277.95L388.90 275.83L390.99 273.76L393.07 271.73L395.15 269.75L397.24 267.82L399.32 265.93L401.41 264.09L403.50 262.31L405.58 260.57L407.66 258.89L409.75 257.27L411.84 255.70L413.92 254.18L416.00 252.73L418.09 251.34L420.18 250.00L422.26 248.74L424.35 247.54L426.43 246.41L428.51 245.34L430.60 244.36L432.69 243.44L434.77 242.61L436.86 241.85L438.94 241.18L441.02 240.60L443.11 240.11L445.20 239.70L447.28 239.40L449.37 239.20L451.45 239.10L453.53 239.12L455.62 239.25L457.70 239.50L459.79 239.88L461.88 240.39L463.96 241.05L466.05 241.85L468.13 242.81L470.22 243.94L472.30 245.24L474.38 246.74L476.47 248.44L478.56 250.36L480.64 252.51L482.73 254.92L484.81 257.61L486.89 260.60L488.98 263.93L491.06 267.64L493.15 271.77L493.57 272.65L493.98 273.55L494.40 274.47L494.82 275.42L495.24 276.38L495.65 277.36L496.07 278.37L496.49 279.40L496.90 280.46L497.32 281.54L497.74 282.65L498.15 283.78L498.57 284.94L498.99 286.13L499.40 287.35L499.82 288.60L500.24 289.88L500.66 291.19L501.07 292.54L501.49 293.93L501.91 295.35L502.32 296.82L502.74 298.32L503.16 299.87L503.57 301.46L503.99 303.11L504.41 304.80L504.83 306.55L505.24 308.35L505.66 310.21L506.08 312.14L506.49 314.14L506.91 316.22L507.33 318.37L507.75 320.62L508.16 322.95L508.58 325.40L509.00 327.95L509.41 330.64L509.83 333.47L510.25 336.47L510.66 339.65L511.08 343.06L511.50 346.72L511.91 350.72L511.97 351.25L512.02 351.78L512.07 352.32L512.12 352.87L512.18 353.42L512.23 353.98L512.28 354.55L512.33 355.13L512.38 355.72L512.44 356.31L512.49 356.92L512.54 357.54L512.59 358.16L512.64 358.80L512.70 359.45L512.75 360.11L512.80 360.78L512.85 361.47L512.91 362.17L512.96 362.88L513.01 363.62L513.06 364.37L513.11 365.13L513.17 365.92L513.22 366.73L513.27 367.57L513.32 368.43L513.37 369.32L513.43 370.24L513.48 371.20L513.53 372.19L513.58 373.24L513.64 374.34L513.69 375.51L513.74 376.76L513.79 378.11L513.84 379.60L513.90 381.31L513.95 383.39L514.00 387.10" stroke="#1b61a2" stroke-width="1.40" />
</g>
<path d="M521.50 305.10H529.70" stroke="#2b97e6" stroke-width="1.00" fill="none"/>
<text transform="translate(531.20 306.72) scale(0.860 1)" font-size="4.50" fill="#1f1f1f" stroke="#1f1f1f" stroke-width="0.12" text-anchor="start" font-weight="bold">Exp.</text>
<path d="M521.50 313.93H529.70" stroke="#f47f2e" stroke-width="1.30" fill="none"/>
<text transform="translate(531.20 315.55) scale(0.860 1)" font-size="4.50" fill="#1f1f1f" stroke="#1f1f1f" stroke-width="0.12" text-anchor="start" font-weight="bold">F1</text>
<path d="M521.50 322.76H529.70" stroke="#a3a3a3" stroke-width="1.20" fill="none"/>
<text transform="translate(531.20 324.38) scale(0.860 1)" font-size="4.50" fill="#1f1f1f" stroke="#1f1f1f" stroke-width="0.12" text-anchor="start" font-weight="bold">F2</text>
<path d="M521.50 331.59H529.70" stroke="#1b61a2" stroke-width="1.20" fill="none"/>
<text transform="translate(531.20 333.21) scale(0.860 1)" font-size="4.50" fill="#1f1f1f" stroke="#1f1f1f" stroke-width="0.12" text-anchor="start" font-weight="bold">D3</text>
</g>
<g>
<rect x="7.6" y="424.2" width="257.1" height="189.8" fill="#fff" stroke="#e4e4e4" stroke-width="0.8"/>
<path d="M31.10 440.80V592.60H231.60" fill="none" stroke="#d4d4d4" stroke-width="0.65"/>
<text transform="translate(27.70 593.66) scale(1.040 1)" font-size="3.50" fill="#555555" text-anchor="end" font-weight="normal">0</text>
<text transform="translate(27.70 578.50) scale(1.040 1)" font-size="3.50" fill="#555555" text-anchor="end" font-weight="normal">0.2</text>
<text transform="translate(27.70 563.34) scale(1.040 1)" font-size="3.50" fill="#555555" text-anchor="end" font-weight="normal">0.4</text>
<text transform="translate(27.70 548.18) scale(1.040 1)" font-size="3.50" fill="#555555" text-anchor="end" font-weight="normal">0.6</text>
<text transform="translate(27.70 533.02) scale(1.040 1)" font-size="3.50" fill="#555555" text-anchor="end" font-weight="normal">0.8</text>
<text transform="translate(27.70 517.86) scale(1.040 1)" font-size="3.50" fill="#555555" text-anchor="end" font-weight="normal">1</text>
<text transform="translate(27.70 502.70) scale(1.040 1)" font-size="3.50" fill="#555555" text-anchor="end" font-weight="normal">1.2</text>
<text transform="translate(27.70 487.54) scale(1.040 1)" font-size="3.50" fill="#555555" text-anchor="end" font-weight="normal">1.4</text>
<text transform="translate(27.70 472.38) scale(1.040 1)" font-size="3.50" fill="#555555" text-anchor="end" font-weight="normal">1.6</text>
<text transform="translate(27.70 457.22) scale(1.040 1)" font-size="3.50" fill="#555555" text-anchor="end" font-weight="normal">1.8</text>
<text transform="translate(27.70 442.06) scale(1.040 1)" font-size="3.50" fill="#555555" text-anchor="end" font-weight="normal">2</text>
<text transform="translate(31.90 599.54) scale(1.040 1)" font-size="3.45" fill="#555555" text-anchor="middle" font-weight="normal">0.000</text>
<text transform="translate(51.87 599.54) scale(1.040 1)" font-size="3.45" fill="#555555" text-anchor="middle" font-weight="normal">0.100</text>
<text transform="translate(71.84 599.54) scale(1.040 1)" font-size="3.45" fill="#555555" text-anchor="middle" font-weight="normal">0.200</text>
<text transform="translate(91.81 599.54) scale(1.040 1)" font-size="3.45" fill="#555555" text-anchor="middle" font-weight="normal">0.300</text>
<text transform="translate(111.78 599.54) scale(1.040 1)" font-size="3.45" fill="#555555" text-anchor="middle" font-weight="normal">0.400</text>
<text transform="translate(131.75 599.54) scale(1.040 1)" font-size="3.45" fill="#555555" text-anchor="middle" font-weight="normal">0.500</text>
<text transform="translate(151.72 599.54) scale(1.040 1)" font-size="3.45" fill="#555555" text-anchor="middle" font-weight="normal">0.600</text>
<text transform="translate(171.69 599.54) scale(1.040 1)" font-size="3.45" fill="#555555" text-anchor="middle" font-weight="normal">0.700</text>
<text transform="translate(191.66 599.54) scale(1.040 1)" font-size="3.45" fill="#555555" text-anchor="middle" font-weight="normal">0.800</text>
<text transform="translate(211.63 599.54) scale(1.040 1)" font-size="3.45" fill="#555555" text-anchor="middle" font-weight="normal">0.900</text>
<text transform="translate(231.60 599.54) scale(1.040 1)" font-size="3.45" fill="#555555" text-anchor="middle" font-weight="normal">1.000</text>
<text transform="translate(136.50 433.60) scale(1.080 1)" font-size="6.20" fill="#444444" text-anchor="middle" font-weight="normal">(e)</text>
<text transform="translate(131.80 608.40) scale(0.905 1)" font-size="6.30" fill="#1a1a1a" stroke="#1a1a1a" stroke-width="0.18" text-anchor="middle" font-weight="bold">Conversion (%)</text>
<text transform="translate(19.40 517.00) rotate(-90) scale(1.050 1)" font-size="6.30" fill="#1a1a1a" stroke="#1a1a1a" stroke-width="0.18" text-anchor="middle" font-weight="bold">Z(α)/Z(0.5)</text>
<g fill="none" stroke-linejoin="round" stroke-linecap="round">
<path d="M31.90 592.40L32.46 592.40L33.01 592.40L33.57 592.40L34.13 592.21L34.68 591.82L35.24 591.37L35.79 590.71L36.35 589.85L36.91 588.90L37.46 587.94L38.02 586.95L38.58 585.88L39.13 584.59L39.69 583.75L40.24 582.41L40.80 580.94L41.36 579.61L41.91 578.87L42.47 577.27L43.03 576.24L43.58 574.95L44.14 573.68L44.69 572.33L45.25 570.83L45.81 569.58L46.36 568.40L46.92 567.19L47.48 565.87L48.03 564.61L48.59 563.19L49.14 562.15L49.70 560.84L50.26 559.70L50.81 558.58L51.37 557.45L51.93 556.40L52.48 555.23L53.04 554.50L53.59 553.39L54.15 552.89L54.71 552.20L55.26 551.43L55.82 550.72L56.38 550.06L56.93 549.21L57.49 548.52L58.04 547.90L58.60 547.31L59.16 546.56L59.71 545.62L60.27 545.10L60.83 544.64L61.38 543.85L61.94 543.14L62.49 542.20L63.05 541.72L63.61 540.70L64.16 540.29L64.72 539.72L65.28 539.16L65.83 538.31L66.39 537.87L66.94 537.34L67.50 536.53L68.06 536.02L68.61 535.26L69.17 534.87L69.73 534.72L70.28 533.60L70.84 533.44L71.39 532.37L71.95 531.79L72.51 531.60L73.06 531.18L73.62 530.71L74.18 529.86L74.73 529.53L75.29 529.10L75.85 528.57L76.40 527.74L76.96 527.54L77.51 527.02L78.07 526.56L78.63 526.09L79.18 525.66L79.74 525.52L80.30 525.05L80.85 524.75L81.41 524.38L81.96 523.75L82.52 523.66L83.08 523.27L83.63 523.05L84.19 522.72L84.75 522.20L85.30 522.08L85.86 521.78L86.41 521.31L86.97 520.99L87.53 520.62L88.08 520.37L88.64 520.31L89.20 519.60L89.75 519.26L90.31 518.83L90.86 518.77L91.42 517.91L91.98 518.15L92.53 517.53L93.09 517.34L93.65 517.13L94.20 516.67L94.76 516.57L95.31 516.61L95.87 516.18L96.43 515.68L96.98 515.17L97.54 515.51L98.10 515.07L98.65 514.65L99.21 514.59L99.76 514.57L100.32 514.59L100.88 514.52L101.43 514.27L101.99 514.12L102.55 514.31L103.10 514.13L103.66 513.71L104.21 513.65L104.77 513.46L105.33 513.14L105.88 512.97L106.44 512.55L107.00 512.41L107.55 512.34L108.11 512.55L108.66 512.55L109.22 512.41L109.78 512.17L110.33 511.93L110.89 511.75L111.45 512.02L112.00 512.30L112.56 512.14L113.12 512.55L113.67 512.96L114.23 513.38L114.78 513.41L115.34 512.81L115.90 512.76L116.45 512.83L117.01 512.45L117.57 512.38L118.12 512.50L118.68 512.57L119.23 513.26L119.79 513.61L120.35 513.44L120.90 513.55L121.46 513.39L122.02 513.46L122.57 513.53L123.13 513.82L123.68 513.87L124.24 514.22L124.80 514.26L125.35 514.59L125.91 514.93L126.47 514.91L127.02 515.30L127.58 515.17L128.13 515.49L128.69 515.64L129.25 515.85L129.80 516.02L130.36 516.53L130.92 516.15L131.47 516.63L132.03 516.56L132.58 517.02L133.14 517.18L133.70 517.44L134.25 517.82L134.81 517.96L135.37 518.12L135.92 518.51L136.48 518.88L137.03 519.00L137.59 519.07L138.15 519.11L138.70 519.34L139.26 519.64L139.82 520.07L140.37 520.03L140.93 520.43L141.48 520.75L142.04 520.86L142.60 521.19L143.15 521.51L143.71 522.05L144.27 522.26L144.82 522.72L145.38 522.71L145.93 523.02L146.49 523.17L147.05 523.58L147.60 523.97L148.16 523.89L148.72 524.67L149.27 525.01L149.83 525.18L150.38 525.28L150.94 525.67L151.50 525.91L152.05 526.22L152.61 526.01L153.17 526.47L153.72 526.67L154.28 526.66L154.84 526.90L155.39 526.98L155.95 526.95L156.50 527.50L157.06 527.76L157.62 528.16L158.17 528.48L158.73 528.66L159.29 529.02L159.84 529.48L160.40 529.89L160.95 530.09L161.51 530.27L162.07 530.73L162.62 531.08L163.18 531.67L163.74 531.58L164.29 532.31L164.85 532.63L165.40 532.85L165.96 533.15L166.52 533.52L167.07 534.02L167.63 534.33L168.19 534.77L168.74 535.34L169.30 535.50L169.85 535.97L170.41 536.21L170.97 536.70L171.52 536.94L172.08 537.40L172.64 537.78L173.19 538.15L173.75 538.65L174.30 539.20L174.86 539.40L175.42 540.18L175.97 540.50L176.53 540.82L177.09 541.46L177.64 541.80L178.20 542.53L178.75 543.00L179.31 543.35L179.87 543.87L180.42 544.35L180.98 545.13L181.54 545.69L182.09 546.28L182.65 547.00L183.20 548.05L183.76 548.80L184.32 549.36L184.87 550.59L185.43 551.10L185.99 552.04L186.54 552.60L187.10 553.64L187.65 554.29L188.21 555.39L188.77 555.89L189.32 556.55L189.88 557.80L190.44 558.28L190.99 559.49L191.55 560.32L192.11 561.66L192.66 562.00L193.22 563.19L193.77 564.01L194.33 564.99L194.89 565.82L195.44 566.36L196.00 567.45L196.56 568.04L197.11 568.95L197.67 569.55L198.22 570.32L198.78 570.81L199.34 571.09L199.89 571.95L200.45 572.48L201.01 573.09L201.56 573.25L202.12 573.51L202.67 574.24L203.23 574.42L203.79 574.09L204.34 574.49L204.90 574.67L205.46 574.75L206.01 574.87L206.57 575.22L207.12 575.75L207.68 575.83L208.24 576.77L208.79 577.52L209.35 577.75L209.91 577.84L210.46 577.80L211.02 577.03L211.57 576.31L212.13 576.41L212.69 575.68L213.24 575.22L213.80 575.18L214.36 575.28L214.91 575.12L215.47 574.61L216.02 574.61L216.58 574.59L217.14 574.28L217.69 574.71L218.25 574.68L218.81 574.97L219.36 575.41L219.92 576.36L220.47 577.14L221.03 577.55L221.59 578.67L222.14 579.22L222.70 580.21L223.26 580.82L223.81 581.53L224.37 582.51L224.92 582.84L225.48 583.78L226.04 584.30L226.59 585.33L227.15 585.74L227.71 586.17L228.26 587.08L228.82 587.73L229.37 588.07L229.93 588.71L230.49 589.50L231.04 590.43L231.60 591.49" stroke="#2b97e6" stroke-width="1.25" />
<path d="M232.50 592.40L232.50 592.40" stroke="#4fabea" stroke-width="0.90" />
<path d="M31.90 592.40L33.90 590.22L35.89 588.07L37.89 585.94L39.89 583.83L41.88 581.74L43.88 579.68L45.88 577.64L47.88 575.62L49.87 573.63L51.87 571.66L53.87 569.72L55.86 567.80L57.86 565.90L59.86 564.03L61.85 562.19L63.85 560.37L65.85 558.58L67.85 556.81L69.84 555.07L71.84 553.36L73.84 551.67L75.83 550.01L77.83 548.38L79.83 546.78L81.82 545.21L83.82 543.67L85.82 542.15L87.82 540.67L89.81 539.22L91.81 537.79L93.81 536.40L95.80 535.04L97.80 533.72L99.80 532.42L101.79 531.16L103.79 529.93L105.79 528.74L107.79 527.58L109.78 526.45L111.78 525.37L113.78 524.31L115.77 523.30L117.77 522.32L119.77 521.38L121.76 520.49L123.76 519.63L125.76 518.81L127.76 518.03L129.75 517.29L131.75 516.60L133.75 515.95L135.74 515.35L137.74 514.79L139.74 514.28L141.74 513.81L143.73 513.39L145.73 513.03L147.73 512.71L149.72 512.45L151.72 512.24L153.72 512.08L155.71 511.98L157.71 511.94L159.71 511.96L161.71 512.04L163.70 512.18L165.70 512.38L167.70 512.65L169.69 512.99L171.69 513.40L173.69 513.89L175.68 514.44L177.68 515.08L179.68 515.80L181.67 516.60L183.67 517.49L185.67 518.47L187.67 519.55L189.66 520.72L191.66 522.00L193.66 523.39L195.65 524.89L197.65 526.52L199.65 528.27L201.64 530.16L203.64 532.20L205.64 534.39L207.64 536.75L209.63 539.30L211.63 542.04L212.03 542.61L212.43 543.20L212.83 543.79L213.23 544.39L213.63 545.00L214.03 545.62L214.43 546.25L214.83 546.89L215.22 547.55L215.62 548.21L216.02 548.88L216.42 549.56L216.82 550.26L217.22 550.97L217.62 551.69L218.02 552.42L218.42 553.16L218.82 553.92L219.22 554.69L219.62 555.48L220.02 556.28L220.42 557.10L220.82 557.93L221.22 558.78L221.61 559.64L222.01 560.52L222.41 561.42L222.81 562.34L223.21 563.28L223.61 564.24L224.01 565.22L224.41 566.23L224.81 567.26L225.21 568.31L225.61 569.39L226.01 570.50L226.41 571.65L226.81 572.82L227.21 574.04L227.61 575.29L228.01 576.58L228.40 577.93L228.80 579.33L229.20 580.79L229.60 582.33L229.65 582.53L229.70 582.72L229.75 582.93L229.80 583.13L229.85 583.33L229.90 583.54L229.95 583.74L230.00 583.95L230.05 584.16L230.10 584.37L230.15 584.59L230.20 584.80L230.25 585.02L230.30 585.24L230.35 585.46L230.40 585.69L230.45 585.91L230.50 586.14L230.55 586.37L230.60 586.61L230.65 586.84L230.70 587.08L230.75 587.32L230.80 587.57L230.85 587.82L230.90 588.07L230.95 588.33L231.00 588.59L231.05 588.85L231.10 589.12L231.15 589.40L231.20 589.68L231.25 589.97L231.30 590.27L231.35 590.57L231.40 590.89L231.45 591.22L231.50 591.57L231.55 591.95L231.60 592.40" stroke="#f47f2e" stroke-width="0.33" />
<path d="M31.90 592.40L33.90 589.40L35.89 586.46L37.89 583.58L39.89 580.76L41.88 578.00L43.88 575.30L45.88 572.66L47.88 570.08L49.87 567.57L51.87 565.11L53.87 562.72L55.86 560.38L57.86 558.11L59.86 555.89L61.85 553.74L63.85 551.65L65.85 549.62L67.85 547.65L69.84 545.74L71.84 543.89L73.84 542.10L75.83 540.37L77.83 538.70L79.83 537.10L81.82 535.55L83.82 534.06L85.82 532.64L87.82 531.27L89.81 529.97L91.81 528.73L93.81 527.55L95.80 526.42L97.80 525.36L99.80 524.36L101.79 523.42L103.79 522.54L105.79 521.72L107.79 520.97L109.78 520.27L111.78 519.63L113.78 519.06L115.77 518.54L117.77 518.09L119.77 517.69L121.76 517.36L123.76 517.09L125.76 516.87L127.76 516.72L129.75 516.63L131.75 516.60L133.75 516.63L135.74 516.72L137.74 516.87L139.74 517.09L141.74 517.36L143.73 517.69L145.73 518.09L147.73 518.54L149.72 519.06L151.72 519.63L153.72 520.27L155.71 520.97L157.71 521.72L159.71 522.54L161.71 523.42L163.70 524.36L165.70 525.36L167.70 526.42L169.69 527.55L171.69 528.73L173.69 529.97L175.68 531.27L177.68 532.64L179.68 534.06L181.67 535.55L183.67 537.10L185.67 538.70L187.67 540.37L189.66 542.10L191.66 543.89L193.66 545.74L195.65 547.65L197.65 549.62L199.65 551.65L201.64 553.74L203.64 555.89L205.64 558.11L207.64 560.38L209.63 562.72L211.63 565.11L212.03 565.60L212.43 566.09L212.83 566.58L213.23 567.07L213.63 567.57L214.03 568.07L214.43 568.57L214.83 569.07L215.22 569.58L215.62 570.08L216.02 570.60L216.42 571.11L216.82 571.62L217.22 572.14L217.62 572.66L218.02 573.18L218.42 573.71L218.82 574.24L219.22 574.77L219.62 575.30L220.02 575.83L220.42 576.37L220.82 576.91L221.22 577.45L221.61 578.00L222.01 578.54L222.41 579.09L222.81 579.65L223.21 580.20L223.61 580.76L224.01 581.32L224.41 581.88L224.81 582.44L225.21 583.01L225.61 583.58L226.01 584.15L226.41 584.72L226.81 585.30L227.21 585.88L227.61 586.46L228.01 587.04L228.40 587.63L228.80 588.21L229.20 588.81L229.60 589.40L229.65 589.47L229.70 589.55L229.75 589.62L229.80 589.70L229.85 589.77L229.90 589.84L229.95 589.92L230.00 589.99L230.05 590.07L230.10 590.14L230.15 590.22L230.20 590.29L230.25 590.37L230.30 590.44L230.35 590.52L230.40 590.59L230.45 590.67L230.50 590.74L230.55 590.82L230.60 590.89L230.65 590.97L230.70 591.04L230.75 591.12L230.80 591.19L230.85 591.27L230.90 591.34L230.95 591.42L231.00 591.49L231.05 591.57L231.10 591.64L231.15 591.72L231.20 591.79L231.25 591.87L231.30 591.95L231.35 592.02L231.40 592.10L231.45 592.17L231.50 592.25L231.55 592.32L231.60 592.40" stroke="#a3a3a3" stroke-width="1.05" />
<path d="M31.90 592.40L33.90 588.42L35.89 584.56L37.89 580.81L39.89 577.19L41.88 573.68L43.88 570.28L45.88 567.00L47.88 563.84L49.87 560.78L51.87 557.84L53.87 555.00L55.86 552.27L57.86 549.65L59.86 547.13L61.85 544.72L63.85 542.41L65.85 540.21L67.85 538.10L69.84 536.09L71.84 534.19L73.84 532.37L75.83 530.66L77.83 529.04L79.83 527.51L81.82 526.08L83.82 524.73L85.82 523.48L87.82 522.31L89.81 521.23L91.81 520.24L93.81 519.33L95.80 518.51L97.80 517.76L99.80 517.10L101.79 516.52L103.79 516.02L105.79 515.60L107.79 515.25L109.78 514.98L111.78 514.78L113.78 514.66L115.77 514.60L117.77 514.62L119.77 514.70L121.76 514.86L123.76 515.08L125.76 515.36L127.76 515.71L129.75 516.13L131.75 516.60L133.75 517.14L135.74 517.73L137.74 518.38L139.74 519.09L141.74 519.86L143.73 520.68L145.73 521.55L147.73 522.48L149.72 523.46L151.72 524.48L153.72 525.56L155.71 526.68L157.71 527.85L159.71 529.06L161.71 530.32L163.70 531.62L165.70 532.96L167.70 534.34L169.69 535.76L171.69 537.22L173.69 538.71L175.68 540.24L177.68 541.80L179.68 543.40L181.67 545.02L183.67 546.68L185.67 548.37L187.67 550.08L189.66 551.82L191.66 553.59L193.66 555.38L195.65 557.19L197.65 559.03L199.65 560.89L201.64 562.76L203.64 564.66L205.64 566.57L207.64 568.49L209.63 570.43L211.63 572.39L212.03 572.78L212.43 573.17L212.83 573.57L213.23 573.96L213.63 574.36L214.03 574.75L214.43 575.15L214.83 575.54L215.22 575.94L215.62 576.33L216.02 576.73L216.42 577.13L216.82 577.52L217.22 577.92L217.62 578.32L218.02 578.72L218.42 579.12L218.82 579.52L219.22 579.92L219.62 580.32L220.02 580.72L220.42 581.12L220.82 581.52L221.22 581.92L221.61 582.32L222.01 582.72L222.41 583.12L222.81 583.52L223.21 583.93L223.61 584.33L224.01 584.73L224.41 585.13L224.81 585.54L225.21 585.94L225.61 586.34L226.01 586.74L226.41 587.15L226.81 587.55L227.21 587.96L227.61 588.36L228.01 588.76L228.40 589.17L228.80 589.57L229.20 589.97L229.60 590.38L229.65 590.43L229.70 590.48L229.75 590.53L229.80 590.58L229.85 590.63L229.90 590.68L229.95 590.73L230.00 590.78L230.05 590.83L230.10 590.88L230.15 590.93L230.20 590.99L230.25 591.04L230.30 591.09L230.35 591.14L230.40 591.19L230.45 591.24L230.50 591.29L230.55 591.34L230.60 591.39L230.65 591.44L230.70 591.49L230.75 591.54L230.80 591.59L230.85 591.64L230.90 591.69L230.95 591.74L231.00 591.79L231.05 591.84L231.10 591.89L231.15 591.95L231.20 592.00L231.25 592.05L231.30 592.10L231.35 592.15L231.40 592.20L231.45 592.25L231.50 592.30L231.55 592.35L231.60 592.40" stroke="#ffc000" stroke-width="1.20" />
<path d="M31.90 592.40L33.90 590.88L35.89 589.37L37.89 587.85L39.89 586.34L41.88 584.82L43.88 583.30L45.88 581.79L47.88 580.27L49.87 578.76L51.87 577.24L53.87 575.72L55.86 574.21L57.86 572.69L59.86 571.18L61.85 569.66L63.85 568.14L65.85 566.63L67.85 565.11L69.84 563.60L71.84 562.08L73.84 560.56L75.83 559.05L77.83 557.53L79.83 556.02L81.82 554.50L83.82 552.98L85.82 551.47L87.82 549.95L89.81 548.44L91.81 546.92L93.81 545.40L95.80 543.89L97.80 542.37L99.80 540.86L101.79 539.34L103.79 537.82L105.79 536.31L107.79 534.79L109.78 533.28L111.78 531.76L113.78 530.24L115.77 528.73L117.77 527.21L119.77 525.70L121.76 524.18L123.76 522.66L125.76 521.15L127.76 519.63L129.75 518.12L131.75 516.60L133.75 515.08L135.74 513.57L137.74 512.05L139.74 510.54L141.74 509.02L143.73 507.50L145.73 505.99L147.73 504.47L149.72 502.96L151.72 501.44L153.72 499.92L155.71 498.41L157.71 496.89L159.71 495.38L161.71 493.86L163.70 492.34L165.70 490.83L167.70 489.31L169.69 487.80L171.69 486.28L173.69 484.76L175.68 483.25L177.68 481.73L179.68 480.22L181.67 478.70L183.67 477.18L185.67 475.67L187.67 474.15L189.66 472.64L191.66 471.12L193.66 469.60L195.65 468.09L197.65 466.57L199.65 465.06L201.64 463.54L203.64 462.02L205.64 460.51L207.64 458.99L209.63 457.48L211.63 455.96L212.03 455.66L212.43 455.35L212.83 455.05L213.23 454.75L213.63 454.44L214.03 454.14L214.43 453.84L214.83 453.53L215.22 453.23L215.62 452.93L216.02 452.62L216.42 452.32L216.82 452.02L217.22 451.72L217.62 451.41L218.02 451.11L218.42 450.81L218.82 450.50L219.22 450.20L219.62 449.90L220.02 449.59L220.42 449.29L220.82 448.99L221.22 448.68L221.61 448.38L222.01 448.08L222.41 447.77L222.81 447.47L223.21 447.17L223.61 446.86L224.01 446.56L224.41 446.26L224.81 445.95L225.21 445.65L225.61 445.35L226.01 445.04L226.41 444.74L226.81 444.44L227.21 444.14L227.61 443.83L228.01 443.53L228.40 443.23L228.80 442.92L229.20 442.62L229.60 442.32L229.65 442.28L229.70 442.24L229.75 442.20L229.80 442.16L229.85 442.13L229.90 442.09L229.95 442.05L230.00 442.01L230.05 441.97L230.10 441.94L230.15 441.90L230.20 441.86L230.25 441.82L230.30 441.79L230.35 441.75L230.40 441.71L230.45 441.67L230.50 441.63L230.55 441.60L230.60 441.56L230.65 441.52L230.70 441.48L230.75 441.44L230.80 441.41L230.85 441.37L230.90 441.33L230.95 441.29L231.00 441.25L231.05 441.22L231.10 441.18L231.15 441.14L231.20 441.10L231.25 441.07L231.30 441.03L231.35 440.99L231.40 440.95L231.45 440.91L231.50 440.88L231.55 440.84L231.60 440.80" stroke="#3d8ee6" stroke-width="0.33" />
<path d="M31.90 592.40L33.90 590.69L35.89 588.99L37.89 587.29L39.89 585.60L41.88 583.91L43.88 582.23L45.88 580.56L47.88 578.89L49.87 577.23L51.87 575.58L53.87 573.93L55.86 572.29L57.86 570.66L59.86 569.03L61.85 567.41L63.85 565.80L65.85 564.20L67.85 562.60L69.84 561.01L71.84 559.43L73.84 557.85L75.83 556.29L77.83 554.73L79.83 553.18L81.82 551.64L83.82 550.11L85.82 548.59L87.82 547.08L89.81 545.57L91.81 544.08L93.81 542.60L95.80 541.12L97.80 539.66L99.80 538.20L101.79 536.76L103.79 535.33L105.79 533.91L107.79 532.50L109.78 531.10L111.78 529.72L113.78 528.34L115.77 526.98L117.77 525.64L119.77 524.30L121.76 522.98L123.76 521.68L125.76 520.38L127.76 519.11L129.75 517.85L131.75 516.60L133.75 515.37L135.74 514.16L137.74 512.96L139.74 511.79L141.74 510.63L143.73 509.49L145.73 508.37L147.73 507.27L149.72 506.20L151.72 505.14L153.72 504.11L155.71 503.10L157.71 502.12L159.71 501.16L161.71 500.23L163.70 499.33L165.70 498.46L167.70 497.62L169.69 496.81L171.69 496.03L173.69 495.29L175.68 494.59L177.68 493.93L179.68 493.32L181.67 492.74L183.67 492.22L185.67 491.75L187.67 491.33L189.66 490.97L191.66 490.67L193.66 490.44L195.65 490.29L197.65 490.21L199.65 490.22L201.64 490.33L203.64 490.55L205.64 490.89L207.64 491.36L209.63 491.99L211.63 492.79L212.03 492.98L212.43 493.17L212.83 493.37L213.23 493.58L213.63 493.80L214.03 494.03L214.43 494.27L214.83 494.53L215.22 494.79L215.62 495.06L216.02 495.34L216.42 495.64L216.82 495.95L217.22 496.27L217.62 496.61L218.02 496.96L218.42 497.33L218.82 497.71L219.22 498.11L219.62 498.53L220.02 498.97L220.42 499.42L220.82 499.90L221.22 500.40L221.61 500.93L222.01 501.48L222.41 502.05L222.81 502.66L223.21 503.30L223.61 503.97L224.01 504.67L224.41 505.42L224.81 506.21L225.21 507.05L225.61 507.94L226.01 508.90L226.41 509.91L226.81 511.01L227.21 512.19L227.61 513.46L228.01 514.86L228.40 516.39L228.80 518.09L229.20 520.01L229.60 522.21L229.65 522.51L229.70 522.81L229.75 523.12L229.80 523.44L229.85 523.76L229.90 524.09L229.95 524.43L230.00 524.78L230.05 525.14L230.10 525.50L230.15 525.88L230.20 526.26L230.25 526.66L230.30 527.07L230.35 527.49L230.40 527.92L230.45 528.37L230.50 528.83L230.55 529.31L230.60 529.80L230.65 530.32L230.70 530.85L230.75 531.41L230.80 532.00L230.85 532.61L230.90 533.25L230.95 533.93L231.00 534.65L231.05 535.42L231.10 536.24L231.15 537.13L231.20 538.09L231.25 539.15L231.30 540.33L231.35 541.66L231.40 543.22L231.45 545.10L231.50 547.54L231.55 551.21L231.60 580.01" stroke="#55bd4e" stroke-width="1.15" />
<path d="M31.90 592.40L33.90 590.46L35.89 588.54L37.89 586.63L39.89 584.73L41.88 582.84L43.88 580.97L45.88 579.12L47.88 577.28L49.87 575.45L51.87 573.64L53.87 571.84L55.86 570.06L57.86 568.29L59.86 566.54L61.85 564.80L63.85 563.08L65.85 561.38L67.85 559.69L69.84 558.02L71.84 556.37L73.84 554.73L75.83 553.12L77.83 551.52L79.83 549.94L81.82 548.37L83.82 546.83L85.82 545.31L87.82 543.80L89.81 542.32L91.81 540.86L93.81 539.41L95.80 537.99L97.80 536.59L99.80 535.21L101.79 533.86L103.79 532.53L105.79 531.22L107.79 529.93L109.78 528.67L111.78 527.44L113.78 526.23L115.77 525.05L117.77 523.89L119.77 522.76L121.76 521.66L123.76 520.59L125.76 519.54L127.76 518.53L129.75 517.55L131.75 516.60L133.75 515.68L135.74 514.80L137.74 513.95L139.74 513.14L141.74 512.36L143.73 511.62L145.73 510.92L147.73 510.26L149.72 509.64L151.72 509.06L153.72 508.53L155.71 508.04L157.71 507.60L159.71 507.21L161.71 506.87L163.70 506.58L165.70 506.35L167.70 506.17L169.69 506.05L171.69 506.00L173.69 506.01L175.68 506.08L177.68 506.23L179.68 506.45L181.67 506.75L183.67 507.13L185.67 507.60L187.67 508.16L189.66 508.82L191.66 509.58L193.66 510.45L195.65 511.45L197.65 512.57L199.65 513.82L201.64 515.23L203.64 516.80L205.64 518.55L207.64 520.49L209.63 522.66L211.63 525.07L212.03 525.58L212.43 526.11L212.83 526.65L213.23 527.20L213.63 527.76L214.03 528.33L214.43 528.92L214.83 529.52L215.22 530.14L215.62 530.77L216.02 531.42L216.42 532.08L216.82 532.76L217.22 533.45L217.62 534.16L218.02 534.89L218.42 535.64L218.82 536.41L219.22 537.20L219.62 538.00L220.02 538.84L220.42 539.69L220.82 540.57L221.22 541.47L221.61 542.40L222.01 543.36L222.41 544.35L222.81 545.37L223.21 546.42L223.61 547.51L224.01 548.64L224.41 549.81L224.81 551.02L225.21 552.28L225.61 553.59L226.01 554.95L226.41 556.38L226.81 557.87L227.21 559.44L227.61 561.09L228.01 562.84L228.40 564.70L228.80 566.69L229.20 568.83L229.60 571.16L229.65 571.47L229.70 571.78L229.75 572.09L229.80 572.41L229.85 572.74L229.90 573.07L229.95 573.40L230.00 573.74L230.05 574.08L230.10 574.43L230.15 574.78L230.20 575.14L230.25 575.51L230.30 575.88L230.35 576.26L230.40 576.64L230.45 577.03L230.50 577.43L230.55 577.84L230.60 578.26L230.65 578.69L230.70 579.13L230.75 579.58L230.80 580.04L230.85 580.51L230.90 581.00L230.95 581.50L231.00 582.02L231.05 582.56L231.10 583.11L231.15 583.70L231.20 584.31L231.25 584.95L231.30 585.63L231.35 586.36L231.40 587.15L231.45 588.02L231.50 589.02L231.55 590.23L231.60 592.40" stroke="#1b61a2" stroke-width="1.25" />
<path d="M31.90 592.40L33.90 590.22L35.89 588.07L37.89 585.94L39.89 583.83L41.88 581.74L43.88 579.68L45.88 577.64L47.88 575.62L49.87 573.63L51.87 571.66L53.87 569.72L55.86 567.80L57.86 565.90L59.86 564.03L61.85 562.19L63.85 560.37L65.85 558.58L67.85 556.81L69.84 555.07L71.84 553.36L73.84 551.67L75.83 550.01L77.83 548.38L79.83 546.78L81.82 545.21L83.82 543.67L85.82 542.15L87.82 540.67L89.81 539.22L91.81 537.79L93.81 536.40L95.80 535.04L97.80 533.72L99.80 532.42L101.79 531.16L103.79 529.93L105.79 528.74L107.79 527.58L109.78 526.45L111.78 525.37L113.78 524.31L115.77 523.30L117.77 522.32L119.77 521.38L121.76 520.49L123.76 519.63L125.76 518.81L127.76 518.03L129.75 517.29L131.75 516.60L133.75 515.95L135.74 515.35L137.74 514.79L139.74 514.28L141.74 513.81L143.73 513.39L145.73 513.03L147.73 512.71L149.72 512.45L151.72 512.24L153.72 512.08L155.71 511.98L157.71 511.94L159.71 511.96L161.71 512.04L163.70 512.18L165.70 512.38L167.70 512.65L169.69 512.99L171.69 513.40L173.69 513.89L175.68 514.44L177.68 515.08L179.68 515.80L181.67 516.60L183.67 517.49L185.67 518.47L187.67 519.55L189.66 520.72L191.66 522.00L193.66 523.39L195.65 524.89L197.65 526.52L199.65 528.27L201.64 530.16L203.64 532.20L205.64 534.39L207.64 536.75L209.63 539.30L211.63 542.04L212.03 542.61L212.43 543.20L212.83 543.79L213.23 544.39L213.63 545.00L214.03 545.62L214.43 546.25L214.83 546.89L215.22 547.55L215.62 548.21L216.02 548.88L216.42 549.56L216.82 550.26L217.22 550.97L217.62 551.69L218.02 552.42L218.42 553.16L218.82 553.92L219.22 554.69L219.62 555.48L220.02 556.28L220.42 557.10L220.82 557.93L221.22 558.78L221.61 559.64L222.01 560.52L222.41 561.42L222.81 562.34L223.21 563.28L223.61 564.24L224.01 565.22L224.41 566.23L224.81 567.26L225.21 568.31L225.61 569.39L226.01 570.50L226.41 571.65L226.81 572.82L227.21 574.04L227.61 575.29L228.01 576.58L228.40 577.93L228.80 579.33L229.20 580.79L229.60 582.33L229.65 582.53L229.70 582.72L229.75 582.93L229.80 583.13L229.85 583.33L229.90 583.54L229.95 583.74L230.00 583.95L230.05 584.16L230.10 584.37L230.15 584.59L230.20 584.80L230.25 585.02L230.30 585.24L230.35 585.46L230.40 585.69L230.45 585.91L230.50 586.14L230.55 586.37L230.60 586.61L230.65 586.84L230.70 587.08L230.75 587.32L230.80 587.57L230.85 587.82L230.90 588.07L230.95 588.33L231.00 588.59L231.05 588.85L231.10 589.12L231.15 589.40L231.20 589.68L231.25 589.97L231.30 590.27L231.35 590.57L231.40 590.89L231.45 591.22L231.50 591.57L231.55 591.95L231.60 592.40" stroke="#e47c3a" stroke-width="0.33" />
<path d="M31.90 592.40L33.90 590.22L35.89 588.07L37.89 585.94L39.89 583.83L41.88 581.74L43.88 579.68L45.88 577.64L47.88 575.62L49.87 573.63L51.87 571.66L53.87 569.72L55.86 567.80L57.86 565.90L59.86 564.03L61.85 562.19L63.85 560.37L65.85 558.58L67.85 556.81L69.84 555.07L71.84 553.36L73.84 551.67L75.83 550.01L77.83 548.38L79.83 546.78L81.82 545.21L83.82 543.67L85.82 542.15L87.82 540.67L89.81 539.22L91.81 537.79L93.81 536.40L95.80 535.04L97.80 533.72L99.80 532.42L101.79 531.16L103.79 529.93L105.79 528.74L107.79 527.58L109.78 526.45L111.78 525.37L113.78 524.31L115.77 523.30L117.77 522.32L119.77 521.38L121.76 520.49L123.76 519.63L125.76 518.81L127.76 518.03L129.75 517.29L131.75 516.60L133.75 515.95L135.74 515.35L137.74 514.79L139.74 514.28L141.74 513.81L143.73 513.39L145.73 513.03L147.73 512.71L149.72 512.45L151.72 512.24L153.72 512.08L155.71 511.98L157.71 511.94L159.71 511.96L161.71 512.04L163.70 512.18L165.70 512.38L167.70 512.65L169.69 512.99L171.69 513.40L173.69 513.89L175.68 514.44L177.68 515.08L179.68 515.80L181.67 516.60L183.67 517.49L185.67 518.47L187.67 519.55L189.66 520.72L191.66 522.00L193.66 523.39L195.65 524.89L197.65 526.52L199.65 528.27L201.64 530.16L203.64 532.20L205.64 534.39L207.64 536.75L209.63 539.30L211.63 542.04L212.03 542.61L212.43 543.20L212.83 543.79L213.23 544.39L213.63 545.00L214.03 545.62L214.43 546.25L214.83 546.89L215.22 547.55L215.62 548.21L216.02 548.88L216.42 549.56L216.82 550.26L217.22 550.97L217.62 551.69L218.02 552.42L218.42 553.16L218.82 553.92L219.22 554.69L219.62 555.48L220.02 556.28L220.42 557.10L220.82 557.93L221.22 558.78L221.61 559.64L222.01 560.52L222.41 561.42L222.81 562.34L223.21 563.28L223.61 564.24L224.01 565.22L224.41 566.23L224.81 567.26L225.21 568.31L225.61 569.39L226.01 570.50L226.41 571.65L226.81 572.82L227.21 574.04L227.61 575.29L228.01 576.58L228.40 577.93L228.80 579.33L229.20 580.79L229.60 582.33L229.65 582.53L229.70 582.72L229.75 582.93L229.80 583.13L229.85 583.33L229.90 583.54L229.95 583.74L230.00 583.95L230.05 584.16L230.10 584.37L230.15 584.59L230.20 584.80L230.25 585.02L230.30 585.24L230.35 585.46L230.40 585.69L230.45 585.91L230.50 586.14L230.55 586.37L230.60 586.61L230.65 586.84L230.70 587.08L230.75 587.32L230.80 587.57L230.85 587.82L230.90 588.07L230.95 588.33L231.00 588.59L231.05 588.85L231.10 589.12L231.15 589.40L231.20 589.68L231.25 589.97L231.30 590.27L231.35 590.57L231.40 590.89L231.45 591.22L231.50 591.57L231.55 591.95L231.60 592.40" stroke="#a0a0a0" stroke-width="0.33" />
<path d="M31.90 592.40L33.90 590.22L35.89 588.07L37.89 585.94L39.89 583.83L41.88 581.74L43.88 579.68L45.88 577.64L47.88 575.62L49.87 573.63L51.87 571.66L53.87 569.72L55.86 567.80L57.86 565.90L59.86 564.03L61.85 562.19L63.85 560.37L65.85 558.58L67.85 556.81L69.84 555.07L71.84 553.36L73.84 551.67L75.83 550.01L77.83 548.38L79.83 546.78L81.82 545.21L83.82 543.67L85.82 542.15L87.82 540.67L89.81 539.22L91.81 537.79L93.81 536.40L95.80 535.04L97.80 533.72L99.80 532.42L101.79 531.16L103.79 529.93L105.79 528.74L107.79 527.58L109.78 526.45L111.78 525.37L113.78 524.31L115.77 523.30L117.77 522.32L119.77 521.38L121.76 520.49L123.76 519.63L125.76 518.81L127.76 518.03L129.75 517.29L131.75 516.60L133.75 515.95L135.74 515.35L137.74 514.79L139.74 514.28L141.74 513.81L143.73 513.39L145.73 513.03L147.73 512.71L149.72 512.45L151.72 512.24L153.72 512.08L155.71 511.98L157.71 511.94L159.71 511.96L161.71 512.04L163.70 512.18L165.70 512.38L167.70 512.65L169.69 512.99L171.69 513.40L173.69 513.89L175.68 514.44L177.68 515.08L179.68 515.80L181.67 516.60L183.67 517.49L185.67 518.47L187.67 519.55L189.66 520.72L191.66 522.00L193.66 523.39L195.65 524.89L197.65 526.52L199.65 528.27L201.64 530.16L203.64 532.20L205.64 534.39L207.64 536.75L209.63 539.30L211.63 542.04L212.03 542.61L212.43 543.20L212.83 543.79L213.23 544.39L213.63 545.00L214.03 545.62L214.43 546.25L214.83 546.89L215.22 547.55L215.62 548.21L216.02 548.88L216.42 549.56L216.82 550.26L217.22 550.97L217.62 551.69L218.02 552.42L218.42 553.16L218.82 553.92L219.22 554.69L219.62 555.48L220.02 556.28L220.42 557.10L220.82 557.93L221.22 558.78L221.61 559.64L222.01 560.52L222.41 561.42L222.81 562.34L223.21 563.28L223.61 564.24L224.01 565.22L224.41 566.23L224.81 567.26L225.21 568.31L225.61 569.39L226.01 570.50L226.41 571.65L226.81 572.82L227.21 574.04L227.61 575.29L228.01 576.58L228.40 577.93L228.80 579.33L229.20 580.79L229.60 582.33L229.65 582.53L229.70 582.72L229.75 582.93L229.80 583.13L229.85 583.33L229.90 583.54L229.95 583.74L230.00 583.95L230.05 584.16L230.10 584.37L230.15 584.59L230.20 584.80L230.25 585.02L230.30 585.24L230.35 585.46L230.40 585.69L230.45 585.91L230.50 586.14L230.55 586.37L230.60 586.61L230.65 586.84L230.70 587.08L230.75 587.32L230.80 587.57L230.85 587.82L230.90 588.07L230.95 588.33L231.00 588.59L231.05 588.85L231.10 589.12L231.15 589.40L231.20 589.68L231.25 589.97L231.30 590.27L231.35 590.57L231.40 590.89L231.45 591.22L231.50 591.57L231.55 591.95L231.60 592.40" stroke="#be870f" stroke-width="1.30" />
<path d="M31.90 592.40L33.90 590.88L35.89 589.37L37.89 587.85L39.89 586.34L41.88 584.82L43.88 583.30L45.88 581.79L47.88 580.27L49.87 578.76L51.87 577.24L53.87 575.72L55.86 574.21L57.86 572.69L59.86 571.18L61.85 569.66L63.85 568.14L65.85 566.63L67.85 565.11L69.84 563.60L71.84 562.08L73.84 560.56L75.83 559.05L77.83 557.53L79.83 556.02L81.82 554.50L83.82 552.98L85.82 551.47L87.82 549.95L89.81 548.44L91.81 546.92L93.81 545.40L95.80 543.89L97.80 542.37L99.80 540.86L101.79 539.34L103.79 537.82L105.79 536.31L107.79 534.79L109.78 533.28L111.78 531.76L113.78 530.24L115.77 528.73L117.77 527.21L119.77 525.70L121.76 524.18L123.76 522.66L125.76 521.15L127.76 519.63L129.75 518.12L131.75 516.60L133.75 515.08L135.74 513.57L137.74 512.05L139.74 510.54L141.74 509.02L143.73 507.50L145.73 505.99L147.73 504.47L149.72 502.96L151.72 501.44L153.72 499.92L155.71 498.41L157.71 496.89L159.71 495.38L161.71 493.86L163.70 492.34L165.70 490.83L167.70 489.31L169.69 487.80L171.69 486.28L173.69 484.76L175.68 483.25L177.68 481.73L179.68 480.22L181.67 478.70L183.67 477.18L185.67 475.67L187.67 474.15L189.66 472.64L191.66 471.12L193.66 469.60L195.65 468.09L197.65 466.57L199.65 465.06L201.64 463.54L203.64 462.02L205.64 460.51L207.64 458.99L209.63 457.48L211.63 455.96L212.03 455.66L212.43 455.35L212.83 455.05L213.23 454.75L213.63 454.44L214.03 454.14L214.43 453.84L214.83 453.53L215.22 453.23L215.62 452.93L216.02 452.62L216.42 452.32L216.82 452.02L217.22 451.72L217.62 451.41L218.02 451.11L218.42 450.81L218.82 450.50L219.22 450.20L219.62 449.90L220.02 449.59L220.42 449.29L220.82 448.99L221.22 448.68L221.61 448.38L222.01 448.08L222.41 447.77L222.81 447.47L223.21 447.17L223.61 446.86L224.01 446.56L224.41 446.26L224.81 445.95L225.21 445.65L225.61 445.35L226.01 445.04L226.41 444.74L226.81 444.44L227.21 444.14L227.61 443.83L228.01 443.53L228.40 443.23L228.80 442.92L229.20 442.62L229.60 442.32L229.65 442.28L229.70 442.24L229.75 442.20L229.80 442.16L229.85 442.13L229.90 442.09L229.95 442.05L230.00 442.01L230.05 441.97L230.10 441.94L230.15 441.90L230.20 441.86L230.25 441.82L230.30 441.79L230.35 441.75L230.40 441.71L230.45 441.67L230.50 441.63L230.55 441.60L230.60 441.56L230.65 441.52L230.70 441.48L230.75 441.44L230.80 441.41L230.85 441.37L230.90 441.33L230.95 441.29L231.00 441.25L231.05 441.22L231.10 441.18L231.15 441.14L231.20 441.10L231.25 441.07L231.30 441.03L231.35 440.99L231.40 440.95L231.45 440.91L231.50 440.88L231.55 440.84L231.60 440.80" stroke="#ffd75a" stroke-width="0.33" />
<path d="M31.90 592.40L33.90 590.57L35.89 588.76L37.89 586.95L39.89 585.15L41.88 583.37L43.88 581.59L45.88 579.82L47.88 578.07L49.87 576.32L51.87 574.58L53.87 572.86L55.86 571.14L57.86 569.44L59.86 567.75L61.85 566.07L63.85 564.40L65.85 562.74L67.85 561.09L69.84 559.46L71.84 557.84L73.84 556.23L75.83 554.64L77.83 553.06L79.83 551.49L81.82 549.94L83.82 548.40L85.82 546.87L87.82 545.36L89.81 543.86L91.81 542.38L93.81 540.92L95.80 539.47L97.80 538.04L99.80 536.62L101.79 535.22L103.79 533.84L105.79 532.48L107.79 531.13L109.78 529.81L111.78 528.50L113.78 527.21L115.77 525.94L117.77 524.70L119.77 523.47L121.76 522.27L123.76 521.09L125.76 519.93L127.76 518.79L129.75 517.68L131.75 516.60L133.75 515.54L135.74 514.51L137.74 513.50L139.74 512.53L141.74 511.58L143.73 510.66L145.73 509.78L147.73 508.93L149.72 508.11L151.72 507.32L153.72 506.57L155.71 505.86L157.71 505.19L159.71 504.56L161.71 503.97L163.70 503.43L165.70 502.93L167.70 502.48L169.69 502.08L171.69 501.73L173.69 501.44L175.68 501.21L177.68 501.04L179.68 500.94L181.67 500.90L183.67 500.94L185.67 501.05L187.67 501.25L189.66 501.54L191.66 501.92L193.66 502.41L195.65 503.00L197.65 503.72L199.65 504.56L201.64 505.55L203.64 506.70L205.64 508.02L207.64 509.54L209.63 511.27L211.63 513.26L212.03 513.69L212.43 514.14L212.83 514.59L213.23 515.06L213.63 515.54L214.03 516.04L214.43 516.54L214.83 517.07L215.22 517.61L215.62 518.16L216.02 518.73L216.42 519.32L216.82 519.92L217.22 520.54L217.62 521.19L218.02 521.85L218.42 522.53L218.82 523.23L219.22 523.96L219.62 524.71L220.02 525.48L220.42 526.29L220.82 527.11L221.22 527.97L221.61 528.86L222.01 529.78L222.41 530.74L222.81 531.73L223.21 532.77L223.61 533.84L224.01 534.96L224.41 536.13L224.81 537.36L225.21 538.64L225.61 539.99L226.01 541.41L226.41 542.90L226.81 544.48L227.21 546.17L227.61 547.96L228.01 549.88L228.40 551.96L228.80 554.22L229.20 556.70L229.60 559.46L229.65 559.83L229.70 560.20L229.75 560.59L229.80 560.97L229.85 561.37L229.90 561.77L229.95 562.18L230.00 562.59L230.05 563.02L230.10 563.45L230.15 563.89L230.20 564.34L230.25 564.80L230.30 565.27L230.35 565.75L230.40 566.25L230.45 566.75L230.50 567.27L230.55 567.80L230.60 568.35L230.65 568.91L230.70 569.50L230.75 570.10L230.80 570.72L230.85 571.36L230.90 572.03L230.95 572.72L231.00 573.45L231.05 574.21L231.10 575.02L231.15 575.86L231.20 576.76L231.25 577.73L231.30 578.77L231.35 579.92L231.40 581.19L231.45 582.65L231.50 584.40L231.55 586.70L231.60 592.40" stroke="#2257aa" stroke-width="1.25" />
<path d="M31.90 592.40L33.90 590.86L35.89 589.31L37.89 587.77L39.89 586.23L41.88 584.69L43.88 583.14L45.88 581.60L47.88 580.06L49.87 578.52L51.87 576.98L53.87 575.43L55.86 573.89L57.86 572.35L59.86 570.81L61.85 569.28L63.85 567.74L65.85 566.20L67.85 564.66L69.84 563.13L71.84 561.59L73.84 560.06L75.83 558.53L77.83 557.00L79.83 555.47L81.82 553.94L83.82 552.41L85.82 550.89L87.82 549.37L89.81 547.84L91.81 546.32L93.81 544.81L95.80 543.29L97.80 541.78L99.80 540.27L101.79 538.76L103.79 537.26L105.79 535.75L107.79 534.26L109.78 532.76L111.78 531.27L113.78 529.78L115.77 528.30L117.77 526.82L119.77 525.34L121.76 523.87L123.76 522.41L125.76 520.95L127.76 519.49L129.75 518.04L131.75 516.60L133.75 515.16L135.74 513.74L137.74 512.32L139.74 510.90L141.74 509.50L143.73 508.10L145.73 506.72L147.73 505.34L149.72 503.98L151.72 502.63L153.72 501.29L155.71 499.96L157.71 498.65L159.71 497.35L161.71 496.07L163.70 494.81L165.70 493.56L167.70 492.34L169.69 491.14L171.69 489.96L173.69 488.80L175.68 487.68L177.68 486.58L179.68 485.52L181.67 484.49L183.67 483.50L185.67 482.55L187.67 481.64L189.66 480.79L191.66 480.00L193.66 479.26L195.65 478.60L197.65 478.02L199.65 477.52L201.64 477.12L203.64 476.84L205.64 476.69L207.64 476.69L209.63 476.87L211.63 477.26L212.03 477.37L212.43 477.49L212.83 477.62L213.23 477.76L213.63 477.91L214.03 478.08L214.43 478.26L214.83 478.45L215.22 478.66L215.62 478.88L216.02 479.12L216.42 479.37L216.82 479.64L217.22 479.93L217.62 480.24L218.02 480.57L218.42 480.92L218.82 481.30L219.22 481.70L219.62 482.12L220.02 482.57L220.42 483.05L220.82 483.56L221.22 484.10L221.61 484.68L222.01 485.30L222.41 485.96L222.81 486.67L223.21 487.42L223.61 488.23L224.01 489.09L224.41 490.02L224.81 491.01L225.21 492.09L225.61 493.25L226.01 494.51L226.41 495.89L226.81 497.39L227.21 499.03L227.61 500.85L228.01 502.87L228.40 505.14L228.80 507.72L229.20 510.68L229.60 514.15L229.65 514.63L229.70 515.12L229.75 515.62L229.80 516.14L229.85 516.66L229.90 517.21L229.95 517.76L230.00 518.33L230.05 518.92L230.10 519.52L230.15 520.14L230.20 520.78L230.25 521.45L230.30 522.13L230.35 522.84L230.40 523.57L230.45 524.32L230.50 525.11L230.55 525.93L230.60 526.78L230.65 527.66L230.70 528.59L230.75 529.56L230.80 530.58L230.85 531.65L230.90 532.79L230.95 533.99L231.00 535.26L231.05 536.63L231.10 538.10L231.15 539.69L231.20 541.42L231.25 543.34L231.30 545.47L231.35 547.90L231.40 550.74L231.45 554.16L231.50 558.57L231.55 565.07L231.60 592.40" stroke="#23791f" stroke-width="1.25" />
<path d="M31.90 592.40L33.16 591.40L34.41 590.21L35.67 588.87L36.92 587.33L38.18 585.55L39.44 583.63L40.69 581.64L41.95 579.51L43.20 577.30L44.46 575.08L45.72 572.82L46.97 570.54L48.23 568.27L49.48 565.96L50.74 563.68L52.00 561.49L53.25 559.39L54.51 557.36L55.76 555.41L57.02 553.54L58.28 551.75L59.53 550.01L60.79 548.33L62.04 546.69L63.30 545.08L64.56 543.53L65.81 542.04L67.07 540.60L68.32 539.22L69.58 537.88L70.84 536.57L72.09 535.30L73.35 534.05L74.60 532.83L75.86 531.65L77.12 530.50L78.37 529.39L79.63 528.32L80.88 527.29L82.14 526.27L83.39 525.28L84.65 524.28L85.91 523.30L87.16 522.33L88.42 521.38L89.67 520.49L90.93 519.63L92.19 518.80L93.44 518.00L94.70 517.24L95.95 516.52L97.21 515.82L98.47 515.15L99.72 514.51L100.98 513.92L102.23 513.39L103.49 512.87L104.75 512.39L106.00 511.95L107.26 511.58L108.51 511.27L109.77 510.97L111.03 510.70L112.28 510.52L113.54 510.46L114.79 510.51L116.05 510.61L117.31 510.76L118.56 510.95L119.82 511.15L121.07 511.43L122.33 511.81L123.59 512.28L124.84 512.80L126.10 513.34L127.35 513.97L128.61 514.68L129.87 515.44L131.12 516.22L132.38 516.98L133.63 517.78L134.89 518.59L136.15 519.40L137.40 520.19L138.66 520.92L139.91 521.62L141.17 522.29L142.43 522.96L143.68 523.66L144.94 524.41L146.19 525.23L147.45 526.13L148.71 527.08L149.96 528.08L151.22 529.11L152.47 530.15L153.73 531.18L154.99 532.18L156.24 533.15L157.50 534.07L158.75 534.97L160.01 535.85L161.27 536.73L162.52 537.60L163.78 538.47L165.03 539.36L166.29 540.26L167.55 541.19L168.80 542.16L170.06 543.16L171.31 544.17L172.57 545.19L173.83 546.21L175.08 547.22L176.34 548.20L177.59 549.14L178.85 550.04L180.11 550.87L181.36 551.67L182.62 552.46L183.87 553.27L185.13 554.12L186.38 555.04L187.64 556.05L188.90 557.12L190.15 558.26L191.41 559.43L192.66 560.63L193.92 561.84L195.18 563.04L196.43 564.22L197.69 565.36L198.94 566.45L200.20 567.49L201.46 568.50L202.71 569.49L203.97 570.47L205.22 571.43L206.48 572.37L207.74 573.31L208.99 574.23L210.25 575.14L211.50 576.05L212.76 576.93L214.02 577.80L215.27 578.65L216.53 579.50L217.78 580.34L219.04 581.19L220.30 582.04L221.55 582.91L222.81 583.78L224.06 584.66L225.32 585.55L226.58 586.44L227.83 587.34L229.09 588.25L230.34 589.17L231.60 590.13" stroke="#93ccf5" stroke-width="0.62" />
<path d="M31.90 592.40L33.90 590.88L35.89 589.37L37.89 587.85L39.89 586.34L41.88 584.82L43.88 583.30L45.88 581.79L47.88 580.27L49.87 578.76L51.87 577.24L53.87 575.72L55.86 574.21L57.86 572.69L59.86 571.18L61.85 569.66L63.85 568.14L65.85 566.63L67.85 565.11L69.84 563.60L71.84 562.08L73.84 560.56L75.83 559.05L77.83 557.53L79.83 556.02L81.82 554.50L83.82 552.98L85.82 551.47L87.82 549.95L89.81 548.44L91.81 546.92L93.81 545.40L95.80 543.89L97.80 542.37L99.80 540.86L101.79 539.34L103.79 537.82L105.79 536.31L107.79 534.79L109.78 533.28L111.78 531.76L113.78 530.24L115.77 528.73L117.77 527.21L119.77 525.70L121.76 524.18L123.76 522.66L125.76 521.15L127.76 519.63L129.75 518.12L131.75 516.60L133.75 515.08L135.74 513.57L137.74 512.05L139.74 510.54L141.74 509.02L143.73 507.50L145.73 505.99L147.73 504.47L149.72 502.96L151.72 501.44L153.72 499.92L155.71 498.41L157.71 496.89L159.71 495.38L161.71 493.86L163.70 492.34L165.70 490.83L167.70 489.31L169.69 487.80L171.69 486.28L173.69 484.76L175.68 483.25L177.68 481.73L179.68 480.22L181.67 478.70L183.67 477.18L185.67 475.67L187.67 474.15L189.66 472.64L191.66 471.12L193.66 469.60L195.65 468.09L197.65 466.57L199.65 465.06L201.64 463.54L203.64 462.02L205.64 460.51L207.64 458.99L209.63 457.48L211.63 455.96L212.03 455.66L212.43 455.35L212.83 455.05L213.23 454.75L213.63 454.44L214.03 454.14L214.43 453.84L214.83 453.53L215.22 453.23L215.62 452.93L216.02 452.62L216.42 452.32L216.82 452.02L217.22 451.72L217.62 451.41L218.02 451.11L218.42 450.81L218.82 450.50L219.22 450.20L219.62 449.90L220.02 449.59L220.42 449.29L220.82 448.99L221.22 448.68L221.61 448.38L222.01 448.08L222.41 447.77L222.81 447.47L223.21 447.17L223.61 446.86L224.01 446.56L224.41 446.26L224.81 445.95L225.21 445.65L225.61 445.35L226.01 445.04L226.41 444.74L226.81 444.44L227.21 444.14L227.61 443.83L228.01 443.53L228.40 443.23L228.80 442.92L229.20 442.62L229.60 442.32L229.65 442.28L229.70 442.24L229.75 442.20L229.80 442.16L229.85 442.13L229.90 442.09L229.95 442.05L230.00 442.01L230.05 441.97L230.10 441.94L230.15 441.90L230.20 441.86L230.25 441.82L230.30 441.79L230.35 441.75L230.40 441.71L230.45 441.67L230.50 441.63L230.55 441.60L230.60 441.56L230.65 441.52L230.70 441.48L230.75 441.44L230.80 441.41L230.85 441.37L230.90 441.33L230.95 441.29L231.00 441.25L231.05 441.22L231.10 441.18L231.15 441.14L231.20 441.10L231.25 441.07L231.30 441.03L231.35 440.99L231.40 440.95L231.45 440.91L231.50 440.88L231.55 440.84L231.60 440.80" stroke="#f58840" stroke-width="1.15" />
<path d="M31.90 592.40L33.90 581.68L35.89 577.24L37.89 573.83L39.89 570.96L41.88 568.43L43.88 566.14L45.88 564.04L47.88 562.08L49.87 560.24L51.87 558.50L53.87 556.85L55.86 555.27L57.86 553.75L59.86 552.29L61.85 550.88L63.85 549.52L65.85 548.20L67.85 546.92L69.84 545.67L71.84 544.46L73.84 543.28L75.83 542.12L77.83 540.99L79.83 539.88L81.82 538.80L83.82 537.74L85.82 536.70L87.82 535.68L89.81 534.67L91.81 533.69L93.81 532.72L95.80 531.76L97.80 530.82L99.80 529.89L101.79 528.98L103.79 528.08L105.79 527.19L107.79 526.32L109.78 525.46L111.78 524.60L113.78 523.76L115.77 522.93L117.77 522.11L119.77 521.29L121.76 520.49L123.76 519.70L125.76 518.91L127.76 518.13L129.75 517.36L131.75 516.60L133.75 515.85L135.74 515.10L137.74 514.36L139.74 513.63L141.74 512.90L143.73 512.18L145.73 511.47L147.73 510.76L149.72 510.06L151.72 509.37L153.72 508.68L155.71 507.99L157.71 507.31L159.71 506.64L161.71 505.97L163.70 505.31L165.70 504.66L167.70 504.00L169.69 503.36L171.69 502.71L173.69 502.07L175.68 501.44L177.68 500.81L179.68 500.19L181.67 499.56L183.67 498.95L185.67 498.33L187.67 497.73L189.66 497.12L191.66 496.52L193.66 495.92L195.65 495.33L197.65 494.74L199.65 494.15L201.64 493.57L203.64 492.99L205.64 492.41L207.64 491.84L209.63 491.27L211.63 490.70L212.03 490.59L212.43 490.48L212.83 490.37L213.23 490.25L213.63 490.14L214.03 490.03L214.43 489.92L214.83 489.80L215.22 489.69L215.62 489.58L216.02 489.47L216.42 489.36L216.82 489.25L217.22 489.13L217.62 489.02L218.02 488.91L218.42 488.80L218.82 488.69L219.22 488.58L219.62 488.47L220.02 488.36L220.42 488.25L220.82 488.14L221.22 488.03L221.61 487.92L222.01 487.81L222.41 487.70L222.81 487.59L223.21 487.48L223.61 487.37L224.01 487.26L224.41 487.15L224.81 487.04L225.21 486.93L225.61 486.82L226.01 486.71L226.41 486.61L226.81 486.50L227.21 486.39L227.61 486.28L228.01 486.17L228.40 486.06L228.80 485.96L229.20 485.85L229.60 485.74L229.65 485.73L229.70 485.71L229.75 485.70L229.80 485.69L229.85 485.67L229.90 485.66L229.95 485.65L230.00 485.63L230.05 485.62L230.10 485.61L230.15 485.59L230.20 485.58L230.25 485.57L230.30 485.55L230.35 485.54L230.40 485.52L230.45 485.51L230.50 485.50L230.55 485.48L230.60 485.47L230.65 485.46L230.70 485.44L230.75 485.43L230.80 485.42L230.85 485.40L230.90 485.39L230.95 485.38L231.00 485.36L231.05 485.35L231.10 485.34L231.15 485.32L231.20 485.31L231.25 485.30L231.30 485.28L231.35 485.27L231.40 485.26L231.45 485.24L231.50 485.23L231.55 485.22L231.60 485.20" stroke="#aaaaaa" stroke-width="1.05" />
</g>
<path d="M242.60 461.10H250.70" stroke="#2b97e6" stroke-width="1.00" fill="none"/>
<text transform="translate(252.00 462.72) scale(0.860 1)" font-size="4.50" fill="#1f1f1f" stroke="#1f1f1f" stroke-width="0.12" text-anchor="start" font-weight="bold">Exp.</text>
<path d="M242.60 469.68H250.70" stroke="#f47f2e" stroke-width="0.80" fill="none"/>
<text transform="translate(252.00 471.30) scale(0.860 1)" font-size="4.50" fill="#1f1f1f" stroke="#1f1f1f" stroke-width="0.12" text-anchor="start" font-weight="bold">F1</text>
<path d="M242.60 478.26H250.70" stroke="#a3a3a3" stroke-width="0.80" fill="none"/>
<text transform="translate(252.00 479.88) scale(0.860 1)" font-size="4.50" fill="#1f1f1f" stroke="#1f1f1f" stroke-width="0.12" text-anchor="start" font-weight="bold">F2</text>
<path d="M242.60 486.84H250.70" stroke="#ffc000" stroke-width="1.10" fill="none"/>
<text transform="translate(252.00 488.46) scale(0.860 1)" font-size="4.50" fill="#1f1f1f" stroke="#1f1f1f" stroke-width="0.12" text-anchor="start" font-weight="bold">F3</text>
<path d="M242.60 495.42H250.70" stroke="#3d8ee6" stroke-width="0.80" fill="none"/>
<text transform="translate(252.00 497.04) scale(0.860 1)" font-size="4.50" fill="#1f1f1f" stroke="#1f1f1f" stroke-width="0.12" text-anchor="start" font-weight="bold">D1</text>
<path d="M242.60 504.00H250.70" stroke="#55bd4e" stroke-width="1.10" fill="none"/>
<text transform="translate(252.00 505.62) scale(0.860 1)" font-size="4.50" fill="#1f1f1f" stroke="#1f1f1f" stroke-width="0.12" text-anchor="start" font-weight="bold">D2</text>
<path d="M242.60 512.58H250.70" stroke="#1b61a2" stroke-width="1.10" fill="none"/>
<text transform="translate(252.00 514.20) scale(0.860 1)" font-size="4.50" fill="#1f1f1f" stroke="#1f1f1f" stroke-width="0.12" text-anchor="start" font-weight="bold">D3</text>
<path d="M242.60 521.16H250.70" stroke="#e47c3a" stroke-width="0.90" fill="none"/>
<text transform="translate(252.00 522.78) scale(0.860 1)" font-size="4.50" fill="#1f1f1f" stroke="#1f1f1f" stroke-width="0.12" text-anchor="start" font-weight="bold">A2</text>
<path d="M242.60 529.74H250.70" stroke="#a0a0a0" stroke-width="0.90" fill="none"/>
<text transform="translate(252.00 531.36) scale(0.860 1)" font-size="4.50" fill="#1f1f1f" stroke="#1f1f1f" stroke-width="0.12" text-anchor="start" font-weight="bold">A3</text>
<path d="M242.60 538.32H250.70" stroke="#be870f" stroke-width="1.10" fill="none"/>
<text transform="translate(252.00 539.94) scale(0.860 1)" font-size="4.50" fill="#1f1f1f" stroke="#1f1f1f" stroke-width="0.12" text-anchor="start" font-weight="bold">A4</text>
<path d="M242.60 546.90H250.70" stroke="#ffd75a" stroke-width="0.80" fill="none"/>
<text transform="translate(252.00 548.52) scale(0.860 1)" font-size="4.50" fill="#1f1f1f" stroke="#1f1f1f" stroke-width="0.12" text-anchor="start" font-weight="bold">R1</text>
<path d="M242.60 555.48H250.70" stroke="#2257aa" stroke-width="1.10" fill="none"/>
<text transform="translate(252.00 557.10) scale(0.860 1)" font-size="4.50" fill="#1f1f1f" stroke="#1f1f1f" stroke-width="0.12" text-anchor="start" font-weight="bold">R2</text>
<path d="M242.60 564.06H250.70" stroke="#23791f" stroke-width="1.10" fill="none"/>
<text transform="translate(252.00 565.68) scale(0.860 1)" font-size="4.50" fill="#1f1f1f" stroke="#1f1f1f" stroke-width="0.12" text-anchor="start" font-weight="bold">R3</text>
<path d="M242.60 572.64H250.70" stroke="#97d0f7" stroke-width="0.80" fill="none"/>
<text transform="translate(252.00 574.26) scale(0.860 1)" font-size="4.50" fill="#1f1f1f" stroke="#1f1f1f" stroke-width="0.12" text-anchor="start" font-weight="bold">P2</text>
<path d="M242.60 581.22H250.70" stroke="#f58840" stroke-width="0.80" fill="none"/>
<text transform="translate(252.00 582.84) scale(0.860 1)" font-size="4.50" fill="#1f1f1f" stroke="#1f1f1f" stroke-width="0.12" text-anchor="start" font-weight="bold">P3</text>
<path d="M242.60 589.80H250.70" stroke="#aaaaaa" stroke-width="0.80" fill="none"/>
<text transform="translate(252.00 591.42) scale(0.860 1)" font-size="4.50" fill="#1f1f1f" stroke="#1f1f1f" stroke-width="0.12" text-anchor="start" font-weight="bold">P4</text>
</g>
<g>
<rect x="283.2" y="423.0" width="259.2" height="192.5" fill="#fff" stroke="#e4e4e4" stroke-width="0.8"/>
<path d="M307.30 440.00V592.90H508.40" fill="none" stroke="#d4d4d4" stroke-width="0.65"/>
<text transform="translate(303.30 593.96) scale(1.040 1)" font-size="3.50" fill="#555555" text-anchor="end" font-weight="normal">0</text>
<text transform="translate(303.30 568.51) scale(1.040 1)" font-size="3.50" fill="#555555" text-anchor="end" font-weight="normal">0.2</text>
<text transform="translate(303.30 543.06) scale(1.040 1)" font-size="3.50" fill="#555555" text-anchor="end" font-weight="normal">0.4</text>
<text transform="translate(303.30 517.61) scale(1.040 1)" font-size="3.50" fill="#555555" text-anchor="end" font-weight="normal">0.6</text>
<text transform="translate(303.30 492.16) scale(1.040 1)" font-size="3.50" fill="#555555" text-anchor="end" font-weight="normal">0.8</text>
<text transform="translate(303.30 466.71) scale(1.040 1)" font-size="3.50" fill="#555555" text-anchor="end" font-weight="normal">1</text>
<text transform="translate(303.30 441.26) scale(1.040 1)" font-size="3.50" fill="#555555" text-anchor="end" font-weight="normal">1.2</text>
<text transform="translate(307.70 599.64) scale(1.040 1)" font-size="3.45" fill="#555555" text-anchor="middle" font-weight="normal">0.000</text>
<text transform="translate(327.77 599.64) scale(1.040 1)" font-size="3.45" fill="#555555" text-anchor="middle" font-weight="normal">0.100</text>
<text transform="translate(347.84 599.64) scale(1.040 1)" font-size="3.45" fill="#555555" text-anchor="middle" font-weight="normal">0.200</text>
<text transform="translate(367.91 599.64) scale(1.040 1)" font-size="3.45" fill="#555555" text-anchor="middle" font-weight="normal">0.300</text>
<text transform="translate(387.98 599.64) scale(1.040 1)" font-size="3.45" fill="#555555" text-anchor="middle" font-weight="normal">0.400</text>
<text transform="translate(408.05 599.64) scale(1.040 1)" font-size="3.45" fill="#555555" text-anchor="middle" font-weight="normal">0.500</text>
<text transform="translate(428.12 599.64) scale(1.040 1)" font-size="3.45" fill="#555555" text-anchor="middle" font-weight="normal">0.600</text>
<text transform="translate(448.19 599.64) scale(1.040 1)" font-size="3.45" fill="#555555" text-anchor="middle" font-weight="normal">0.700</text>
<text transform="translate(468.26 599.64) scale(1.040 1)" font-size="3.45" fill="#555555" text-anchor="middle" font-weight="normal">0.800</text>
<text transform="translate(488.33 599.64) scale(1.040 1)" font-size="3.45" fill="#555555" text-anchor="middle" font-weight="normal">0.900</text>
<text transform="translate(508.40 599.64) scale(1.040 1)" font-size="3.45" fill="#555555" text-anchor="middle" font-weight="normal">1.000</text>
<text transform="translate(413.00 432.70) scale(1.080 1)" font-size="6.20" fill="#444444" text-anchor="middle" font-weight="normal">(f)</text>
<text transform="translate(408.00 608.70) scale(0.905 1)" font-size="6.30" fill="#1a1a1a" stroke="#1a1a1a" stroke-width="0.18" text-anchor="middle" font-weight="bold">Conversion (%)</text>
<text transform="translate(294.60 517.00) rotate(-90) scale(1.050 1)" font-size="6.30" fill="#1a1a1a" stroke="#1a1a1a" stroke-width="0.18" text-anchor="middle" font-weight="bold">Z(α)/Z(0.5)</text>
<g fill="none" stroke-linejoin="round" stroke-linecap="round">
<path d="M307.70 592.70L308.26 592.70L308.82 592.70L309.38 592.70L309.94 592.38L310.50 591.73L311.05 590.96L311.61 589.86L312.17 588.42L312.73 586.82L313.29 585.21L313.85 583.35L314.41 581.75L314.97 579.42L315.53 577.73L316.09 575.72L316.64 573.74L317.20 571.74L317.76 569.43L318.32 567.26L318.88 565.23L319.44 562.72L320.00 561.39L320.56 559.01L321.12 556.53L321.68 554.88L322.24 552.03L322.79 550.11L323.35 548.21L323.91 545.88L324.47 544.02L325.03 542.14L325.59 539.50L326.15 537.54L326.71 535.89L327.27 534.09L327.83 532.86L328.38 530.84L328.94 529.17L329.50 527.55L330.06 525.95L330.62 525.22L331.18 524.14L331.74 522.58L332.30 521.73L332.86 520.88L333.42 519.02L333.98 518.34L334.53 517.07L335.09 515.99L335.65 514.44L336.21 513.08L336.77 512.28L337.33 510.92L337.89 509.98L338.45 508.12L339.01 507.21L339.57 506.63L340.13 505.25L340.68 504.05L341.24 503.10L341.80 502.34L342.36 501.13L342.92 499.88L343.48 498.94L344.04 498.28L344.60 496.96L345.16 496.36L345.72 495.68L346.27 494.14L346.83 493.00L347.39 492.21L347.95 491.04L348.51 490.07L349.07 489.55L349.63 488.94L350.19 487.95L350.75 487.48L351.31 486.30L351.87 485.50L352.42 484.64L352.98 483.62L353.54 483.67L354.10 482.18L354.66 481.78L355.22 480.73L355.78 480.20L356.34 479.84L356.90 478.72L357.46 478.52L358.01 477.61L358.57 477.33L359.13 476.76L359.69 476.07L360.25 475.09L360.81 474.88L361.37 474.54L361.93 473.59L362.49 473.48L363.05 473.02L363.61 472.64L364.16 471.78L364.72 471.21L365.28 470.82L365.84 470.54L366.40 469.49L366.96 468.84L367.52 468.40L368.08 467.98L368.64 467.48L369.20 466.82L369.75 465.87L370.31 465.73L370.87 465.74L371.43 464.72L371.99 464.56L372.55 463.43L373.11 463.71L373.67 463.26L374.23 462.83L374.79 462.47L375.35 462.22L375.90 461.94L376.46 461.77L377.02 461.65L377.58 461.44L378.14 461.49L378.70 461.17L379.26 461.04L379.82 460.78L380.38 460.50L380.94 460.02L381.49 459.42L382.05 459.22L382.61 458.86L383.17 458.76L383.73 458.91L384.29 458.87L384.85 458.74L385.41 459.22L385.97 458.29L386.53 458.10L387.09 458.56L387.64 457.46L388.20 458.13L388.76 457.95L389.32 458.88L389.88 459.39L390.44 459.65L391.00 459.96L391.56 459.71L392.12 459.15L392.68 458.50L393.24 458.30L393.79 458.09L394.35 458.60L394.91 459.13L395.47 459.55L396.03 459.96L396.59 460.35L397.15 459.97L397.71 460.32L398.27 460.45L398.83 460.35L399.38 460.66L399.94 460.74L400.50 461.25L401.06 461.76L401.62 462.01L402.18 462.50L402.74 462.82L403.30 462.77L403.86 463.30L404.42 463.79L404.98 464.04L405.53 464.37L406.09 464.52L406.65 465.10L407.21 464.84L407.77 465.36L408.33 465.44L408.89 465.74L409.45 466.30L410.01 467.06L410.57 467.55L411.12 467.47L411.68 467.91L412.24 468.90L412.80 469.19L413.36 469.05L413.92 469.64L414.48 469.44L415.04 470.13L415.60 470.39L416.16 471.04L416.72 471.56L417.27 472.26L417.83 473.04L418.39 472.55L418.95 473.12L419.51 473.94L420.07 474.04L420.63 475.17L421.19 474.88L421.75 475.64L422.31 475.80L422.86 477.14L423.42 476.85L423.98 477.48L424.54 478.14L425.10 478.95L425.66 479.14L426.22 479.64L426.78 480.31L427.34 480.93L427.90 481.24L428.46 481.45L429.01 481.33L429.57 481.56L430.13 481.65L430.69 482.18L431.25 482.91L431.81 483.01L432.37 483.46L432.93 483.70L433.49 483.82L434.05 484.80L434.61 485.45L435.16 485.76L435.72 486.25L436.28 486.73L436.84 487.76L437.40 488.29L437.96 488.73L438.52 488.97L439.08 489.67L439.64 490.53L440.20 490.37L440.75 491.57L441.31 492.06L441.87 492.66L442.43 493.45L442.99 493.88L443.55 494.49L444.11 495.08L444.67 495.71L445.23 496.59L445.79 497.35L446.35 497.51L446.90 498.53L447.46 498.88L448.02 499.73L448.58 499.86L449.14 501.26L449.70 502.36L450.26 502.72L450.82 503.04L451.38 503.59L451.94 504.36L452.49 505.39L453.05 505.92L453.61 507.37L454.17 508.07L454.73 509.00L455.29 509.47L455.85 510.16L456.41 511.39L456.97 512.23L457.53 513.43L458.09 514.44L458.64 515.40L459.20 516.20L459.76 517.79L460.32 519.21L460.88 520.52L461.44 522.01L462.00 523.69L462.56 524.38L463.12 526.16L463.68 527.42L464.23 528.74L464.79 529.89L465.35 531.45L465.91 532.69L466.47 533.78L467.03 535.92L467.59 537.73L468.15 538.49L468.71 540.31L469.27 541.75L469.83 543.26L470.38 544.99L470.94 546.30L471.50 548.25L472.06 549.29L472.62 550.65L473.18 552.32L473.74 553.46L474.30 554.46L474.86 555.43L475.42 556.61L475.97 557.22L476.53 558.34L477.09 559.19L477.65 560.61L478.21 560.90L478.77 561.28L479.33 561.88L479.89 562.11L480.45 562.64L481.01 562.96L481.57 562.98L482.12 563.19L482.68 563.63L483.24 564.07L483.80 564.44L484.36 565.27L484.92 566.25L485.48 567.35L486.04 567.93L486.60 568.30L487.16 567.63L487.72 566.82L488.27 565.57L488.83 565.17L489.39 564.78L489.95 564.40L490.51 564.00L491.07 564.07L491.63 563.32L492.19 563.22L492.75 562.88L493.31 562.25L493.86 562.83L494.42 563.01L494.98 562.44L495.54 563.31L496.10 564.16L496.66 565.63L497.22 566.53L497.78 567.78L498.34 569.96L498.90 570.64L499.46 571.85L500.01 573.04L500.57 574.75L501.13 575.68L501.69 576.48L502.25 577.87L502.81 579.64L503.37 580.50L503.93 581.92L504.49 582.61L505.05 584.55L505.60 584.44L506.16 585.46L506.72 586.25L507.28 588.06L507.84 589.41L508.40 591.17" stroke="#2b97e6" stroke-width="1.45" />
<path d="M509.30 551.98L509.30 592.70" stroke="#6ab6ee" stroke-width="1.25" />
<path d="M307.70 592.70L308.96 591.02L310.22 589.02L311.49 586.77L312.75 584.19L314.01 581.20L315.27 577.97L316.54 574.63L317.80 571.05L319.06 567.35L320.32 563.63L321.58 559.83L322.85 556.00L324.11 552.18L325.37 548.32L326.63 544.49L327.90 540.81L329.16 537.28L330.42 533.88L331.68 530.60L332.95 527.47L334.21 524.45L335.47 521.54L336.73 518.72L337.99 515.96L339.26 513.27L340.52 510.66L341.78 508.15L343.04 505.74L344.31 503.42L345.57 501.17L346.83 498.98L348.09 496.84L349.35 494.75L350.62 492.70L351.88 490.72L353.14 488.79L354.40 486.93L355.67 485.13L356.93 483.39L358.19 481.69L359.45 480.01L360.72 478.35L361.98 476.69L363.24 475.06L364.50 473.48L365.76 471.97L367.03 470.53L368.29 469.14L369.55 467.80L370.81 466.52L372.08 465.31L373.34 464.14L374.60 463.01L375.86 461.94L377.12 460.95L378.39 460.05L379.65 459.19L380.91 458.38L382.17 457.64L383.44 457.02L384.70 456.50L385.96 455.99L387.22 455.55L388.48 455.24L389.75 455.14L391.01 455.22L392.27 455.40L393.53 455.65L394.80 455.96L396.06 456.30L397.32 456.77L398.58 457.42L399.85 458.20L401.11 459.07L402.37 459.97L403.63 461.03L404.89 462.23L406.16 463.51L407.42 464.81L408.68 466.09L409.94 467.42L411.21 468.79L412.47 470.15L413.73 471.47L414.99 472.71L416.25 473.87L417.52 475.00L418.78 476.13L420.04 477.31L421.30 478.56L422.57 479.94L423.83 481.44L425.09 483.05L426.35 484.73L427.62 486.45L428.88 488.19L430.14 489.92L431.40 491.61L432.66 493.23L433.93 494.78L435.19 496.29L436.45 497.77L437.71 499.24L438.98 500.70L440.24 502.17L441.50 503.66L442.76 505.18L444.02 506.74L445.29 508.36L446.55 510.03L447.81 511.73L449.07 513.45L450.34 515.16L451.60 516.85L452.86 518.50L454.12 520.08L455.38 521.58L456.65 522.98L457.91 524.33L459.17 525.66L460.43 527.02L461.70 528.44L462.96 529.99L464.22 531.67L465.48 533.48L466.75 535.38L468.01 537.35L469.27 539.36L470.53 541.39L471.79 543.41L473.06 545.39L474.32 547.31L475.58 549.14L476.84 550.88L478.11 552.58L479.37 554.24L480.63 555.88L481.89 557.49L483.15 559.08L484.42 560.65L485.68 562.19L486.94 563.73L488.20 565.25L489.47 566.73L490.73 568.18L491.99 569.62L493.25 571.04L494.52 572.46L495.78 573.88L497.04 575.31L498.30 576.76L499.56 578.24L500.83 579.71L502.09 581.20L503.35 582.69L504.61 584.20L505.88 585.73L507.14 587.28L508.40 588.88" stroke="#93ccf5" stroke-width="0.68" />
<path d="M307.70 592.70L309.71 589.05L311.71 585.43L313.72 581.85L315.73 578.31L317.74 574.81L319.74 571.34L321.75 567.92L323.76 564.53L325.76 561.19L327.77 557.88L329.78 554.62L331.78 551.40L333.79 548.21L335.80 545.08L337.81 541.98L339.81 538.93L341.82 535.92L343.83 532.95L345.83 530.03L347.84 527.16L349.85 524.33L351.85 521.54L353.86 518.81L355.87 516.12L357.88 513.48L359.88 510.89L361.89 508.35L363.90 505.86L365.90 503.42L367.91 501.03L369.92 498.69L371.92 496.41L373.93 494.18L375.94 492.01L377.94 489.89L379.95 487.83L381.96 485.82L383.97 483.88L385.97 481.99L387.98 480.17L389.99 478.40L391.99 476.70L394.00 475.06L396.01 473.48L398.01 471.97L400.02 470.53L402.03 469.15L404.04 467.85L406.04 466.61L408.05 465.45L410.06 464.36L412.06 463.35L414.07 462.41L416.08 461.55L418.08 460.77L420.09 460.07L422.10 459.45L424.11 458.92L426.11 458.48L428.12 458.13L430.13 457.87L432.13 457.70L434.14 457.63L436.15 457.66L438.15 457.79L440.16 458.03L442.17 458.37L444.18 458.82L446.18 459.39L448.19 460.08L450.20 460.89L452.20 461.83L454.21 462.90L456.22 464.10L458.22 465.45L460.23 466.94L462.24 468.59L464.25 470.39L466.25 472.37L468.26 474.51L470.27 476.84L472.27 479.37L474.28 482.10L476.29 485.04L478.29 488.22L480.30 491.64L482.31 495.32L484.32 499.28L486.32 503.55L488.33 508.16L488.73 509.12L489.13 510.10L489.53 511.09L489.94 512.10L490.34 513.13L490.74 514.17L491.14 515.23L491.54 516.31L491.94 517.40L492.34 518.51L492.75 519.64L493.15 520.79L493.55 521.96L493.95 523.14L494.35 524.35L494.75 525.58L495.15 526.83L495.56 528.11L495.96 529.40L496.36 530.72L496.76 532.06L497.16 533.43L497.56 534.83L497.96 536.25L498.37 537.70L498.77 539.18L499.17 540.69L499.57 542.24L499.97 543.81L500.37 545.43L500.77 547.07L501.17 548.76L501.58 550.49L501.98 552.26L502.38 554.08L502.78 555.94L503.18 557.86L503.58 559.83L503.98 561.87L504.39 563.97L504.79 566.15L505.19 568.41L505.59 570.76L505.99 573.21L506.39 575.79L506.44 576.12L506.49 576.46L506.54 576.79L506.59 577.13L506.64 577.48L506.69 577.82L506.74 578.17L506.79 578.52L506.84 578.87L506.89 579.23L506.94 579.59L507.00 579.95L507.05 580.31L507.10 580.68L507.15 581.05L507.20 581.43L507.25 581.81L507.30 582.19L507.35 582.58L507.40 582.97L507.45 583.37L507.50 583.77L507.55 584.18L507.60 584.59L507.65 585.01L507.70 585.43L507.75 585.86L507.80 586.30L507.85 586.75L507.90 587.20L507.95 587.66L508.00 588.14L508.05 588.62L508.10 589.12L508.15 589.63L508.20 590.16L508.25 590.72L508.30 591.30L508.35 591.94L508.40 592.70" stroke="#f47f2e" stroke-width="1.40" />
<path d="M307.70 592.70L309.71 587.66L311.71 582.72L313.72 577.89L315.73 573.15L317.74 568.52L319.74 563.99L321.75 559.56L323.76 555.24L325.76 551.01L327.77 546.89L329.78 542.87L331.78 538.95L333.79 535.13L335.80 531.42L337.81 527.80L339.81 524.29L341.82 520.88L343.83 517.57L345.83 514.36L347.84 511.26L349.85 508.26L351.85 505.36L353.86 502.56L355.87 499.86L357.88 497.26L359.88 494.77L361.89 492.38L363.90 490.09L365.90 487.90L367.91 485.81L369.92 483.82L371.92 481.94L373.93 480.16L375.94 478.48L377.94 476.90L379.95 475.43L381.96 474.05L383.97 472.78L385.97 471.61L387.98 470.54L389.99 469.57L391.99 468.71L394.00 467.94L396.01 467.28L398.01 466.72L400.02 466.26L402.03 465.91L404.04 465.65L406.04 465.50L408.05 465.45L410.06 465.50L412.06 465.65L414.07 465.91L416.08 466.26L418.08 466.72L420.09 467.28L422.10 467.94L424.11 468.71L426.11 469.57L428.12 470.54L430.13 471.61L432.13 472.78L434.14 474.05L436.15 475.43L438.15 476.90L440.16 478.48L442.17 480.16L444.18 481.94L446.18 483.82L448.19 485.81L450.20 487.90L452.20 490.09L454.21 492.38L456.22 494.77L458.22 497.26L460.23 499.86L462.24 502.56L464.25 505.36L466.25 508.26L468.26 511.26L470.27 514.36L472.27 517.57L474.28 520.88L476.29 524.29L478.29 527.80L480.30 531.42L482.31 535.13L484.32 538.95L486.32 542.87L488.33 546.89L488.73 547.71L489.13 548.53L489.53 549.35L489.94 550.18L490.34 551.01L490.74 551.85L491.14 552.69L491.54 553.54L491.94 554.38L492.34 555.24L492.75 556.09L493.15 556.96L493.55 557.82L493.95 558.69L494.35 559.56L494.75 560.44L495.15 561.32L495.56 562.21L495.96 563.10L496.36 563.99L496.76 564.89L497.16 565.79L497.56 566.70L497.96 567.61L498.37 568.52L498.77 569.44L499.17 570.36L499.57 571.29L499.97 572.22L500.37 573.15L500.77 574.09L501.17 575.04L501.58 575.98L501.98 576.93L502.38 577.89L502.78 578.85L503.18 579.81L503.58 580.78L503.98 581.75L504.39 582.72L504.79 583.70L505.19 584.69L505.59 585.67L505.99 586.67L506.39 587.66L506.44 587.79L506.49 587.91L506.54 588.04L506.59 588.16L506.64 588.29L506.69 588.41L506.74 588.54L506.79 588.66L506.84 588.79L506.89 588.91L506.94 589.04L507.00 589.16L507.05 589.29L507.10 589.41L507.15 589.54L507.20 589.66L507.25 589.79L507.30 589.92L507.35 590.04L507.40 590.17L507.45 590.29L507.50 590.42L507.55 590.55L507.60 590.67L507.65 590.80L507.70 590.92L507.75 591.05L507.80 591.18L507.85 591.30L507.90 591.43L507.95 591.56L508.00 591.68L508.05 591.81L508.10 591.94L508.15 592.06L508.20 592.19L508.25 592.32L508.30 592.45L508.35 592.57L508.40 592.70" stroke="#a3a3a3" stroke-width="1.15" />
<path d="M307.70 592.70L309.71 589.45L311.71 586.22L313.72 583.01L315.73 579.82L317.74 576.66L319.74 573.52L321.75 570.40L323.76 567.31L325.76 564.24L327.77 561.20L329.78 558.18L331.78 555.19L333.79 552.22L335.80 549.28L337.81 546.37L339.81 543.48L341.82 540.62L343.83 537.79L345.83 534.99L347.84 532.21L349.85 529.47L351.85 526.75L353.86 524.07L355.87 521.42L357.88 518.79L359.88 516.20L361.89 513.64L363.90 511.12L365.90 508.63L367.91 506.17L369.92 503.75L371.92 501.36L373.93 499.01L375.94 496.70L377.94 494.42L379.95 492.19L381.96 489.99L383.97 487.83L385.97 485.72L387.98 483.64L389.99 481.61L391.99 479.63L394.00 477.69L396.01 475.79L398.01 473.94L400.02 472.14L402.03 470.39L404.04 468.69L406.04 467.04L408.05 465.45L410.06 463.91L412.06 462.43L414.07 461.00L416.08 459.64L418.08 458.33L420.09 457.09L422.10 455.91L424.11 454.81L426.11 453.77L428.12 452.80L430.13 451.90L432.13 451.08L434.14 450.34L436.15 449.69L438.15 449.11L440.16 448.63L442.17 448.24L444.18 447.94L446.18 447.74L448.19 447.65L450.20 447.66L452.20 447.79L454.21 448.04L456.22 448.41L458.22 448.91L460.23 449.55L462.24 450.34L464.25 451.28L466.25 452.39L468.26 453.67L470.27 455.13L472.27 456.80L474.28 458.68L476.29 460.79L478.29 463.15L480.30 465.78L482.31 468.72L484.32 471.98L486.32 475.62L488.33 479.66L488.73 480.53L489.13 481.41L489.53 482.31L489.94 483.24L490.34 484.18L490.74 485.15L491.14 486.14L491.54 487.15L491.94 488.18L492.34 489.24L492.75 490.32L493.15 491.44L493.55 492.57L493.95 493.74L494.35 494.93L494.75 496.16L495.15 497.41L495.56 498.70L495.96 500.02L496.36 501.38L496.76 502.78L497.16 504.21L497.56 505.69L497.96 507.20L498.37 508.77L498.77 510.38L499.17 512.04L499.57 513.75L499.97 515.52L500.37 517.34L500.77 519.24L501.17 521.20L501.58 523.23L501.98 525.34L502.38 527.54L502.78 529.83L503.18 532.22L503.58 534.73L503.98 537.36L504.39 540.14L504.79 543.07L505.19 546.19L505.59 549.53L505.99 553.13L506.39 557.04L506.44 557.56L506.49 558.08L506.54 558.61L506.59 559.15L506.64 559.69L506.69 560.24L506.74 560.80L506.79 561.37L506.84 561.94L506.89 562.53L506.94 563.12L507.00 563.72L507.05 564.34L507.10 564.96L507.15 565.60L507.20 566.24L507.25 566.90L507.30 567.58L507.35 568.26L507.40 568.97L507.45 569.68L507.50 570.42L507.55 571.17L507.60 571.94L507.65 572.74L507.70 573.56L507.75 574.40L507.80 575.27L507.85 576.17L507.90 577.11L507.95 578.09L508.00 579.12L508.05 580.19L508.10 581.34L508.15 582.56L508.20 583.89L508.25 585.35L508.30 587.02L508.35 589.06L508.40 592.70" stroke="#1b61a2" stroke-width="1.40" />
</g>
<path d="M520.00 512.50H527.70" stroke="#2b97e6" stroke-width="1.00" fill="none"/>
<text transform="translate(529.00 514.12) scale(0.860 1)" font-size="4.50" fill="#1f1f1f" stroke="#1f1f1f" stroke-width="0.12" text-anchor="start" font-weight="bold">Exp.</text>
<path d="M520.00 521.13H527.70" stroke="#f47f2e" stroke-width="1.30" fill="none"/>
<text transform="translate(529.00 522.75) scale(0.860 1)" font-size="4.50" fill="#1f1f1f" stroke="#1f1f1f" stroke-width="0.12" text-anchor="start" font-weight="bold">F1</text>
<path d="M520.00 529.76H527.70" stroke="#a3a3a3" stroke-width="1.20" fill="none"/>
<text transform="translate(529.00 531.38) scale(0.860 1)" font-size="4.50" fill="#1f1f1f" stroke="#1f1f1f" stroke-width="0.12" text-anchor="start" font-weight="bold">F2</text>
<path d="M520.00 538.39H527.70" stroke="#1b61a2" stroke-width="1.20" fill="none"/>
<text transform="translate(529.00 540.01) scale(0.860 1)" font-size="4.50" fill="#1f1f1f" stroke="#1f1f1f" stroke-width="0.12" text-anchor="start" font-weight="bold">D3</text>
</g>
</svg></body></html>
